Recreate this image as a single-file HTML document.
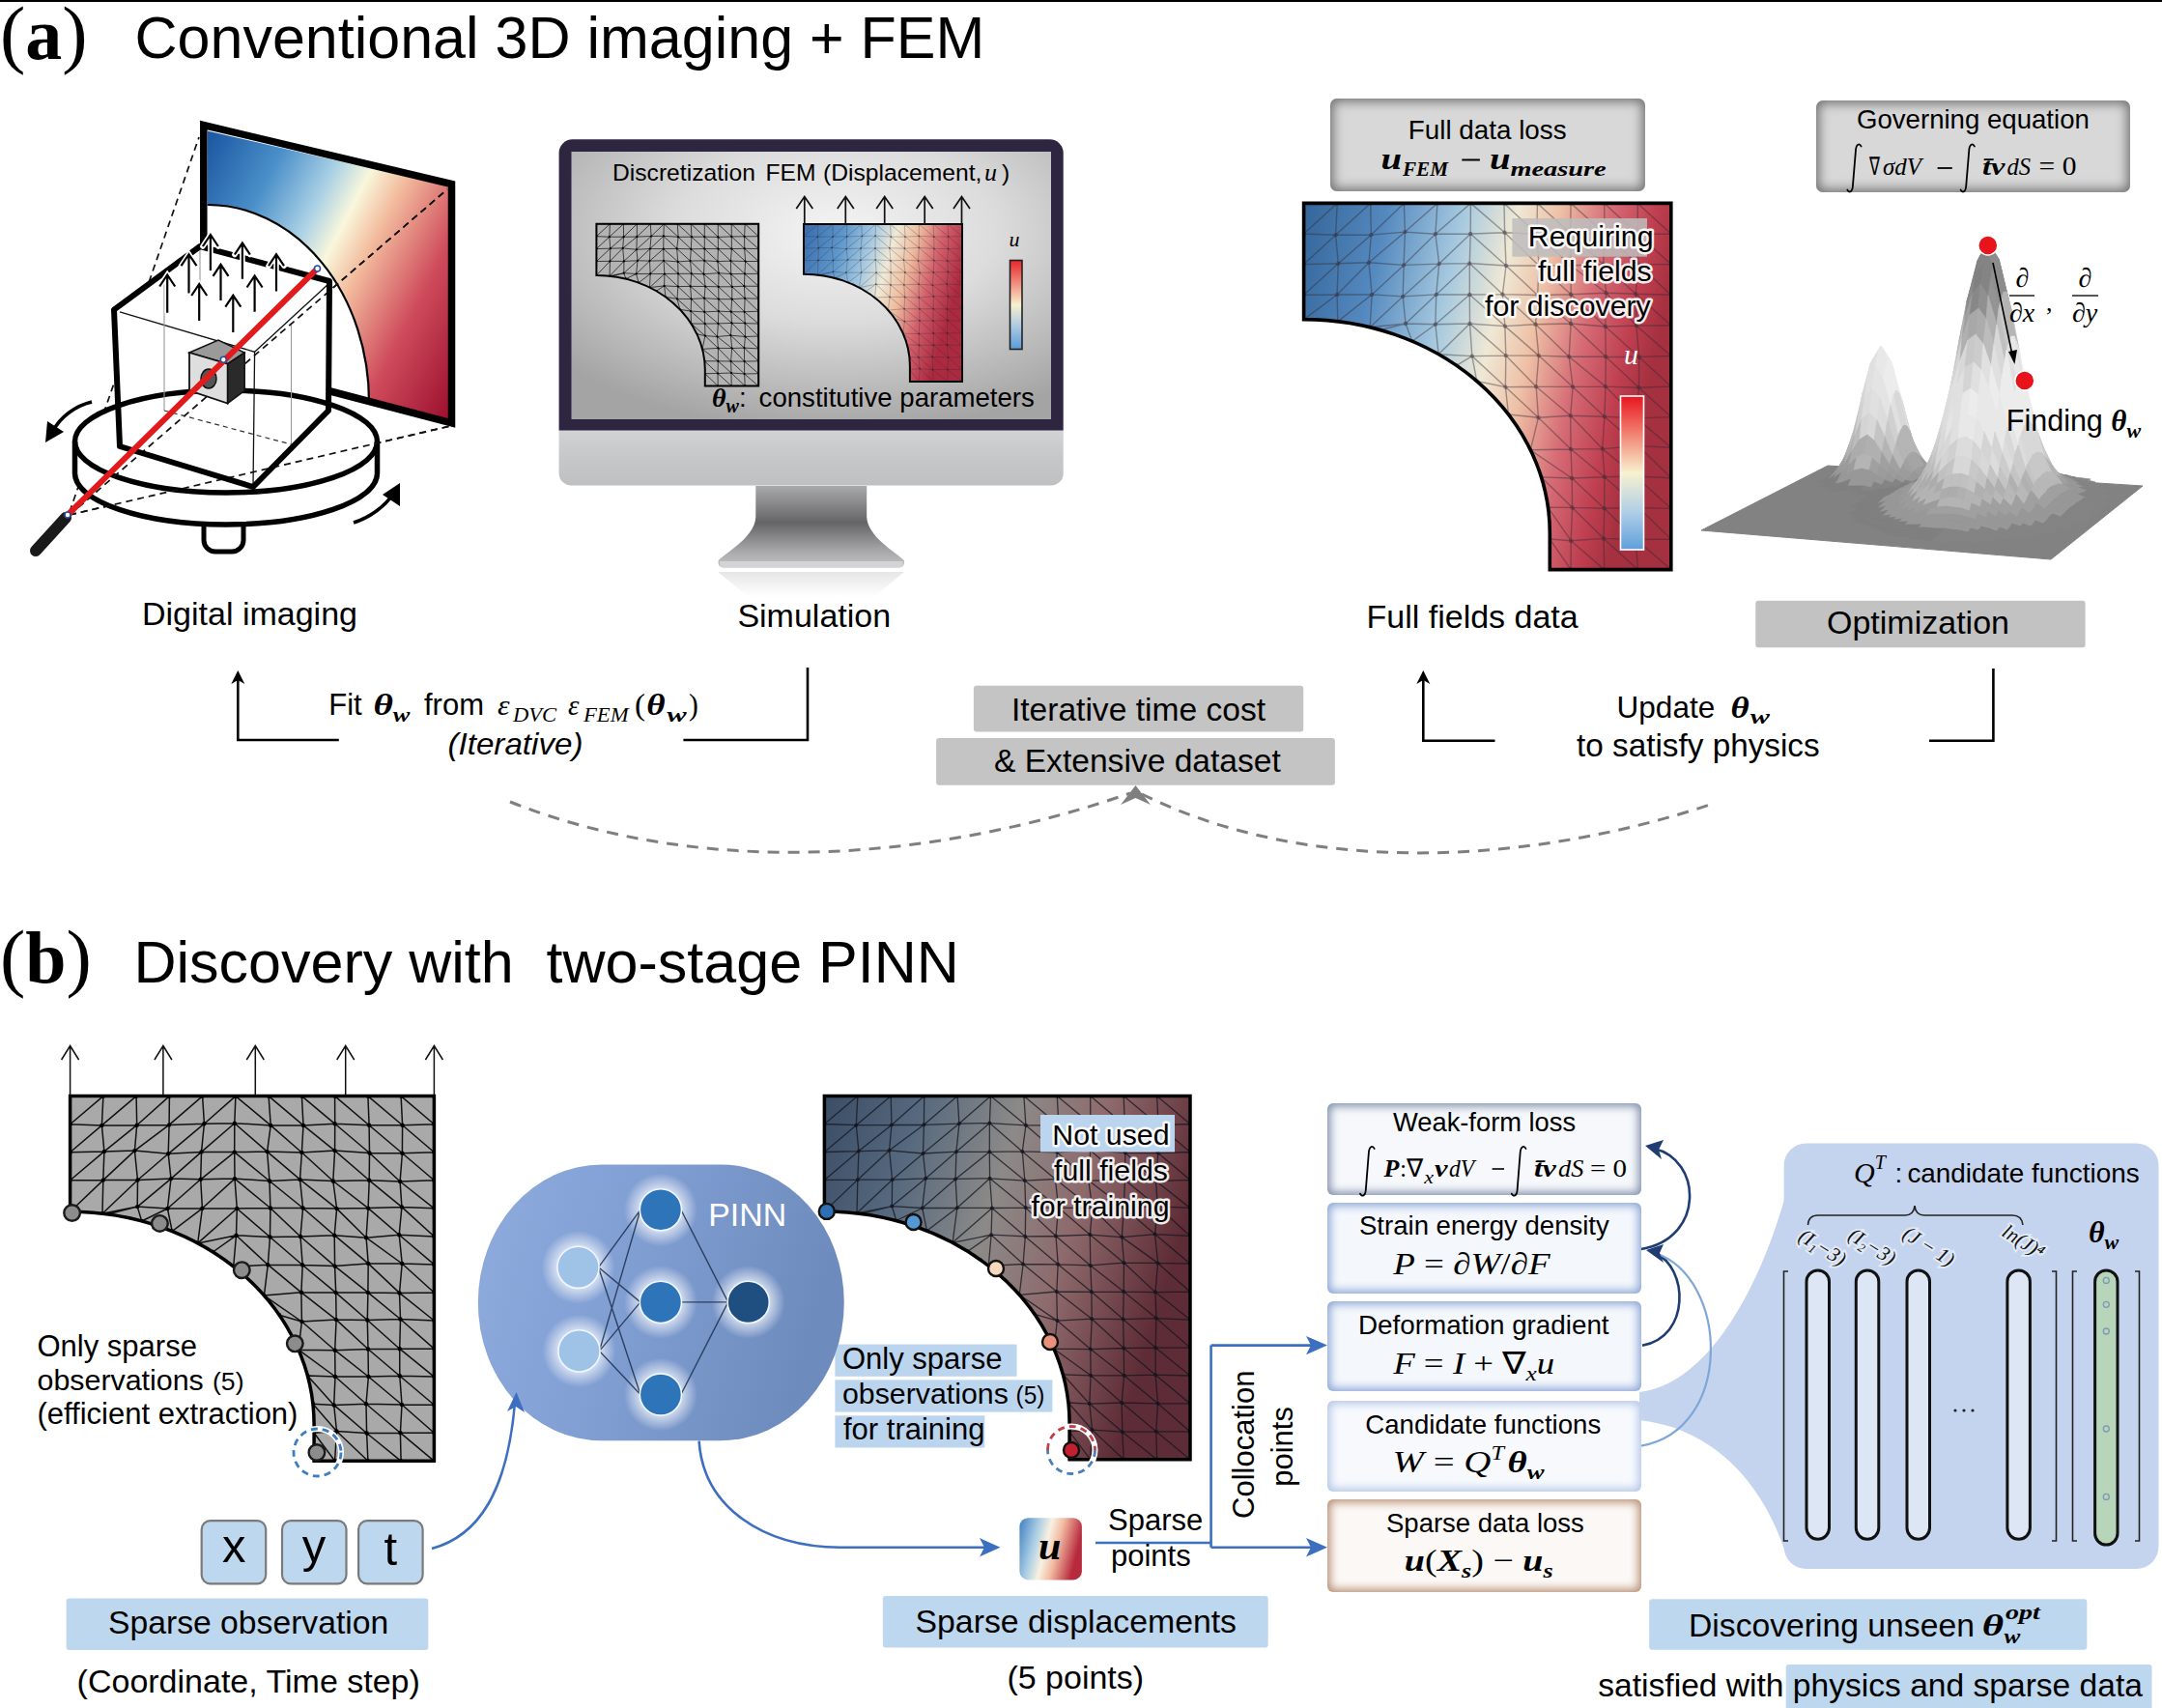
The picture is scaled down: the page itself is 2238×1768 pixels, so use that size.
<!DOCTYPE html>
<html><head><meta charset="utf-8"><style>
html,body{margin:0;padding:0;background:#fff;}
body{width:2238px;height:1768px;overflow:hidden;position:relative;}
svg{position:absolute;left:0;top:0;}
.bx{position:absolute;box-sizing:border-box;}
</style></head><body>




<div class="bx" style="left:1377.3px;top:101.8px;width:325.9px;height:96.5px;border-radius:7px;background:#d8d8d8;box-shadow:inset 0 0 12px 3px #707070;"></div><div class="bx" style="left:1879.9px;top:103.8px;width:324.7px;height:95px;border-radius:7px;background:#d8d8d8;box-shadow:inset 0 0 12px 3px #707070;"></div>

<div class="bx" style="left:1374px;top:1142.4px;width:325px;height:94.6px;border-radius:6px;background:#f6f8fb;box-shadow:inset 0 0 10px 3px #7f8fac;"></div><div class="bx" style="left:1374px;top:1244.8px;width:325px;height:94.7px;border-radius:6px;background:#f4f7fc;box-shadow:inset 0 0 10px 3px #8aa5d6;"></div><div class="bx" style="left:1374px;top:1347.2px;width:325px;height:93.1px;border-radius:6px;background:#f4f7fc;box-shadow:inset 0 0 10px 3px #8aa5d6;"></div><div class="bx" style="left:1374px;top:1449.6px;width:325px;height:94.7px;border-radius:6px;background:#f7f9fd;box-shadow:inset 0 0 10px 3px #b3c6e8;"></div><div class="bx" style="left:1374px;top:1552px;width:325px;height:96.2px;border-radius:6px;background:#fbf8f6;box-shadow:inset 0 0 10px 3px #b88e72;"></div>
<svg width="2238" height="1768" viewBox="0 0 2238 1768">
<rect x="0" y="0" width="2238" height="2" fill="#000"/>
<!-- imaging --><defs><linearGradient id="g_scr2" gradientUnits="userSpaceOnUse" x1="215" y1="150" x2="528" y2="312">
<stop offset="0" stop-color="#1d5aa3"/><stop offset="0.2" stop-color="#4a8fc9"/><stop offset="0.36" stop-color="#a9d0e5"/>
<stop offset="0.46" stop-color="#f9f7dc"/><stop offset="0.56" stop-color="#f3bd9f"/><stop offset="0.76" stop-color="#cf4c5c"/><stop offset="1" stop-color="#9c0f2e"/></linearGradient></defs><path d="M214.7,135.5 L464,193 L464,437 L382,416 A167,204 0 0 0 214.7,212 Z" fill="url(#g_scr2)"/><path d="M382,416 A167,204 0 0 0 214.7,212" fill="none" stroke="#000" stroke-width="2.2"/><path d="M210.8,258 V129.5 L467.5,190.5 V438 L342,405" fill="none" stroke="#000" stroke-width="7.5" stroke-linejoin="miter"/><path d="M72,530 L206,142" stroke="#111" stroke-width="1.7" stroke-dasharray="7 5" fill="none"/><path d="M72,533 L463,196" stroke="#111" stroke-width="1.7" stroke-dasharray="7 5" fill="none"/><path d="M72,533 L466,441" stroke="#111" stroke-width="1.7" stroke-dasharray="7 5" fill="none"/><path d="M118,320.6 L207,255 L341,291 L340,425 L262,504 L124,460 Z" fill="#fff"/><rect x="211" y="530" width="41" height="41" rx="12" fill="#fff" stroke="#000" stroke-width="5"/><path d="M77.5,490 A156.5,53 0 0 0 390.5,490 V457 A156.5,53 0 0 0 77.5,457 Z" fill="#fff"/><path d="M77.5,457 V490 A156.5,53 0 0 0 390.5,490 V457" fill="none" stroke="#000" stroke-width="5.5"/><ellipse cx="234" cy="457" rx="156.5" ry="53" fill="none" stroke="#000" stroke-width="5.5"/><path d="M72,533 L466,441" stroke="#111" stroke-width="1.7" stroke-dasharray="7 5" fill="none"/><path d="M124,322.8 L263.6,364.3 L262,504 M263.6,364.3 L341,293" fill="none" stroke="#111" stroke-width="1.3"/><path d="M170,290 V425 M301.5,334 V460 M207,255 V300" fill="none" stroke="#999" stroke-width="1.1"/><path d="M170,425 L301.5,460" fill="none" stroke="#333" stroke-width="1.2" stroke-dasharray="5 4"/><path d="M72,533 L463,196" stroke="#111" stroke-width="1.7" stroke-dasharray="7 5" fill="none"/><path d="M196,365 L226,352 L253.2,365 L235.7,376.6 Z" fill="#9a9a9a" stroke="#111" stroke-width="1.5"/><path d="M196,365 L235.7,376.6 L235.7,417.6 L196,404.4 Z" fill="#dedede" stroke="#111" stroke-width="1.8"/><path d="M235.7,376.6 L253.2,365 L253.2,404.4 L235.7,417.6 Z" fill="#2a2a2a" stroke="#111" stroke-width="1.5"/><ellipse cx="216" cy="392" rx="8" ry="10" fill="#555" stroke="#111" stroke-width="1.5"/><path d="M124,462 L118,320.6 L207,255 L341,291 L340,425 L262,504 Z" fill="none" stroke="#000" stroke-width="6" stroke-linejoin="round"/><path d="M70,533 L328.5,278" stroke="#e31a1c" stroke-width="6" stroke-linecap="round"/><path d="M68,536 L37,570" stroke="#1a1a1a" stroke-width="12" stroke-linecap="round"/><circle cx="70" cy="533" r="3" fill="#fff" stroke="#2a4c9a" stroke-width="1.6"/><circle cx="231.3" cy="372.2" r="3" fill="#fff" stroke="#2a4c9a" stroke-width="1.6"/><circle cx="328.5" cy="278" r="3" fill="#fff" stroke="#2a4c9a" stroke-width="1.6"/><path d="M173.2,323.8 V284.5 M165.2,296.5 L173.2,284.5 L181.2,296.5" fill="none" stroke="#fff" stroke-width="5.5" stroke-linecap="round"/><path d="M173.2,323.8 V284.5 M165.2,296.5 L173.2,284.5 L181.2,296.5" fill="none" stroke="#000" stroke-width="2.2"/><path d="M195.5,303.6 V263.2 M187.5,275.2 L195.5,263.2 L203.5,275.2" fill="none" stroke="#fff" stroke-width="5.5" stroke-linecap="round"/><path d="M195.5,303.6 V263.2 M187.5,275.2 L195.5,263.2 L203.5,275.2" fill="none" stroke="#000" stroke-width="2.2"/><path d="M206.2,332 V294 M198.2,306 L206.2,294 L214.2,306" fill="none" stroke="#fff" stroke-width="5.5" stroke-linecap="round"/><path d="M206.2,332 V294 M198.2,306 L206.2,294 L214.2,306" fill="none" stroke="#000" stroke-width="2.2"/><path d="M217.9,280 V243 M209.9,255 L217.9,243 L225.9,255" fill="none" stroke="#fff" stroke-width="5.5" stroke-linecap="round"/><path d="M217.9,280 V243 M209.9,255 L217.9,243 L225.9,255" fill="none" stroke="#000" stroke-width="2.2"/><path d="M228.5,311 V273.8 M220.5,285.8 L228.5,273.8 L236.5,285.8" fill="none" stroke="#fff" stroke-width="5.5" stroke-linecap="round"/><path d="M228.5,311 V273.8 M220.5,285.8 L228.5,273.8 L236.5,285.8" fill="none" stroke="#000" stroke-width="2.2"/><path d="M241.3,344 V305.7 M233.3,317.7 L241.3,305.7 L249.3,317.7" fill="none" stroke="#fff" stroke-width="5.5" stroke-linecap="round"/><path d="M241.3,344 V305.7 M233.3,317.7 L241.3,305.7 L249.3,317.7" fill="none" stroke="#000" stroke-width="2.2"/><path d="M250.9,288.7 V251.5 M242.9,263.5 L250.9,251.5 L258.9,263.5" fill="none" stroke="#fff" stroke-width="5.5" stroke-linecap="round"/><path d="M250.9,288.7 V251.5 M242.9,263.5 L250.9,251.5 L258.9,263.5" fill="none" stroke="#000" stroke-width="2.2"/><path d="M263.6,322.8 V285.5 M255.60000000000002,297.5 L263.6,285.5 L271.6,297.5" fill="none" stroke="#fff" stroke-width="5.5" stroke-linecap="round"/><path d="M263.6,322.8 V285.5 M255.60000000000002,297.5 L263.6,285.5 L271.6,297.5" fill="none" stroke="#000" stroke-width="2.2"/><path d="M286,301.5 V263.2 M278,275.2 L286,263.2 L294,275.2" fill="none" stroke="#fff" stroke-width="5.5" stroke-linecap="round"/><path d="M286,301.5 V263.2 M278,275.2 L286,263.2 L294,275.2" fill="none" stroke="#000" stroke-width="2.2"/><path d="M95,416 C78,420 62,432 55,446" fill="none" stroke="#000" stroke-width="3.5"/><path d="M47,458 L49,436 L66,447 Z" fill="#000"/><path d="M366,541 C382,536 398,525 408,510" fill="none" stroke="#000" stroke-width="3.5"/><path d="M414,500 L414,524 L396,512 Z" fill="#000"/>
<!-- monitor --><defs>
<radialGradient id="g_scr" cx="0.55" cy="0.3" r="0.75" fx="0.55" fy="0.3">
<stop offset="0" stop-color="#f4f4f4"/><stop offset="0.45" stop-color="#dcdcdc"/><stop offset="1" stop-color="#a4a4a4"/></radialGradient>
<linearGradient id="g_chin" x1="0" y1="0" x2="0" y2="1"><stop offset="0" stop-color="#d2d3d5"/><stop offset="0.5" stop-color="#c6c7c9"/><stop offset="1" stop-color="#bfc0c2"/></linearGradient>
<linearGradient id="g_neck" x1="0" y1="0" x2="0" y2="1"><stop offset="0" stop-color="#a9a9ab"/><stop offset="0.45" stop-color="#656567"/><stop offset="0.8" stop-color="#a8a8aa"/><stop offset="1" stop-color="#c4c4c6"/></linearGradient>
<linearGradient id="g_refl" x1="0" y1="0" x2="0" y2="1"><stop offset="0" stop-color="#e6e6e6"/><stop offset="1" stop-color="#ffffff"/></linearGradient>
</defs><path d="M743,592 L936,592 L905,618 L775,618 Z" fill="url(#g_refl)"/><path d="M782.3,503 L897.2,503 L897.2,535 C898,555 925,570 935.9,580 L935.9,583 C935.9,586 933,587.5 930,587.5 L749.5,587.5 C746.5,587.5 743.6,586 743.6,583 L743.6,580 C755,570 781.5,555 782.3,535 Z" fill="url(#g_neck)"/><path d="M745,581 L934.5,581 L934.5,583.5 C934.5,586 932,587.5 929,587.5 L750,587.5 C747,587.5 745,586 745,583.5 Z" fill="#d4d4d6"/><path d="M578.6,445 L1100.7,445 L1100.7,490 A12.5,12.5 0 0 1 1088.2,502.5 L591.1,502.5 A12.5,12.5 0 0 1 578.6,490 Z" fill="url(#g_chin)"/><path d="M592.6,144.3 L1086.7,144.3 A14,14 0 0 1 1100.7,158.3 L1100.7,445.5 L578.6,445.5 L578.6,158.3 A14,14 0 0 1 592.6,144.3 Z" fill="#2e2540"/><rect x="591.5" y="157" width="496.5" height="277" fill="url(#g_scr)"/>
<!-- plates --><defs><linearGradient id="g_bwr" x1="0" y1="0" x2="1" y2="0.22">
<stop offset="0" stop-color="#346599"/><stop offset="0.22" stop-color="#5489bf"/><stop offset="0.42" stop-color="#a6c9df"/>
<stop offset="0.56" stop-color="#efe8d5"/><stop offset="0.67" stop-color="#eec1a6"/><stop offset="0.8" stop-color="#d66d76"/><stop offset="0.92" stop-color="#bf3f50"/><stop offset="1" stop-color="#a5303f"/></linearGradient><linearGradient id="g_dark" x1="0" y1="0" x2="1" y2="0.3">
<stop offset="0" stop-color="#3a4d66"/><stop offset="0.25" stop-color="#56697e"/><stop offset="0.5" stop-color="#8c8a88"/>
<stop offset="0.72" stop-color="#8e6a6c"/><stop offset="1" stop-color="#5e2c36"/></linearGradient><linearGradient id="g_bwr2" x1="0" y1="0" x2="1" y2="0.3">
<stop offset="0" stop-color="#386aab"/><stop offset="0.25" stop-color="#5f98cc"/><stop offset="0.42" stop-color="#a6c9e1"/>
<stop offset="0.55" stop-color="#efe9d6"/><stop offset="0.68" stop-color="#eebb9f"/><stop offset="0.83" stop-color="#d2606b"/><stop offset="1" stop-color="#ac2a40"/></linearGradient></defs><clipPath id="cp_C"><path d="M1349.6,210.4 L1729.8,210.4 L1729.8,589.6 L1604.3,589.6 L1604.3,551.7 A254.7,221.1 0 0 0 1349.6,330.6 Z"/></clipPath><path d="M1349.6,210.4 L1729.8,210.4 L1729.8,589.6 L1604.3,589.6 L1604.3,551.7 A254.7,221.1 0 0 0 1349.6,330.6 Z" fill="url(#g_bwr)"/><g clip-path="url(#cp_C)"><path d="M1349.6,210.4L1349.6,242.0M1349.6,210.4L1384.2,210.4M1349.6,242.0L1349.6,273.6M1349.6,242.0L1382.6,243.3M1349.6,273.6L1349.6,305.2M1349.6,273.6L1385.3,272.7M1349.6,305.2L1349.6,330.6M1349.6,305.2L1384.1,305.0M1384.2,210.4L1349.6,242.0M1384.2,210.4L1382.6,243.3M1384.2,210.4L1418.7,210.4M1382.6,243.3L1349.6,273.6M1382.6,243.3L1385.3,272.7M1382.6,243.3L1419.4,243.1M1385.3,272.7L1349.6,305.2M1385.3,272.7L1384.1,305.0M1385.3,272.7L1417.0,271.8M1384.1,305.0L1349.6,330.6M1384.1,305.0L1384.8,332.7M1384.1,305.0L1420.1,304.9M1418.7,210.4L1382.6,243.3M1418.7,210.4L1419.4,243.1M1418.7,210.4L1453.3,210.4M1419.4,243.1L1385.3,272.7M1419.4,243.1L1417.0,271.8M1419.4,243.1L1454.4,240.1M1417.0,271.8L1384.1,305.0M1417.0,271.8L1420.1,304.9M1417.0,271.8L1453.1,274.4M1420.1,304.9L1384.8,332.7M1420.1,304.9L1418.1,338.7M1420.1,304.9L1452.2,306.9M1418.1,338.7L1455.0,335.0M1453.3,210.4L1419.4,243.1M1453.3,210.4L1454.4,240.1M1453.3,210.4L1487.9,210.4M1454.4,240.1L1417.0,271.8M1454.4,240.1L1453.1,274.4M1454.4,240.1L1485.9,242.2M1453.1,274.4L1420.1,304.9M1453.1,274.4L1452.2,306.9M1453.1,274.4L1489.7,273.1M1452.2,306.9L1418.1,338.7M1452.2,306.9L1455.0,335.0M1452.2,306.9L1486.7,304.9M1455.0,335.0L1428.8,341.6M1455.0,335.0L1461.9,353.2M1455.0,335.0L1485.9,335.7M1487.9,210.4L1454.4,240.1M1487.9,210.4L1485.9,242.2M1487.9,210.4L1522.4,210.4M1485.9,242.2L1453.1,274.4M1485.9,242.2L1489.7,273.1M1485.9,242.2L1522.2,242.0M1489.7,273.1L1452.2,306.9M1489.7,273.1L1486.7,304.9M1489.7,273.1L1521.3,272.6M1486.7,304.9L1455.0,335.0M1486.7,304.9L1485.9,335.7M1486.7,304.9L1521.3,305.0M1485.9,335.7L1461.9,353.2M1485.9,335.7L1489.1,366.7M1485.9,335.7L1521.5,335.0M1489.1,366.7L1523.8,368.6M1522.4,210.4L1485.9,242.2M1522.4,210.4L1522.2,242.0M1522.4,210.4L1557.0,210.4M1522.4,210.4L1557.6,240.8M1522.2,242.0L1489.7,273.1M1522.2,242.0L1521.3,272.6M1522.2,242.0L1557.6,240.8M1522.2,242.0L1559.0,275.0M1521.3,272.6L1486.7,304.9M1521.3,272.6L1521.3,305.0M1521.3,272.6L1559.0,275.0M1521.3,272.6L1555.4,304.6M1521.3,305.0L1485.9,335.7M1521.3,305.0L1521.5,335.0M1521.3,305.0L1555.4,304.6M1521.3,305.0L1557.9,337.6M1521.5,335.0L1489.1,366.7M1521.5,335.0L1523.8,368.6M1521.5,335.0L1557.9,337.6M1521.5,335.0L1558.8,368.1M1523.8,368.6L1507.6,378.3M1523.8,368.6L1528.7,394.5M1523.8,368.6L1558.8,368.1M1523.8,368.6L1558.4,400.6M1528.7,394.5L1558.4,400.6M1557.0,210.4L1557.6,240.8M1557.0,210.4L1591.5,210.4M1557.0,210.4L1590.7,242.3M1557.6,240.8L1559.0,275.0M1557.6,240.8L1590.7,242.3M1557.6,240.8L1593.1,274.9M1559.0,275.0L1555.4,304.6M1559.0,275.0L1593.1,274.9M1559.0,275.0L1591.6,305.5M1555.4,304.6L1557.9,337.6M1555.4,304.6L1591.6,305.5M1555.4,304.6L1589.6,335.8M1557.9,337.6L1558.8,368.1M1557.9,337.6L1589.6,335.8M1557.9,337.6L1592.8,368.1M1558.8,368.1L1558.4,400.6M1558.8,368.1L1592.8,368.1M1558.8,368.1L1590.2,400.2M1558.4,400.6L1561.5,429.0M1558.4,400.6L1590.2,400.2M1558.4,400.6L1592.4,432.3M1561.5,429.0L1592.4,432.3M1591.5,210.4L1590.7,242.3M1591.5,210.4L1626.1,210.4M1591.5,210.4L1625.6,241.8M1590.7,242.3L1593.1,274.9M1590.7,242.3L1625.6,241.8M1590.7,242.3L1626.1,274.7M1593.1,274.9L1591.6,305.5M1593.1,274.9L1626.1,274.7M1593.1,274.9L1626.2,304.8M1591.6,305.5L1589.6,335.8M1591.6,305.5L1626.2,304.8M1591.6,305.5L1626.1,335.0M1589.6,335.8L1592.8,368.1M1589.6,335.8L1626.1,335.0M1589.6,335.8L1624.2,369.2M1592.8,368.1L1590.2,400.2M1592.8,368.1L1624.2,369.2M1592.8,368.1L1628.1,400.4M1590.2,400.2L1592.4,432.3M1590.2,400.2L1628.1,400.4M1590.2,400.2L1625.7,430.3M1592.4,432.3L1584.3,465.8M1592.4,432.3L1625.7,430.3M1592.4,432.3L1626.1,465.0M1584.3,465.8L1626.1,465.0M1584.3,465.8L1627.2,495.0M1595.5,493.9L1627.2,495.0M1595.5,493.9L1627.6,525.4M1602.5,525.3L1627.6,525.4M1602.5,525.3L1626.2,559.7M1604.3,558.0L1626.2,559.7M1604.3,558.0L1626.1,589.6M1604.3,589.6L1626.1,589.6M1626.1,210.4L1625.6,241.8M1626.1,210.4L1660.7,210.4M1626.1,210.4L1661.0,241.8M1625.6,241.8L1626.1,274.7M1625.6,241.8L1661.0,241.8M1625.6,241.8L1659.7,273.8M1626.1,274.7L1626.2,304.8M1626.1,274.7L1659.7,273.8M1626.1,274.7L1662.6,303.3M1626.2,304.8L1626.1,335.0M1626.2,304.8L1662.6,303.3M1626.2,304.8L1661.8,338.0M1626.1,335.0L1624.2,369.2M1626.1,335.0L1661.8,338.0M1626.1,335.0L1662.3,369.3M1624.2,369.2L1628.1,400.4M1624.2,369.2L1662.3,369.3M1624.2,369.2L1662.0,400.1M1628.1,400.4L1625.7,430.3M1628.1,400.4L1662.0,400.1M1628.1,400.4L1660.9,431.3M1625.7,430.3L1626.1,465.0M1625.7,430.3L1660.9,431.3M1625.7,430.3L1658.8,464.6M1626.1,465.0L1627.2,495.0M1626.1,465.0L1658.8,464.6M1626.1,465.0L1661.0,493.7M1627.2,495.0L1627.6,525.4M1627.2,495.0L1661.0,493.7M1627.2,495.0L1660.7,526.3M1627.6,525.4L1626.2,559.7M1627.6,525.4L1660.7,526.3M1627.6,525.4L1660.1,557.4M1626.2,559.7L1626.1,589.6M1626.2,559.7L1660.1,557.4M1626.2,559.7L1660.7,589.6M1626.1,589.6L1660.7,589.6M1660.7,210.4L1661.0,241.8M1660.7,210.4L1695.2,210.4M1660.7,210.4L1695.4,242.5M1661.0,241.8L1659.7,273.8M1661.0,241.8L1695.4,242.5M1661.0,241.8L1695.7,273.4M1659.7,273.8L1662.6,303.3M1659.7,273.8L1695.7,273.4M1659.7,273.8L1693.3,304.2M1662.6,303.3L1661.8,338.0M1662.6,303.3L1693.3,304.2M1662.6,303.3L1693.9,337.1M1661.8,338.0L1662.3,369.3M1661.8,338.0L1693.9,337.1M1661.8,338.0L1696.7,369.5M1662.3,369.3L1662.0,400.1M1662.3,369.3L1696.7,369.5M1662.3,369.3L1696.5,401.2M1662.0,400.1L1660.9,431.3M1662.0,400.1L1696.5,401.2M1662.0,400.1L1694.2,432.9M1660.9,431.3L1658.8,464.6M1660.9,431.3L1694.2,432.9M1660.9,431.3L1696.0,461.6M1658.8,464.6L1661.0,493.7M1658.8,464.6L1696.0,461.6M1658.8,464.6L1693.2,493.0M1661.0,493.7L1660.7,526.3M1661.0,493.7L1693.2,493.0M1661.0,493.7L1696.3,525.5M1660.7,526.3L1660.1,557.4M1660.7,526.3L1696.3,525.5M1660.7,526.3L1693.6,558.5M1660.1,557.4L1660.7,589.6M1660.1,557.4L1693.6,558.5M1660.1,557.4L1695.2,589.6M1660.7,589.6L1695.2,589.6M1695.2,210.4L1695.4,242.5M1695.2,210.4L1729.8,210.4M1695.2,210.4L1729.8,242.0M1695.4,242.5L1695.7,273.4M1695.4,242.5L1729.8,242.0M1695.4,242.5L1729.8,273.6M1695.7,273.4L1693.3,304.2M1695.7,273.4L1729.8,273.6M1695.7,273.4L1729.8,305.2M1693.3,304.2L1693.9,337.1M1693.3,304.2L1729.8,305.2M1693.3,304.2L1729.8,336.8M1693.9,337.1L1696.7,369.5M1693.9,337.1L1729.8,336.8M1693.9,337.1L1729.8,368.4M1696.7,369.5L1696.5,401.2M1696.7,369.5L1729.8,368.4M1696.7,369.5L1729.8,400.0M1696.5,401.2L1694.2,432.9M1696.5,401.2L1729.8,400.0M1696.5,401.2L1729.8,431.6M1694.2,432.9L1696.0,461.6M1694.2,432.9L1729.8,431.6M1694.2,432.9L1729.8,463.2M1696.0,461.6L1693.2,493.0M1696.0,461.6L1729.8,463.2M1696.0,461.6L1729.8,494.8M1693.2,493.0L1696.3,525.5M1693.2,493.0L1729.8,494.8M1693.2,493.0L1729.8,526.4M1696.3,525.5L1693.6,558.5M1696.3,525.5L1729.8,526.4M1696.3,525.5L1729.8,558.0M1693.6,558.5L1695.2,589.6M1693.6,558.5L1729.8,558.0M1693.6,558.5L1729.8,589.6M1695.2,589.6L1729.8,589.6M1729.8,210.4L1729.8,242.0M1729.8,242.0L1729.8,273.6M1729.8,273.6L1729.8,305.2M1729.8,305.2L1729.8,336.8M1729.8,336.8L1729.8,368.4M1729.8,368.4L1729.8,400.0M1729.8,400.0L1729.8,431.6M1729.8,431.6L1729.8,463.2M1729.8,463.2L1729.8,494.8M1729.8,494.8L1729.8,526.4M1729.8,526.4L1729.8,558.0M1729.8,558.0L1729.8,589.6" stroke="rgba(50,40,50,0.42)" stroke-width="1.4" fill="none"/><path d="M1347.4,210.4a2.2,2.2 0 1 0 4.4,0a2.2,2.2 0 1 0 -4.4,0M1347.4,242.0a2.2,2.2 0 1 0 4.4,0a2.2,2.2 0 1 0 -4.4,0M1347.4,273.6a2.2,2.2 0 1 0 4.4,0a2.2,2.2 0 1 0 -4.4,0M1347.4,305.2a2.2,2.2 0 1 0 4.4,0a2.2,2.2 0 1 0 -4.4,0M1347.4,330.6a2.2,2.2 0 1 0 4.4,0a2.2,2.2 0 1 0 -4.4,0M1382.0,210.4a2.2,2.2 0 1 0 4.4,0a2.2,2.2 0 1 0 -4.4,0M1380.4,243.3a2.2,2.2 0 1 0 4.4,0a2.2,2.2 0 1 0 -4.4,0M1383.1,272.7a2.2,2.2 0 1 0 4.4,0a2.2,2.2 0 1 0 -4.4,0M1381.9,305.0a2.2,2.2 0 1 0 4.4,0a2.2,2.2 0 1 0 -4.4,0M1382.6,332.7a2.2,2.2 0 1 0 4.4,0a2.2,2.2 0 1 0 -4.4,0M1416.5,210.4a2.2,2.2 0 1 0 4.4,0a2.2,2.2 0 1 0 -4.4,0M1417.2,243.1a2.2,2.2 0 1 0 4.4,0a2.2,2.2 0 1 0 -4.4,0M1414.8,271.8a2.2,2.2 0 1 0 4.4,0a2.2,2.2 0 1 0 -4.4,0M1417.9,304.9a2.2,2.2 0 1 0 4.4,0a2.2,2.2 0 1 0 -4.4,0M1415.9,338.7a2.2,2.2 0 1 0 4.4,0a2.2,2.2 0 1 0 -4.4,0M1426.6,341.6a2.2,2.2 0 1 0 4.4,0a2.2,2.2 0 1 0 -4.4,0M1451.1,210.4a2.2,2.2 0 1 0 4.4,0a2.2,2.2 0 1 0 -4.4,0M1452.2,240.1a2.2,2.2 0 1 0 4.4,0a2.2,2.2 0 1 0 -4.4,0M1450.9,274.4a2.2,2.2 0 1 0 4.4,0a2.2,2.2 0 1 0 -4.4,0M1450.0,306.9a2.2,2.2 0 1 0 4.4,0a2.2,2.2 0 1 0 -4.4,0M1452.8,335.0a2.2,2.2 0 1 0 4.4,0a2.2,2.2 0 1 0 -4.4,0M1459.7,353.2a2.2,2.2 0 1 0 4.4,0a2.2,2.2 0 1 0 -4.4,0M1485.7,210.4a2.2,2.2 0 1 0 4.4,0a2.2,2.2 0 1 0 -4.4,0M1483.7,242.2a2.2,2.2 0 1 0 4.4,0a2.2,2.2 0 1 0 -4.4,0M1487.5,273.1a2.2,2.2 0 1 0 4.4,0a2.2,2.2 0 1 0 -4.4,0M1484.5,304.9a2.2,2.2 0 1 0 4.4,0a2.2,2.2 0 1 0 -4.4,0M1483.7,335.7a2.2,2.2 0 1 0 4.4,0a2.2,2.2 0 1 0 -4.4,0M1486.9,366.7a2.2,2.2 0 1 0 4.4,0a2.2,2.2 0 1 0 -4.4,0M1505.4,378.3a2.2,2.2 0 1 0 4.4,0a2.2,2.2 0 1 0 -4.4,0M1520.2,210.4a2.2,2.2 0 1 0 4.4,0a2.2,2.2 0 1 0 -4.4,0M1520.0,242.0a2.2,2.2 0 1 0 4.4,0a2.2,2.2 0 1 0 -4.4,0M1519.1,272.6a2.2,2.2 0 1 0 4.4,0a2.2,2.2 0 1 0 -4.4,0M1519.1,305.0a2.2,2.2 0 1 0 4.4,0a2.2,2.2 0 1 0 -4.4,0M1519.3,335.0a2.2,2.2 0 1 0 4.4,0a2.2,2.2 0 1 0 -4.4,0M1521.6,368.6a2.2,2.2 0 1 0 4.4,0a2.2,2.2 0 1 0 -4.4,0M1526.5,394.5a2.2,2.2 0 1 0 4.4,0a2.2,2.2 0 1 0 -4.4,0M1554.8,210.4a2.2,2.2 0 1 0 4.4,0a2.2,2.2 0 1 0 -4.4,0M1555.4,240.8a2.2,2.2 0 1 0 4.4,0a2.2,2.2 0 1 0 -4.4,0M1556.8,275.0a2.2,2.2 0 1 0 4.4,0a2.2,2.2 0 1 0 -4.4,0M1553.2,304.6a2.2,2.2 0 1 0 4.4,0a2.2,2.2 0 1 0 -4.4,0M1555.7,337.6a2.2,2.2 0 1 0 4.4,0a2.2,2.2 0 1 0 -4.4,0M1556.6,368.1a2.2,2.2 0 1 0 4.4,0a2.2,2.2 0 1 0 -4.4,0M1556.2,400.6a2.2,2.2 0 1 0 4.4,0a2.2,2.2 0 1 0 -4.4,0M1559.3,429.0a2.2,2.2 0 1 0 4.4,0a2.2,2.2 0 1 0 -4.4,0M1589.3,210.4a2.2,2.2 0 1 0 4.4,0a2.2,2.2 0 1 0 -4.4,0M1588.5,242.3a2.2,2.2 0 1 0 4.4,0a2.2,2.2 0 1 0 -4.4,0M1590.9,274.9a2.2,2.2 0 1 0 4.4,0a2.2,2.2 0 1 0 -4.4,0M1589.4,305.5a2.2,2.2 0 1 0 4.4,0a2.2,2.2 0 1 0 -4.4,0M1587.4,335.8a2.2,2.2 0 1 0 4.4,0a2.2,2.2 0 1 0 -4.4,0M1590.6,368.1a2.2,2.2 0 1 0 4.4,0a2.2,2.2 0 1 0 -4.4,0M1588.0,400.2a2.2,2.2 0 1 0 4.4,0a2.2,2.2 0 1 0 -4.4,0M1590.2,432.3a2.2,2.2 0 1 0 4.4,0a2.2,2.2 0 1 0 -4.4,0M1582.1,465.8a2.2,2.2 0 1 0 4.4,0a2.2,2.2 0 1 0 -4.4,0M1593.3,493.9a2.2,2.2 0 1 0 4.4,0a2.2,2.2 0 1 0 -4.4,0M1600.3,525.3a2.2,2.2 0 1 0 4.4,0a2.2,2.2 0 1 0 -4.4,0M1602.1,558.0a2.2,2.2 0 1 0 4.4,0a2.2,2.2 0 1 0 -4.4,0M1602.1,589.6a2.2,2.2 0 1 0 4.4,0a2.2,2.2 0 1 0 -4.4,0M1623.9,210.4a2.2,2.2 0 1 0 4.4,0a2.2,2.2 0 1 0 -4.4,0M1623.4,241.8a2.2,2.2 0 1 0 4.4,0a2.2,2.2 0 1 0 -4.4,0M1623.9,274.7a2.2,2.2 0 1 0 4.4,0a2.2,2.2 0 1 0 -4.4,0M1624.0,304.8a2.2,2.2 0 1 0 4.4,0a2.2,2.2 0 1 0 -4.4,0M1623.9,335.0a2.2,2.2 0 1 0 4.4,0a2.2,2.2 0 1 0 -4.4,0M1622.0,369.2a2.2,2.2 0 1 0 4.4,0a2.2,2.2 0 1 0 -4.4,0M1625.9,400.4a2.2,2.2 0 1 0 4.4,0a2.2,2.2 0 1 0 -4.4,0M1623.5,430.3a2.2,2.2 0 1 0 4.4,0a2.2,2.2 0 1 0 -4.4,0M1623.9,465.0a2.2,2.2 0 1 0 4.4,0a2.2,2.2 0 1 0 -4.4,0M1625.0,495.0a2.2,2.2 0 1 0 4.4,0a2.2,2.2 0 1 0 -4.4,0M1625.4,525.4a2.2,2.2 0 1 0 4.4,0a2.2,2.2 0 1 0 -4.4,0M1624.0,559.7a2.2,2.2 0 1 0 4.4,0a2.2,2.2 0 1 0 -4.4,0M1623.9,589.6a2.2,2.2 0 1 0 4.4,0a2.2,2.2 0 1 0 -4.4,0M1658.5,210.4a2.2,2.2 0 1 0 4.4,0a2.2,2.2 0 1 0 -4.4,0M1658.8,241.8a2.2,2.2 0 1 0 4.4,0a2.2,2.2 0 1 0 -4.4,0M1657.5,273.8a2.2,2.2 0 1 0 4.4,0a2.2,2.2 0 1 0 -4.4,0M1660.4,303.3a2.2,2.2 0 1 0 4.4,0a2.2,2.2 0 1 0 -4.4,0M1659.6,338.0a2.2,2.2 0 1 0 4.4,0a2.2,2.2 0 1 0 -4.4,0M1660.1,369.3a2.2,2.2 0 1 0 4.4,0a2.2,2.2 0 1 0 -4.4,0M1659.8,400.1a2.2,2.2 0 1 0 4.4,0a2.2,2.2 0 1 0 -4.4,0M1658.7,431.3a2.2,2.2 0 1 0 4.4,0a2.2,2.2 0 1 0 -4.4,0M1656.6,464.6a2.2,2.2 0 1 0 4.4,0a2.2,2.2 0 1 0 -4.4,0M1658.8,493.7a2.2,2.2 0 1 0 4.4,0a2.2,2.2 0 1 0 -4.4,0M1658.5,526.3a2.2,2.2 0 1 0 4.4,0a2.2,2.2 0 1 0 -4.4,0M1657.9,557.4a2.2,2.2 0 1 0 4.4,0a2.2,2.2 0 1 0 -4.4,0M1658.5,589.6a2.2,2.2 0 1 0 4.4,0a2.2,2.2 0 1 0 -4.4,0M1693.0,210.4a2.2,2.2 0 1 0 4.4,0a2.2,2.2 0 1 0 -4.4,0M1693.2,242.5a2.2,2.2 0 1 0 4.4,0a2.2,2.2 0 1 0 -4.4,0M1693.5,273.4a2.2,2.2 0 1 0 4.4,0a2.2,2.2 0 1 0 -4.4,0M1691.1,304.2a2.2,2.2 0 1 0 4.4,0a2.2,2.2 0 1 0 -4.4,0M1691.7,337.1a2.2,2.2 0 1 0 4.4,0a2.2,2.2 0 1 0 -4.4,0M1694.5,369.5a2.2,2.2 0 1 0 4.4,0a2.2,2.2 0 1 0 -4.4,0M1694.3,401.2a2.2,2.2 0 1 0 4.4,0a2.2,2.2 0 1 0 -4.4,0M1692.0,432.9a2.2,2.2 0 1 0 4.4,0a2.2,2.2 0 1 0 -4.4,0M1693.8,461.6a2.2,2.2 0 1 0 4.4,0a2.2,2.2 0 1 0 -4.4,0M1691.0,493.0a2.2,2.2 0 1 0 4.4,0a2.2,2.2 0 1 0 -4.4,0M1694.1,525.5a2.2,2.2 0 1 0 4.4,0a2.2,2.2 0 1 0 -4.4,0M1691.4,558.5a2.2,2.2 0 1 0 4.4,0a2.2,2.2 0 1 0 -4.4,0M1693.0,589.6a2.2,2.2 0 1 0 4.4,0a2.2,2.2 0 1 0 -4.4,0M1727.6,210.4a2.2,2.2 0 1 0 4.4,0a2.2,2.2 0 1 0 -4.4,0M1727.6,242.0a2.2,2.2 0 1 0 4.4,0a2.2,2.2 0 1 0 -4.4,0M1727.6,273.6a2.2,2.2 0 1 0 4.4,0a2.2,2.2 0 1 0 -4.4,0M1727.6,305.2a2.2,2.2 0 1 0 4.4,0a2.2,2.2 0 1 0 -4.4,0M1727.6,336.8a2.2,2.2 0 1 0 4.4,0a2.2,2.2 0 1 0 -4.4,0M1727.6,368.4a2.2,2.2 0 1 0 4.4,0a2.2,2.2 0 1 0 -4.4,0M1727.6,400.0a2.2,2.2 0 1 0 4.4,0a2.2,2.2 0 1 0 -4.4,0M1727.6,431.6a2.2,2.2 0 1 0 4.4,0a2.2,2.2 0 1 0 -4.4,0M1727.6,463.2a2.2,2.2 0 1 0 4.4,0a2.2,2.2 0 1 0 -4.4,0M1727.6,494.8a2.2,2.2 0 1 0 4.4,0a2.2,2.2 0 1 0 -4.4,0M1727.6,526.4a2.2,2.2 0 1 0 4.4,0a2.2,2.2 0 1 0 -4.4,0M1727.6,558.0a2.2,2.2 0 1 0 4.4,0a2.2,2.2 0 1 0 -4.4,0M1727.6,589.6a2.2,2.2 0 1 0 4.4,0a2.2,2.2 0 1 0 -4.4,0" fill="rgba(50,40,50,0.45)"/></g><path d="M1349.6,210.4 L1729.8,210.4 L1729.8,589.6 L1604.3,589.6 L1604.3,551.7 A254.7,221.1 0 0 0 1349.6,330.6 Z" fill="none" stroke="#000" stroke-width="3.6" stroke-linejoin="miter"/><clipPath id="cp_A"><path d="M617.4,231.8 L785.2,231.8 L785.2,399.6 L729.8,399.6 L729.8,382.8 A112.4,97.8 0 0 0 617.4,285.0 Z"/></clipPath><path d="M617.4,231.8 L785.2,231.8 L785.2,399.6 L729.8,399.6 L729.8,382.8 A112.4,97.8 0 0 0 617.4,285.0 Z" fill="#b3b3b3"/><g clip-path="url(#cp_A)"><path d="M617.4,231.8L617.4,244.7M617.4,231.8L631.4,231.8M617.4,244.7L617.4,257.6M617.4,244.7L630.8,245.2M617.4,257.6L617.4,270.5M617.4,257.6L631.8,257.2M617.4,270.5L617.4,285.0M617.4,270.5L631.4,270.4M631.4,231.8L617.4,244.7M631.4,231.8L630.8,245.2M631.4,231.8L645.4,231.8M630.8,245.2L617.4,257.6M630.8,245.2L631.8,257.2M630.8,245.2L645.6,245.2M631.8,257.2L617.4,270.5M631.8,257.2L631.4,270.4M631.8,257.2L644.7,256.9M631.4,270.4L617.4,285.0M631.4,270.4L631.1,285.7M631.4,270.4L645.9,270.4M631.1,285.7L645.8,282.7M645.4,231.8L630.8,245.2M645.4,231.8L645.6,245.2M645.4,231.8L659.4,231.8M645.6,245.2L631.8,257.2M645.6,245.2L644.7,256.9M645.6,245.2L659.3,245.1M644.7,256.9L631.4,270.4M644.7,256.9L645.9,270.4M644.7,256.9L658.9,258.3M645.9,270.4L631.1,285.7M645.9,270.4L645.8,282.7M645.9,270.4L660.0,269.8M645.8,282.7L633.1,285.9M645.8,282.7L647.9,288.6M645.8,282.7L658.6,283.5M659.4,231.8L645.6,245.2M659.4,231.8L659.3,245.1M659.4,231.8L673.3,231.8M659.3,245.1L644.7,256.9M659.3,245.1L658.9,258.3M659.3,245.1L674.1,244.5M658.9,258.3L645.9,270.4M658.9,258.3L660.0,269.8M658.9,258.3L672.9,257.5M660.0,269.8L645.8,282.7M660.0,269.8L658.6,283.5M660.0,269.8L672.5,270.1M658.6,283.5L647.9,288.6M658.6,283.5L661.1,292.7M658.6,283.5L673.2,283.4M673.3,231.8L659.3,245.1M673.3,231.8L674.1,244.5M673.3,231.8L687.3,231.8M674.1,244.5L658.9,258.3M674.1,244.5L672.9,257.5M674.1,244.5L686.9,244.3M672.9,257.5L660.0,269.8M672.9,257.5L672.5,270.1M672.9,257.5L686.8,257.6M672.5,270.1L658.6,283.5M672.5,270.1L673.2,283.4M672.5,270.1L687.0,269.8M673.2,283.4L661.1,292.7M673.2,283.4L672.5,297.6M673.2,283.4L687.9,283.5M672.5,297.6L687.6,295.9M687.3,231.8L674.1,244.5M687.3,231.8L686.9,244.3M687.3,231.8L701.3,231.8M687.3,231.8L702.1,245.3M686.9,244.3L672.9,257.5M686.9,244.3L686.8,257.6M686.9,244.3L702.1,245.3M686.9,244.3L700.7,257.4M686.8,257.6L672.5,270.1M686.8,257.6L687.0,269.8M686.8,257.6L700.7,257.4M686.8,257.6L701.7,270.9M687.0,269.8L673.2,283.4M687.0,269.8L687.9,283.5M687.0,269.8L701.7,270.9M687.0,269.8L702.0,283.3M687.9,283.5L672.5,297.6M687.9,283.5L687.6,295.9M687.9,283.5L702.0,283.3M687.9,283.5L701.9,296.6M687.6,295.9L679.4,301.2M687.6,295.9L689.0,307.4M687.6,295.9L701.9,296.6M687.6,295.9L701.0,309.4M689.0,307.4L701.0,309.4M701.3,231.8L702.1,245.3M701.3,231.8L715.3,231.8M701.3,231.8L715.9,245.2M702.1,245.3L700.7,257.4M702.1,245.3L715.9,245.2M702.1,245.3L715.3,257.8M700.7,257.4L701.7,270.9M700.7,257.4L715.3,257.8M700.7,257.4L714.5,270.1M701.7,270.9L702.0,283.3M701.7,270.9L714.5,270.1M701.7,270.9L715.8,283.3M702.0,283.3L701.9,296.6M702.0,283.3L715.8,283.3M702.0,283.3L714.7,296.4M701.9,296.6L701.0,309.4M701.9,296.6L714.7,296.4M701.9,296.6L715.6,309.5M701.0,309.4L703.9,320.3M701.0,309.4L715.6,309.5M701.0,309.4L715.1,322.1M703.9,320.3L715.1,322.1M715.3,231.8L715.9,245.2M715.3,231.8L729.3,231.8M715.3,231.8L729.3,245.1M715.9,245.2L715.3,257.8M715.9,245.2L729.3,245.1M715.9,245.2L729.3,257.5M715.3,257.8L714.5,270.1M715.3,257.8L729.3,257.5M715.3,257.8L729.2,269.8M714.5,270.1L715.8,283.3M714.5,270.1L729.2,269.8M714.5,270.1L728.5,283.7M715.8,283.3L714.7,296.4M715.8,283.3L728.5,283.7M715.8,283.3L730.1,296.5M714.7,296.4L715.6,309.5M714.7,296.4L730.1,296.5M714.7,296.4L729.1,308.7M715.6,309.5L715.1,322.1M715.6,309.5L729.1,308.7M715.6,309.5L729.3,322.9M715.1,322.1L715.5,335.0M715.1,322.1L729.3,322.9M715.1,322.1L729.7,335.1M715.5,335.0L729.7,335.1M715.5,335.0L729.9,347.6M721.5,345.8L729.9,347.6M729.3,231.8L729.3,245.1M729.3,231.8L743.2,231.8M729.3,231.8L743.3,245.4M729.3,245.1L729.3,257.5M729.3,245.1L743.3,245.4M729.3,245.1L743.4,257.6M729.3,257.5L729.2,269.8M729.3,257.5L743.4,257.6M729.3,257.5L742.9,270.6M729.2,269.8L728.5,283.7M729.2,269.8L742.9,270.6M729.2,269.8L744.0,282.7M728.5,283.7L730.1,296.5M728.5,283.7L744.0,282.7M728.5,283.7L743.7,296.8M730.1,296.5L729.1,308.7M730.1,296.5L743.7,296.8M730.1,296.5L743.9,309.6M729.1,308.7L729.3,322.9M729.1,308.7L743.9,309.6M729.1,308.7L743.8,322.2M729.3,322.9L729.7,335.1M729.3,322.9L743.8,322.2M729.3,322.9L743.4,334.9M729.7,335.1L729.9,347.6M729.7,335.1L743.4,334.9M729.7,335.1L742.5,348.5M729.9,347.6L727.1,361.3M729.9,347.6L742.5,348.5M729.9,347.6L743.4,360.4M727.1,361.3L743.4,360.4M727.1,361.3L743.3,373.8M729.3,373.8L743.3,373.8M729.3,373.8L743.0,386.5M729.8,386.7L743.0,386.5M729.8,386.7L743.2,399.6M729.8,399.6L743.2,399.6M743.2,231.8L743.3,245.4M743.2,231.8L757.2,231.8M743.2,231.8L757.3,244.9M743.3,245.4L743.4,257.6M743.3,245.4L757.3,244.9M743.3,245.4L757.4,257.6M743.4,257.6L742.9,270.6M743.4,257.6L757.4,257.6M743.4,257.6L756.4,270.1M742.9,270.6L744.0,282.7M742.9,270.6L756.4,270.1M742.9,270.6L756.7,283.6M744.0,282.7L743.7,296.8M744.0,282.7L756.7,283.6M744.0,282.7L757.8,296.8M743.7,296.8L743.9,309.6M743.7,296.8L757.8,296.8M743.7,296.8L757.7,309.7M743.9,309.6L743.8,322.2M743.9,309.6L757.7,309.7M743.9,309.6L756.8,322.7M743.8,322.2L743.4,334.9M743.8,322.2L756.8,322.7M743.8,322.2L757.5,334.4M743.4,334.9L742.5,348.5M743.4,334.9L757.5,334.4M743.4,334.9L756.4,347.2M742.5,348.5L743.4,360.4M742.5,348.5L756.4,347.2M742.5,348.5L757.7,360.5M743.4,360.4L743.3,373.8M743.4,360.4L757.7,360.5M743.4,360.4L756.6,374.0M743.3,373.8L743.0,386.5M743.3,373.8L756.6,374.0M743.3,373.8L757.0,386.0M743.0,386.5L743.2,399.6M743.0,386.5L757.0,386.0M743.0,386.5L757.2,399.6M743.2,399.6L757.2,399.6M757.2,231.8L757.3,244.9M757.2,231.8L771.2,231.8M757.2,231.8L770.6,244.8M757.3,244.9L757.4,257.6M757.3,244.9L770.6,244.8M757.3,244.9L770.7,257.3M757.4,257.6L756.4,270.1M757.4,257.6L770.7,257.3M757.4,257.6L771.6,270.5M756.4,270.1L756.7,283.6M756.4,270.1L771.6,270.5M756.4,270.1L770.9,283.4M756.7,283.6L757.8,296.8M756.7,283.6L770.9,283.4M756.7,283.6L770.4,296.2M757.8,296.8L757.7,309.7M757.8,296.8L770.4,296.2M757.8,296.8L771.1,308.8M757.7,309.7L756.8,322.7M757.7,309.7L771.1,308.8M757.7,309.7L770.6,322.8M756.8,322.7L757.5,334.4M756.8,322.7L770.6,322.8M756.8,322.7L771.2,334.6M757.5,334.4L756.4,347.2M757.5,334.4L771.2,334.6M757.5,334.4L771.4,348.5M756.4,347.2L757.7,360.5M756.4,347.2L771.4,348.5M756.4,347.2L770.4,360.1M757.7,360.5L756.6,374.0M757.7,360.5L770.4,360.1M757.7,360.5L770.6,374.1M756.6,374.0L757.0,386.0M756.6,374.0L770.6,374.1M756.6,374.0L770.6,387.0M757.0,386.0L757.2,399.6M757.0,386.0L770.6,387.0M757.0,386.0L771.2,399.6M757.2,399.6L771.2,399.6M771.2,231.8L770.6,244.8M771.2,231.8L785.2,231.8M771.2,231.8L785.2,244.7M770.6,244.8L770.7,257.3M770.6,244.8L785.2,244.7M770.6,244.8L785.2,257.6M770.7,257.3L771.6,270.5M770.7,257.3L785.2,257.6M770.7,257.3L785.2,270.5M771.6,270.5L770.9,283.4M771.6,270.5L785.2,270.5M771.6,270.5L785.2,283.4M770.9,283.4L770.4,296.2M770.9,283.4L785.2,283.4M770.9,283.4L785.2,296.3M770.4,296.2L771.1,308.8M770.4,296.2L785.2,296.3M770.4,296.2L785.2,309.2M771.1,308.8L770.6,322.8M771.1,308.8L785.2,309.2M771.1,308.8L785.2,322.2M770.6,322.8L771.2,334.6M770.6,322.8L785.2,322.2M770.6,322.8L785.2,335.1M771.2,334.6L771.4,348.5M771.2,334.6L785.2,335.1M771.2,334.6L785.2,348.0M771.4,348.5L770.4,360.1M771.4,348.5L785.2,348.0M771.4,348.5L785.2,360.9M770.4,360.1L770.6,374.1M770.4,360.1L785.2,360.9M770.4,360.1L785.2,373.8M770.6,374.1L770.6,387.0M770.6,374.1L785.2,373.8M770.6,374.1L785.2,386.7M770.6,387.0L771.2,399.6M770.6,387.0L785.2,386.7M770.6,387.0L785.2,399.6M771.2,399.6L785.2,399.6M785.2,231.8L785.2,244.7M785.2,244.7L785.2,257.6M785.2,257.6L785.2,270.5M785.2,270.5L785.2,283.4M785.2,283.4L785.2,296.3M785.2,296.3L785.2,309.2M785.2,309.2L785.2,322.2M785.2,322.2L785.2,335.1M785.2,335.1L785.2,348.0M785.2,348.0L785.2,360.9M785.2,360.9L785.2,373.8M785.2,373.8L785.2,386.7M785.2,386.7L785.2,399.6" stroke="rgba(0,0,0,0.75)" stroke-width="0.9" fill="none"/><path d="M616.3,231.8a1.1,1.1 0 1 0 2.2,0a1.1,1.1 0 1 0 -2.2,0M616.3,244.7a1.1,1.1 0 1 0 2.2,0a1.1,1.1 0 1 0 -2.2,0M616.3,257.6a1.1,1.1 0 1 0 2.2,0a1.1,1.1 0 1 0 -2.2,0M616.3,270.5a1.1,1.1 0 1 0 2.2,0a1.1,1.1 0 1 0 -2.2,0M616.3,285.0a1.1,1.1 0 1 0 2.2,0a1.1,1.1 0 1 0 -2.2,0M630.3,231.8a1.1,1.1 0 1 0 2.2,0a1.1,1.1 0 1 0 -2.2,0M629.7,245.2a1.1,1.1 0 1 0 2.2,0a1.1,1.1 0 1 0 -2.2,0M630.7,257.2a1.1,1.1 0 1 0 2.2,0a1.1,1.1 0 1 0 -2.2,0M630.3,270.4a1.1,1.1 0 1 0 2.2,0a1.1,1.1 0 1 0 -2.2,0M630.0,285.7a1.1,1.1 0 1 0 2.2,0a1.1,1.1 0 1 0 -2.2,0M632.0,285.9a1.1,1.1 0 1 0 2.2,0a1.1,1.1 0 1 0 -2.2,0M644.3,231.8a1.1,1.1 0 1 0 2.2,0a1.1,1.1 0 1 0 -2.2,0M644.5,245.2a1.1,1.1 0 1 0 2.2,0a1.1,1.1 0 1 0 -2.2,0M643.6,256.9a1.1,1.1 0 1 0 2.2,0a1.1,1.1 0 1 0 -2.2,0M644.8,270.4a1.1,1.1 0 1 0 2.2,0a1.1,1.1 0 1 0 -2.2,0M644.7,282.7a1.1,1.1 0 1 0 2.2,0a1.1,1.1 0 1 0 -2.2,0M646.8,288.6a1.1,1.1 0 1 0 2.2,0a1.1,1.1 0 1 0 -2.2,0M658.2,231.8a1.1,1.1 0 1 0 2.2,0a1.1,1.1 0 1 0 -2.2,0M658.2,245.1a1.1,1.1 0 1 0 2.2,0a1.1,1.1 0 1 0 -2.2,0M657.8,258.3a1.1,1.1 0 1 0 2.2,0a1.1,1.1 0 1 0 -2.2,0M658.9,269.8a1.1,1.1 0 1 0 2.2,0a1.1,1.1 0 1 0 -2.2,0M657.5,283.5a1.1,1.1 0 1 0 2.2,0a1.1,1.1 0 1 0 -2.2,0M660.0,292.7a1.1,1.1 0 1 0 2.2,0a1.1,1.1 0 1 0 -2.2,0M672.2,231.8a1.1,1.1 0 1 0 2.2,0a1.1,1.1 0 1 0 -2.2,0M673.0,244.5a1.1,1.1 0 1 0 2.2,0a1.1,1.1 0 1 0 -2.2,0M671.8,257.5a1.1,1.1 0 1 0 2.2,0a1.1,1.1 0 1 0 -2.2,0M671.4,270.1a1.1,1.1 0 1 0 2.2,0a1.1,1.1 0 1 0 -2.2,0M672.1,283.4a1.1,1.1 0 1 0 2.2,0a1.1,1.1 0 1 0 -2.2,0M671.4,297.6a1.1,1.1 0 1 0 2.2,0a1.1,1.1 0 1 0 -2.2,0M678.3,301.2a1.1,1.1 0 1 0 2.2,0a1.1,1.1 0 1 0 -2.2,0M686.2,231.8a1.1,1.1 0 1 0 2.2,0a1.1,1.1 0 1 0 -2.2,0M685.8,244.3a1.1,1.1 0 1 0 2.2,0a1.1,1.1 0 1 0 -2.2,0M685.7,257.6a1.1,1.1 0 1 0 2.2,0a1.1,1.1 0 1 0 -2.2,0M685.9,269.8a1.1,1.1 0 1 0 2.2,0a1.1,1.1 0 1 0 -2.2,0M686.8,283.5a1.1,1.1 0 1 0 2.2,0a1.1,1.1 0 1 0 -2.2,0M686.5,295.9a1.1,1.1 0 1 0 2.2,0a1.1,1.1 0 1 0 -2.2,0M687.9,307.4a1.1,1.1 0 1 0 2.2,0a1.1,1.1 0 1 0 -2.2,0M700.2,231.8a1.1,1.1 0 1 0 2.2,0a1.1,1.1 0 1 0 -2.2,0M701.0,245.3a1.1,1.1 0 1 0 2.2,0a1.1,1.1 0 1 0 -2.2,0M699.6,257.4a1.1,1.1 0 1 0 2.2,0a1.1,1.1 0 1 0 -2.2,0M700.6,270.9a1.1,1.1 0 1 0 2.2,0a1.1,1.1 0 1 0 -2.2,0M700.9,283.3a1.1,1.1 0 1 0 2.2,0a1.1,1.1 0 1 0 -2.2,0M700.8,296.6a1.1,1.1 0 1 0 2.2,0a1.1,1.1 0 1 0 -2.2,0M699.9,309.4a1.1,1.1 0 1 0 2.2,0a1.1,1.1 0 1 0 -2.2,0M702.8,320.3a1.1,1.1 0 1 0 2.2,0a1.1,1.1 0 1 0 -2.2,0M714.2,231.8a1.1,1.1 0 1 0 2.2,0a1.1,1.1 0 1 0 -2.2,0M714.8,245.2a1.1,1.1 0 1 0 2.2,0a1.1,1.1 0 1 0 -2.2,0M714.2,257.8a1.1,1.1 0 1 0 2.2,0a1.1,1.1 0 1 0 -2.2,0M713.4,270.1a1.1,1.1 0 1 0 2.2,0a1.1,1.1 0 1 0 -2.2,0M714.7,283.3a1.1,1.1 0 1 0 2.2,0a1.1,1.1 0 1 0 -2.2,0M713.6,296.4a1.1,1.1 0 1 0 2.2,0a1.1,1.1 0 1 0 -2.2,0M714.5,309.5a1.1,1.1 0 1 0 2.2,0a1.1,1.1 0 1 0 -2.2,0M714.0,322.1a1.1,1.1 0 1 0 2.2,0a1.1,1.1 0 1 0 -2.2,0M714.4,335.0a1.1,1.1 0 1 0 2.2,0a1.1,1.1 0 1 0 -2.2,0M720.4,345.8a1.1,1.1 0 1 0 2.2,0a1.1,1.1 0 1 0 -2.2,0M728.2,231.8a1.1,1.1 0 1 0 2.2,0a1.1,1.1 0 1 0 -2.2,0M728.2,245.1a1.1,1.1 0 1 0 2.2,0a1.1,1.1 0 1 0 -2.2,0M728.2,257.5a1.1,1.1 0 1 0 2.2,0a1.1,1.1 0 1 0 -2.2,0M728.1,269.8a1.1,1.1 0 1 0 2.2,0a1.1,1.1 0 1 0 -2.2,0M727.4,283.7a1.1,1.1 0 1 0 2.2,0a1.1,1.1 0 1 0 -2.2,0M729.0,296.5a1.1,1.1 0 1 0 2.2,0a1.1,1.1 0 1 0 -2.2,0M728.0,308.7a1.1,1.1 0 1 0 2.2,0a1.1,1.1 0 1 0 -2.2,0M728.2,322.9a1.1,1.1 0 1 0 2.2,0a1.1,1.1 0 1 0 -2.2,0M728.6,335.1a1.1,1.1 0 1 0 2.2,0a1.1,1.1 0 1 0 -2.2,0M728.8,347.6a1.1,1.1 0 1 0 2.2,0a1.1,1.1 0 1 0 -2.2,0M726.0,361.3a1.1,1.1 0 1 0 2.2,0a1.1,1.1 0 1 0 -2.2,0M728.2,373.8a1.1,1.1 0 1 0 2.2,0a1.1,1.1 0 1 0 -2.2,0M728.7,386.7a1.1,1.1 0 1 0 2.2,0a1.1,1.1 0 1 0 -2.2,0M728.7,399.6a1.1,1.1 0 1 0 2.2,0a1.1,1.1 0 1 0 -2.2,0M742.1,231.8a1.1,1.1 0 1 0 2.2,0a1.1,1.1 0 1 0 -2.2,0M742.2,245.4a1.1,1.1 0 1 0 2.2,0a1.1,1.1 0 1 0 -2.2,0M742.3,257.6a1.1,1.1 0 1 0 2.2,0a1.1,1.1 0 1 0 -2.2,0M741.8,270.6a1.1,1.1 0 1 0 2.2,0a1.1,1.1 0 1 0 -2.2,0M742.9,282.7a1.1,1.1 0 1 0 2.2,0a1.1,1.1 0 1 0 -2.2,0M742.6,296.8a1.1,1.1 0 1 0 2.2,0a1.1,1.1 0 1 0 -2.2,0M742.8,309.6a1.1,1.1 0 1 0 2.2,0a1.1,1.1 0 1 0 -2.2,0M742.7,322.2a1.1,1.1 0 1 0 2.2,0a1.1,1.1 0 1 0 -2.2,0M742.3,334.9a1.1,1.1 0 1 0 2.2,0a1.1,1.1 0 1 0 -2.2,0M741.4,348.5a1.1,1.1 0 1 0 2.2,0a1.1,1.1 0 1 0 -2.2,0M742.3,360.4a1.1,1.1 0 1 0 2.2,0a1.1,1.1 0 1 0 -2.2,0M742.2,373.8a1.1,1.1 0 1 0 2.2,0a1.1,1.1 0 1 0 -2.2,0M741.9,386.5a1.1,1.1 0 1 0 2.2,0a1.1,1.1 0 1 0 -2.2,0M742.1,399.6a1.1,1.1 0 1 0 2.2,0a1.1,1.1 0 1 0 -2.2,0M756.1,231.8a1.1,1.1 0 1 0 2.2,0a1.1,1.1 0 1 0 -2.2,0M756.2,244.9a1.1,1.1 0 1 0 2.2,0a1.1,1.1 0 1 0 -2.2,0M756.3,257.6a1.1,1.1 0 1 0 2.2,0a1.1,1.1 0 1 0 -2.2,0M755.3,270.1a1.1,1.1 0 1 0 2.2,0a1.1,1.1 0 1 0 -2.2,0M755.6,283.6a1.1,1.1 0 1 0 2.2,0a1.1,1.1 0 1 0 -2.2,0M756.7,296.8a1.1,1.1 0 1 0 2.2,0a1.1,1.1 0 1 0 -2.2,0M756.6,309.7a1.1,1.1 0 1 0 2.2,0a1.1,1.1 0 1 0 -2.2,0M755.7,322.7a1.1,1.1 0 1 0 2.2,0a1.1,1.1 0 1 0 -2.2,0M756.4,334.4a1.1,1.1 0 1 0 2.2,0a1.1,1.1 0 1 0 -2.2,0M755.3,347.2a1.1,1.1 0 1 0 2.2,0a1.1,1.1 0 1 0 -2.2,0M756.6,360.5a1.1,1.1 0 1 0 2.2,0a1.1,1.1 0 1 0 -2.2,0M755.5,374.0a1.1,1.1 0 1 0 2.2,0a1.1,1.1 0 1 0 -2.2,0M755.9,386.0a1.1,1.1 0 1 0 2.2,0a1.1,1.1 0 1 0 -2.2,0M756.1,399.6a1.1,1.1 0 1 0 2.2,0a1.1,1.1 0 1 0 -2.2,0M770.1,231.8a1.1,1.1 0 1 0 2.2,0a1.1,1.1 0 1 0 -2.2,0M769.5,244.8a1.1,1.1 0 1 0 2.2,0a1.1,1.1 0 1 0 -2.2,0M769.6,257.3a1.1,1.1 0 1 0 2.2,0a1.1,1.1 0 1 0 -2.2,0M770.5,270.5a1.1,1.1 0 1 0 2.2,0a1.1,1.1 0 1 0 -2.2,0M769.8,283.4a1.1,1.1 0 1 0 2.2,0a1.1,1.1 0 1 0 -2.2,0M769.3,296.2a1.1,1.1 0 1 0 2.2,0a1.1,1.1 0 1 0 -2.2,0M770.0,308.8a1.1,1.1 0 1 0 2.2,0a1.1,1.1 0 1 0 -2.2,0M769.5,322.8a1.1,1.1 0 1 0 2.2,0a1.1,1.1 0 1 0 -2.2,0M770.1,334.6a1.1,1.1 0 1 0 2.2,0a1.1,1.1 0 1 0 -2.2,0M770.3,348.5a1.1,1.1 0 1 0 2.2,0a1.1,1.1 0 1 0 -2.2,0M769.3,360.1a1.1,1.1 0 1 0 2.2,0a1.1,1.1 0 1 0 -2.2,0M769.5,374.1a1.1,1.1 0 1 0 2.2,0a1.1,1.1 0 1 0 -2.2,0M769.5,387.0a1.1,1.1 0 1 0 2.2,0a1.1,1.1 0 1 0 -2.2,0M770.1,399.6a1.1,1.1 0 1 0 2.2,0a1.1,1.1 0 1 0 -2.2,0M784.1,231.8a1.1,1.1 0 1 0 2.2,0a1.1,1.1 0 1 0 -2.2,0M784.1,244.7a1.1,1.1 0 1 0 2.2,0a1.1,1.1 0 1 0 -2.2,0M784.1,257.6a1.1,1.1 0 1 0 2.2,0a1.1,1.1 0 1 0 -2.2,0M784.1,270.5a1.1,1.1 0 1 0 2.2,0a1.1,1.1 0 1 0 -2.2,0M784.1,283.4a1.1,1.1 0 1 0 2.2,0a1.1,1.1 0 1 0 -2.2,0M784.1,296.3a1.1,1.1 0 1 0 2.2,0a1.1,1.1 0 1 0 -2.2,0M784.1,309.2a1.1,1.1 0 1 0 2.2,0a1.1,1.1 0 1 0 -2.2,0M784.1,322.2a1.1,1.1 0 1 0 2.2,0a1.1,1.1 0 1 0 -2.2,0M784.1,335.1a1.1,1.1 0 1 0 2.2,0a1.1,1.1 0 1 0 -2.2,0M784.1,348.0a1.1,1.1 0 1 0 2.2,0a1.1,1.1 0 1 0 -2.2,0M784.1,360.9a1.1,1.1 0 1 0 2.2,0a1.1,1.1 0 1 0 -2.2,0M784.1,373.8a1.1,1.1 0 1 0 2.2,0a1.1,1.1 0 1 0 -2.2,0M784.1,386.7a1.1,1.1 0 1 0 2.2,0a1.1,1.1 0 1 0 -2.2,0M784.1,399.6a1.1,1.1 0 1 0 2.2,0a1.1,1.1 0 1 0 -2.2,0" fill="#000"/></g><path d="M617.4,231.8 L785.2,231.8 L785.2,399.6 L729.8,399.6 L729.8,382.8 A112.4,97.8 0 0 0 617.4,285.0 Z" fill="none" stroke="#000" stroke-width="2" stroke-linejoin="miter"/><clipPath id="cp_B"><path d="M832.0,232.0 L996.0,232.0 L996.0,395.0 L941.9,395.0 L941.9,378.7 A109.9,95.0 0 0 0 832.0,283.7 Z"/></clipPath><path d="M832.0,232.0 L996.0,232.0 L996.0,395.0 L941.9,395.0 L941.9,378.7 A109.9,95.0 0 0 0 832.0,283.7 Z" fill="url(#g_bwr2)"/><g clip-path="url(#cp_B)"><path d="M832.0,232.0L832.0,244.5M832.0,232.0L846.9,232.0M832.0,244.5L832.0,257.1M832.0,244.5L846.3,245.1M832.0,257.1L832.0,269.6M832.0,257.1L847.4,256.7M832.0,269.6L832.0,283.7M832.0,269.6L846.9,269.5M846.9,232.0L832.0,244.5M846.9,232.0L846.3,245.1M846.9,232.0L861.8,232.0M846.3,245.1L832.0,257.1M846.3,245.1L847.4,256.7M846.3,245.1L862.1,245.0M847.4,256.7L832.0,269.6M847.4,256.7L846.9,269.5M847.4,256.7L861.1,256.4M846.9,269.5L832.0,283.7M846.9,269.5L846.5,284.5M846.9,269.5L862.4,269.5M846.5,284.5L862.3,281.4M861.8,232.0L846.3,245.1M861.8,232.0L862.1,245.0M861.8,232.0L876.7,232.0M862.1,245.0L847.4,256.7M862.1,245.0L861.1,256.4M862.1,245.0L876.6,244.9M861.1,256.4L846.9,269.5M861.1,256.4L862.4,269.5M861.1,256.4L876.2,257.7M862.4,269.5L846.5,284.5M862.4,269.5L862.3,281.4M862.4,269.5L877.4,268.9M862.3,281.4L848.7,284.8M862.3,281.4L864.2,287.9M862.3,281.4L875.9,282.2M876.7,232.0L862.1,245.0M876.7,232.0L876.6,244.9M876.7,232.0L891.6,232.0M876.6,244.9L861.1,256.4M876.6,244.9L876.2,257.7M876.6,244.9L892.4,244.4M876.2,257.7L862.4,269.5M876.2,257.7L877.4,268.9M876.2,257.7L891.1,257.0M877.4,268.9L862.3,281.4M877.4,268.9L875.9,282.2M877.4,268.9L890.8,269.2M875.9,282.2L864.2,287.9M875.9,282.2L878.0,292.4M875.9,282.2L891.5,282.1M891.6,232.0L876.6,244.9M891.6,232.0L892.4,244.4M891.6,232.0L906.5,232.0M892.4,244.4L876.2,257.7M892.4,244.4L891.1,257.0M892.4,244.4L906.1,244.1M891.1,257.0L877.4,268.9M891.1,257.0L890.8,269.2M891.1,257.0L906.0,257.0M890.8,269.2L875.9,282.2M890.8,269.2L891.5,282.1M890.8,269.2L906.2,268.9M891.5,282.1L878.0,292.4M891.5,282.1L889.5,297.7M891.5,282.1L907.1,282.2M889.5,297.7L906.8,294.2M906.5,232.0L892.4,244.4M906.5,232.0L906.1,244.1M906.5,232.0L921.5,232.0M906.5,232.0L922.3,245.1M906.1,244.1L891.1,257.0M906.1,244.1L906.0,257.0M906.1,244.1L922.3,245.1M906.1,244.1L920.8,256.8M906.0,257.0L890.8,269.2M906.0,257.0L906.2,268.9M906.0,257.0L920.8,256.8M906.0,257.0L921.9,269.9M906.2,268.9L891.5,282.1M906.2,268.9L907.1,282.2M906.2,268.9L921.9,269.9M906.2,268.9L922.2,282.0M907.1,282.2L889.5,297.7M907.1,282.2L906.8,294.2M907.1,282.2L922.2,282.0M907.1,282.2L922.0,294.9M906.8,294.2L896.3,301.6M906.8,294.2L905.6,308.1M906.8,294.2L922.0,294.9M906.8,294.2L921.1,307.4M905.6,308.1L921.1,307.4M921.5,232.0L922.3,245.1M921.5,232.0L936.4,232.0M921.5,232.0L937.0,245.1M922.3,245.1L920.8,256.8M922.3,245.1L937.0,245.1M922.3,245.1L936.4,257.2M920.8,256.8L921.9,269.9M920.8,256.8L936.4,257.2M920.8,256.8L935.5,269.2M921.9,269.9L922.2,282.0M921.9,269.9L935.5,269.2M921.9,269.9L936.9,282.0M922.2,282.0L922.0,294.9M922.2,282.0L936.9,282.0M922.2,282.0L935.8,294.8M922.0,294.9L921.1,307.4M922.0,294.9L935.8,294.8M922.0,294.9L936.7,307.5M921.1,307.4L919.4,321.1M921.1,307.4L936.7,307.5M921.1,307.4L936.1,319.7M919.4,321.1L936.1,319.7M919.4,321.1L936.4,332.7M926.2,329.8L936.4,332.7M936.4,232.0L937.0,245.1M936.4,232.0L951.3,232.0M936.4,232.0L951.3,244.4M937.0,245.1L936.4,257.2M937.0,245.1L951.3,244.4M937.0,245.1L951.3,256.4M936.4,257.2L935.5,269.2M936.4,257.2L951.3,256.4M936.4,257.2L950.5,269.9M935.5,269.2L936.9,282.0M935.5,269.2L950.5,269.9M935.5,269.2L952.1,282.3M936.9,282.0L935.8,294.8M936.9,282.0L952.1,282.3M936.9,282.0L951.1,294.2M935.8,294.8L936.7,307.5M935.8,294.8L951.1,294.2M935.8,294.8L951.3,308.0M936.7,307.5L936.1,319.7M936.7,307.5L951.3,308.0M936.7,307.5L951.8,319.8M936.1,319.7L936.4,332.7M936.1,319.7L951.8,319.8M936.1,319.7L951.9,331.9M936.4,332.7L934.9,345.3M936.4,332.7L951.9,331.9M936.4,332.7L951.3,345.5M934.9,345.3L951.3,345.5M934.9,345.3L951.4,357.3M938.9,356.9L951.4,357.3M938.9,356.9L950.9,370.0M941.4,369.5L950.9,370.0M941.4,369.5L952.1,381.7M941.9,382.5L952.1,381.7M941.9,382.5L951.3,395.0M941.9,395.0L951.3,395.0M951.3,232.0L951.3,244.4M951.3,232.0L966.2,232.0M951.3,232.0L966.7,245.0M951.3,244.4L951.3,256.4M951.3,244.4L966.7,245.0M951.3,244.4L966.9,257.4M951.3,256.4L950.5,269.9M951.3,256.4L966.9,257.4M951.3,256.4L966.7,269.6M950.5,269.9L952.1,282.3M950.5,269.9L966.7,269.6M950.5,269.9L966.3,282.0M952.1,282.3L951.1,294.2M952.1,282.3L966.3,282.0M952.1,282.3L965.4,295.2M951.1,294.2L951.3,308.0M951.1,294.2L965.4,295.2M951.1,294.2L966.3,306.8M951.3,308.0L951.8,319.8M951.3,308.0L966.3,306.8M951.3,308.0L966.2,319.7M951.8,319.8L951.9,331.9M951.8,319.8L966.2,319.7M951.8,319.8L965.9,332.1M951.9,331.9L951.3,345.5M951.9,331.9L965.9,332.1M951.9,331.9L966.3,345.0M951.3,345.5L951.4,357.3M951.3,345.5L966.3,345.0M951.3,345.5L966.4,357.3M951.4,357.3L950.9,370.0M951.4,357.3L966.4,357.3M951.4,357.3L965.3,369.5M950.9,370.0L952.1,381.7M950.9,370.0L965.3,369.5M950.9,370.0L965.6,382.6M952.1,381.7L951.3,395.0M952.1,381.7L965.6,382.6M952.1,381.7L966.2,395.0M951.3,395.0L966.2,395.0M966.2,232.0L966.7,245.0M966.2,232.0L981.1,232.0M966.2,232.0L981.7,245.0M966.7,245.0L966.9,257.4M966.7,245.0L981.7,245.0M966.7,245.0L981.6,257.6M966.9,257.4L966.7,269.6M966.9,257.4L981.6,257.6M966.9,257.4L980.7,270.1M966.7,269.6L966.3,282.0M966.7,269.6L980.7,270.1M966.7,269.6L981.4,281.5M966.3,282.0L965.4,295.2M966.3,282.0L981.4,281.5M966.3,282.0L980.2,294.0M965.4,295.2L966.3,306.8M965.4,295.2L980.2,294.0M965.4,295.2L981.5,306.9M966.3,306.8L966.2,319.7M966.3,306.8L981.5,306.9M966.3,306.8L980.4,320.0M966.2,319.7L965.9,332.1M966.2,319.7L980.4,320.0M966.2,319.7L980.8,331.7M965.9,332.1L966.3,345.0M965.9,332.1L980.8,331.7M965.9,332.1L980.5,344.9M966.3,345.0L966.4,357.3M966.3,345.0L980.5,344.9M966.3,345.0L980.5,357.0M966.4,357.3L965.3,369.5M966.4,357.3L980.5,357.0M966.4,357.3L981.5,369.9M965.3,369.5L965.6,382.6M965.3,369.5L981.5,369.9M965.3,369.5L980.8,382.4M965.6,382.6L966.2,395.0M965.6,382.6L980.8,382.4M965.6,382.6L981.1,395.0M966.2,395.0L981.1,395.0M981.1,232.0L981.7,245.0M981.1,232.0L996.0,232.0M981.1,232.0L996.0,244.5M981.7,245.0L981.6,257.6M981.7,245.0L996.0,244.5M981.7,245.0L996.0,257.1M981.6,257.6L980.7,270.1M981.6,257.6L996.0,257.1M981.6,257.6L996.0,269.6M980.7,270.1L981.4,281.5M980.7,270.1L996.0,269.6M980.7,270.1L996.0,282.2M981.4,281.5L980.2,294.0M981.4,281.5L996.0,282.2M981.4,281.5L996.0,294.7M980.2,294.0L981.5,306.9M980.2,294.0L996.0,294.7M980.2,294.0L996.0,307.2M981.5,306.9L980.4,320.0M981.5,306.9L996.0,307.2M981.5,306.9L996.0,319.8M980.4,320.0L980.8,331.7M980.4,320.0L996.0,319.8M980.4,320.0L996.0,332.3M980.8,331.7L980.5,344.9M980.8,331.7L996.0,332.3M980.8,331.7L996.0,344.8M980.5,344.9L980.5,357.0M980.5,344.9L996.0,344.8M980.5,344.9L996.0,357.4M980.5,357.0L981.5,369.9M980.5,357.0L996.0,357.4M980.5,357.0L996.0,369.9M981.5,369.9L980.8,382.4M981.5,369.9L996.0,369.9M981.5,369.9L996.0,382.5M980.8,382.4L981.1,395.0M980.8,382.4L996.0,382.5M980.8,382.4L996.0,395.0M981.1,395.0L996.0,395.0M996.0,232.0L996.0,244.5M996.0,244.5L996.0,257.1M996.0,257.1L996.0,269.6M996.0,269.6L996.0,282.2M996.0,282.2L996.0,294.7M996.0,294.7L996.0,307.2M996.0,307.2L996.0,319.8M996.0,319.8L996.0,332.3M996.0,332.3L996.0,344.8M996.0,344.8L996.0,357.4M996.0,357.4L996.0,369.9M996.0,369.9L996.0,382.5M996.0,382.5L996.0,395.0" stroke="rgba(40,40,50,0.4)" stroke-width="0.7" fill="none"/><path d="M831.1,232.0a0.9,0.9 0 1 0 1.8,0a0.9,0.9 0 1 0 -1.8,0M831.1,244.5a0.9,0.9 0 1 0 1.8,0a0.9,0.9 0 1 0 -1.8,0M831.1,257.1a0.9,0.9 0 1 0 1.8,0a0.9,0.9 0 1 0 -1.8,0M831.1,269.6a0.9,0.9 0 1 0 1.8,0a0.9,0.9 0 1 0 -1.8,0M831.1,283.7a0.9,0.9 0 1 0 1.8,0a0.9,0.9 0 1 0 -1.8,0M846.0,232.0a0.9,0.9 0 1 0 1.8,0a0.9,0.9 0 1 0 -1.8,0M845.4,245.1a0.9,0.9 0 1 0 1.8,0a0.9,0.9 0 1 0 -1.8,0M846.5,256.7a0.9,0.9 0 1 0 1.8,0a0.9,0.9 0 1 0 -1.8,0M846.0,269.5a0.9,0.9 0 1 0 1.8,0a0.9,0.9 0 1 0 -1.8,0M845.6,284.5a0.9,0.9 0 1 0 1.8,0a0.9,0.9 0 1 0 -1.8,0M847.8,284.8a0.9,0.9 0 1 0 1.8,0a0.9,0.9 0 1 0 -1.8,0M860.9,232.0a0.9,0.9 0 1 0 1.8,0a0.9,0.9 0 1 0 -1.8,0M861.2,245.0a0.9,0.9 0 1 0 1.8,0a0.9,0.9 0 1 0 -1.8,0M860.2,256.4a0.9,0.9 0 1 0 1.8,0a0.9,0.9 0 1 0 -1.8,0M861.5,269.5a0.9,0.9 0 1 0 1.8,0a0.9,0.9 0 1 0 -1.8,0M861.4,281.4a0.9,0.9 0 1 0 1.8,0a0.9,0.9 0 1 0 -1.8,0M863.3,287.9a0.9,0.9 0 1 0 1.8,0a0.9,0.9 0 1 0 -1.8,0M875.8,232.0a0.9,0.9 0 1 0 1.8,0a0.9,0.9 0 1 0 -1.8,0M875.7,244.9a0.9,0.9 0 1 0 1.8,0a0.9,0.9 0 1 0 -1.8,0M875.3,257.7a0.9,0.9 0 1 0 1.8,0a0.9,0.9 0 1 0 -1.8,0M876.5,268.9a0.9,0.9 0 1 0 1.8,0a0.9,0.9 0 1 0 -1.8,0M875.0,282.2a0.9,0.9 0 1 0 1.8,0a0.9,0.9 0 1 0 -1.8,0M877.1,292.4a0.9,0.9 0 1 0 1.8,0a0.9,0.9 0 1 0 -1.8,0M890.7,232.0a0.9,0.9 0 1 0 1.8,0a0.9,0.9 0 1 0 -1.8,0M891.5,244.4a0.9,0.9 0 1 0 1.8,0a0.9,0.9 0 1 0 -1.8,0M890.2,257.0a0.9,0.9 0 1 0 1.8,0a0.9,0.9 0 1 0 -1.8,0M889.9,269.2a0.9,0.9 0 1 0 1.8,0a0.9,0.9 0 1 0 -1.8,0M890.6,282.1a0.9,0.9 0 1 0 1.8,0a0.9,0.9 0 1 0 -1.8,0M888.6,297.7a0.9,0.9 0 1 0 1.8,0a0.9,0.9 0 1 0 -1.8,0M895.4,301.6a0.9,0.9 0 1 0 1.8,0a0.9,0.9 0 1 0 -1.8,0M905.6,232.0a0.9,0.9 0 1 0 1.8,0a0.9,0.9 0 1 0 -1.8,0M905.2,244.1a0.9,0.9 0 1 0 1.8,0a0.9,0.9 0 1 0 -1.8,0M905.1,257.0a0.9,0.9 0 1 0 1.8,0a0.9,0.9 0 1 0 -1.8,0M905.3,268.9a0.9,0.9 0 1 0 1.8,0a0.9,0.9 0 1 0 -1.8,0M906.2,282.2a0.9,0.9 0 1 0 1.8,0a0.9,0.9 0 1 0 -1.8,0M905.9,294.2a0.9,0.9 0 1 0 1.8,0a0.9,0.9 0 1 0 -1.8,0M904.7,308.1a0.9,0.9 0 1 0 1.8,0a0.9,0.9 0 1 0 -1.8,0M920.6,232.0a0.9,0.9 0 1 0 1.8,0a0.9,0.9 0 1 0 -1.8,0M921.4,245.1a0.9,0.9 0 1 0 1.8,0a0.9,0.9 0 1 0 -1.8,0M919.9,256.8a0.9,0.9 0 1 0 1.8,0a0.9,0.9 0 1 0 -1.8,0M921.0,269.9a0.9,0.9 0 1 0 1.8,0a0.9,0.9 0 1 0 -1.8,0M921.3,282.0a0.9,0.9 0 1 0 1.8,0a0.9,0.9 0 1 0 -1.8,0M921.1,294.9a0.9,0.9 0 1 0 1.8,0a0.9,0.9 0 1 0 -1.8,0M920.2,307.4a0.9,0.9 0 1 0 1.8,0a0.9,0.9 0 1 0 -1.8,0M918.5,321.1a0.9,0.9 0 1 0 1.8,0a0.9,0.9 0 1 0 -1.8,0M925.3,329.8a0.9,0.9 0 1 0 1.8,0a0.9,0.9 0 1 0 -1.8,0M935.5,232.0a0.9,0.9 0 1 0 1.8,0a0.9,0.9 0 1 0 -1.8,0M936.1,245.1a0.9,0.9 0 1 0 1.8,0a0.9,0.9 0 1 0 -1.8,0M935.5,257.2a0.9,0.9 0 1 0 1.8,0a0.9,0.9 0 1 0 -1.8,0M934.6,269.2a0.9,0.9 0 1 0 1.8,0a0.9,0.9 0 1 0 -1.8,0M936.0,282.0a0.9,0.9 0 1 0 1.8,0a0.9,0.9 0 1 0 -1.8,0M934.9,294.8a0.9,0.9 0 1 0 1.8,0a0.9,0.9 0 1 0 -1.8,0M935.8,307.5a0.9,0.9 0 1 0 1.8,0a0.9,0.9 0 1 0 -1.8,0M935.2,319.7a0.9,0.9 0 1 0 1.8,0a0.9,0.9 0 1 0 -1.8,0M935.5,332.7a0.9,0.9 0 1 0 1.8,0a0.9,0.9 0 1 0 -1.8,0M934.0,345.3a0.9,0.9 0 1 0 1.8,0a0.9,0.9 0 1 0 -1.8,0M938.0,356.9a0.9,0.9 0 1 0 1.8,0a0.9,0.9 0 1 0 -1.8,0M940.5,369.5a0.9,0.9 0 1 0 1.8,0a0.9,0.9 0 1 0 -1.8,0M941.0,382.5a0.9,0.9 0 1 0 1.8,0a0.9,0.9 0 1 0 -1.8,0M941.0,395.0a0.9,0.9 0 1 0 1.8,0a0.9,0.9 0 1 0 -1.8,0M950.4,232.0a0.9,0.9 0 1 0 1.8,0a0.9,0.9 0 1 0 -1.8,0M950.4,244.4a0.9,0.9 0 1 0 1.8,0a0.9,0.9 0 1 0 -1.8,0M950.4,256.4a0.9,0.9 0 1 0 1.8,0a0.9,0.9 0 1 0 -1.8,0M949.6,269.9a0.9,0.9 0 1 0 1.8,0a0.9,0.9 0 1 0 -1.8,0M951.2,282.3a0.9,0.9 0 1 0 1.8,0a0.9,0.9 0 1 0 -1.8,0M950.2,294.2a0.9,0.9 0 1 0 1.8,0a0.9,0.9 0 1 0 -1.8,0M950.4,308.0a0.9,0.9 0 1 0 1.8,0a0.9,0.9 0 1 0 -1.8,0M950.9,319.8a0.9,0.9 0 1 0 1.8,0a0.9,0.9 0 1 0 -1.8,0M951.0,331.9a0.9,0.9 0 1 0 1.8,0a0.9,0.9 0 1 0 -1.8,0M950.4,345.5a0.9,0.9 0 1 0 1.8,0a0.9,0.9 0 1 0 -1.8,0M950.5,357.3a0.9,0.9 0 1 0 1.8,0a0.9,0.9 0 1 0 -1.8,0M950.0,370.0a0.9,0.9 0 1 0 1.8,0a0.9,0.9 0 1 0 -1.8,0M951.2,381.7a0.9,0.9 0 1 0 1.8,0a0.9,0.9 0 1 0 -1.8,0M950.4,395.0a0.9,0.9 0 1 0 1.8,0a0.9,0.9 0 1 0 -1.8,0M965.3,232.0a0.9,0.9 0 1 0 1.8,0a0.9,0.9 0 1 0 -1.8,0M965.8,245.0a0.9,0.9 0 1 0 1.8,0a0.9,0.9 0 1 0 -1.8,0M966.0,257.4a0.9,0.9 0 1 0 1.8,0a0.9,0.9 0 1 0 -1.8,0M965.8,269.6a0.9,0.9 0 1 0 1.8,0a0.9,0.9 0 1 0 -1.8,0M965.4,282.0a0.9,0.9 0 1 0 1.8,0a0.9,0.9 0 1 0 -1.8,0M964.5,295.2a0.9,0.9 0 1 0 1.8,0a0.9,0.9 0 1 0 -1.8,0M965.4,306.8a0.9,0.9 0 1 0 1.8,0a0.9,0.9 0 1 0 -1.8,0M965.3,319.7a0.9,0.9 0 1 0 1.8,0a0.9,0.9 0 1 0 -1.8,0M965.0,332.1a0.9,0.9 0 1 0 1.8,0a0.9,0.9 0 1 0 -1.8,0M965.4,345.0a0.9,0.9 0 1 0 1.8,0a0.9,0.9 0 1 0 -1.8,0M965.5,357.3a0.9,0.9 0 1 0 1.8,0a0.9,0.9 0 1 0 -1.8,0M964.4,369.5a0.9,0.9 0 1 0 1.8,0a0.9,0.9 0 1 0 -1.8,0M964.7,382.6a0.9,0.9 0 1 0 1.8,0a0.9,0.9 0 1 0 -1.8,0M965.3,395.0a0.9,0.9 0 1 0 1.8,0a0.9,0.9 0 1 0 -1.8,0M980.2,232.0a0.9,0.9 0 1 0 1.8,0a0.9,0.9 0 1 0 -1.8,0M980.8,245.0a0.9,0.9 0 1 0 1.8,0a0.9,0.9 0 1 0 -1.8,0M980.7,257.6a0.9,0.9 0 1 0 1.8,0a0.9,0.9 0 1 0 -1.8,0M979.8,270.1a0.9,0.9 0 1 0 1.8,0a0.9,0.9 0 1 0 -1.8,0M980.5,281.5a0.9,0.9 0 1 0 1.8,0a0.9,0.9 0 1 0 -1.8,0M979.3,294.0a0.9,0.9 0 1 0 1.8,0a0.9,0.9 0 1 0 -1.8,0M980.6,306.9a0.9,0.9 0 1 0 1.8,0a0.9,0.9 0 1 0 -1.8,0M979.5,320.0a0.9,0.9 0 1 0 1.8,0a0.9,0.9 0 1 0 -1.8,0M979.9,331.7a0.9,0.9 0 1 0 1.8,0a0.9,0.9 0 1 0 -1.8,0M979.6,344.9a0.9,0.9 0 1 0 1.8,0a0.9,0.9 0 1 0 -1.8,0M979.6,357.0a0.9,0.9 0 1 0 1.8,0a0.9,0.9 0 1 0 -1.8,0M980.6,369.9a0.9,0.9 0 1 0 1.8,0a0.9,0.9 0 1 0 -1.8,0M979.9,382.4a0.9,0.9 0 1 0 1.8,0a0.9,0.9 0 1 0 -1.8,0M980.2,395.0a0.9,0.9 0 1 0 1.8,0a0.9,0.9 0 1 0 -1.8,0M995.1,232.0a0.9,0.9 0 1 0 1.8,0a0.9,0.9 0 1 0 -1.8,0M995.1,244.5a0.9,0.9 0 1 0 1.8,0a0.9,0.9 0 1 0 -1.8,0M995.1,257.1a0.9,0.9 0 1 0 1.8,0a0.9,0.9 0 1 0 -1.8,0M995.1,269.6a0.9,0.9 0 1 0 1.8,0a0.9,0.9 0 1 0 -1.8,0M995.1,282.2a0.9,0.9 0 1 0 1.8,0a0.9,0.9 0 1 0 -1.8,0M995.1,294.7a0.9,0.9 0 1 0 1.8,0a0.9,0.9 0 1 0 -1.8,0M995.1,307.2a0.9,0.9 0 1 0 1.8,0a0.9,0.9 0 1 0 -1.8,0M995.1,319.8a0.9,0.9 0 1 0 1.8,0a0.9,0.9 0 1 0 -1.8,0M995.1,332.3a0.9,0.9 0 1 0 1.8,0a0.9,0.9 0 1 0 -1.8,0M995.1,344.8a0.9,0.9 0 1 0 1.8,0a0.9,0.9 0 1 0 -1.8,0M995.1,357.4a0.9,0.9 0 1 0 1.8,0a0.9,0.9 0 1 0 -1.8,0M995.1,369.9a0.9,0.9 0 1 0 1.8,0a0.9,0.9 0 1 0 -1.8,0M995.1,382.5a0.9,0.9 0 1 0 1.8,0a0.9,0.9 0 1 0 -1.8,0M995.1,395.0a0.9,0.9 0 1 0 1.8,0a0.9,0.9 0 1 0 -1.8,0" fill="rgba(30,30,40,0.5)"/></g><path d="M832.0,232.0 L996.0,232.0 L996.0,395.0 L941.9,395.0 L941.9,378.7 A109.9,95.0 0 0 0 832.0,283.7 Z" fill="none" stroke="#000" stroke-width="2" stroke-linejoin="miter"/><clipPath id="cp_D"><path d="M72.6,1134.6 L449.4,1134.6 L449.4,1512.3 L325.1,1512.3 L325.1,1474.5 A252.5,220.2 0 0 0 72.6,1254.3 Z"/></clipPath><path d="M72.6,1134.6 L449.4,1134.6 L449.4,1512.3 L325.1,1512.3 L325.1,1474.5 A252.5,220.2 0 0 0 72.6,1254.3 Z" fill="#a9a9a9"/><g clip-path="url(#cp_D)"><path d="M72.6,1134.6L72.6,1163.7M72.6,1134.6L106.9,1134.6M72.6,1163.7L72.6,1192.7M72.6,1163.7L105.4,1164.9M72.6,1192.7L72.6,1221.8M72.6,1192.7L107.9,1191.9M72.6,1221.8L72.6,1254.3M72.6,1221.8L106.8,1221.6M106.9,1134.6L72.6,1163.7M106.9,1134.6L105.4,1164.9M106.9,1134.6L141.1,1134.6M105.4,1164.9L72.6,1192.7M105.4,1164.9L107.9,1191.9M105.4,1164.9L141.7,1164.7M107.9,1191.9L72.6,1221.8M107.9,1191.9L106.8,1221.6M107.9,1191.9L139.4,1191.1M106.8,1221.6L72.6,1254.3M106.8,1221.6L106.0,1256.3M106.8,1221.6L142.5,1221.5M106.0,1256.3L142.2,1249.1M141.1,1134.6L105.4,1164.9M141.1,1134.6L141.7,1164.7M141.1,1134.6L175.4,1134.6M141.7,1164.7L107.9,1191.9M141.7,1164.7L139.4,1191.1M141.7,1164.7L175.1,1164.4M139.4,1191.1L106.8,1221.6M139.4,1191.1L142.5,1221.5M139.4,1191.1L174.2,1194.3M142.5,1221.5L106.0,1256.3M142.5,1221.5L142.2,1249.1M142.5,1221.5L177.0,1220.1M142.2,1249.1L110.9,1256.9M142.2,1249.1L146.7,1264.0M142.2,1249.1L173.4,1251.0M175.4,1134.6L141.7,1164.7M175.4,1134.6L175.1,1164.4M175.4,1134.6L209.6,1134.6M175.1,1164.4L139.4,1191.1M175.1,1164.4L174.2,1194.3M175.1,1164.4L211.4,1163.2M174.2,1194.3L142.5,1221.5M174.2,1194.3L177.0,1220.1M174.2,1194.3L208.5,1192.4M177.0,1220.1L142.2,1249.1M177.0,1220.1L173.4,1251.0M177.0,1220.1L207.7,1220.8M173.4,1251.0L146.7,1264.0M173.4,1251.0L178.2,1274.5M173.4,1251.0L209.4,1250.8M209.6,1134.6L175.1,1164.4M209.6,1134.6L211.4,1163.2M209.6,1134.6L243.9,1134.6M211.4,1163.2L174.2,1194.3M211.4,1163.2L208.5,1192.4M211.4,1163.2L242.8,1162.7M208.5,1192.4L177.0,1220.1M208.5,1192.4L207.7,1220.8M208.5,1192.4L242.7,1192.6M207.7,1220.8L173.4,1251.0M207.7,1220.8L209.4,1250.8M207.7,1220.8L243.0,1220.1M209.4,1250.8L178.2,1274.5M209.4,1250.8L204.7,1286.9M209.4,1250.8L245.3,1251.0M204.7,1286.9L244.5,1278.8M243.9,1134.6L211.4,1163.2M243.9,1134.6L242.8,1162.7M243.9,1134.6L278.1,1134.6M243.9,1134.6L280.2,1164.9M242.8,1162.7L208.5,1192.4M242.8,1162.7L242.7,1192.6M242.8,1162.7L280.2,1164.9M242.8,1162.7L276.6,1192.1M242.7,1192.6L207.7,1220.8M242.7,1192.6L243.0,1220.1M242.7,1192.6L276.6,1192.1M242.7,1192.6L279.0,1222.5M243.0,1220.1L209.4,1250.8M243.0,1220.1L245.3,1251.0M243.0,1220.1L279.0,1222.5M243.0,1220.1L279.9,1250.5M245.3,1251.0L204.7,1286.9M245.3,1251.0L244.5,1278.8M245.3,1251.0L279.9,1250.5M245.3,1251.0L279.5,1280.5M244.5,1278.8L220.3,1296.0M244.5,1278.8L241.7,1311.0M244.5,1278.8L279.5,1280.5M244.5,1278.8L277.3,1309.2M241.7,1311.0L277.3,1309.2M278.1,1134.6L280.2,1164.9M278.1,1134.6L312.4,1134.6M278.1,1134.6L314.0,1164.9M280.2,1164.9L276.6,1192.1M280.2,1164.9L314.0,1164.9M280.2,1164.9L312.4,1193.0M276.6,1192.1L279.0,1222.5M276.6,1192.1L312.4,1193.0M276.6,1192.1L310.5,1220.9M279.0,1222.5L279.9,1250.5M279.0,1222.5L310.5,1220.9M279.0,1222.5L313.6,1250.5M279.9,1250.5L279.5,1280.5M279.9,1250.5L313.6,1250.5M279.9,1250.5L311.0,1280.0M279.5,1280.5L277.3,1309.2M279.5,1280.5L311.0,1280.0M279.5,1280.5L313.2,1309.5M277.3,1309.2L273.4,1341.1M277.3,1309.2L313.2,1309.5M277.3,1309.2L311.9,1337.8M273.4,1341.1L311.9,1337.8M273.4,1341.1L312.4,1368.0M289.1,1361.3L312.4,1368.0M312.4,1134.6L314.0,1164.9M312.4,1134.6L346.6,1134.6M312.4,1134.6L346.7,1163.3M314.0,1164.9L312.4,1193.0M314.0,1164.9L346.7,1163.3M314.0,1164.9L346.6,1191.1M312.4,1193.0L310.5,1220.9M312.4,1193.0L346.6,1191.1M312.4,1193.0L344.8,1222.5M310.5,1220.9L313.6,1250.5M310.5,1220.9L344.8,1222.5M310.5,1220.9L348.6,1251.1M313.6,1250.5L311.0,1280.0M313.6,1250.5L348.6,1251.1M313.6,1250.5L346.2,1278.7M311.0,1280.0L313.2,1309.5M311.0,1280.0L346.2,1278.7M311.0,1280.0L346.6,1310.6M313.2,1309.5L311.9,1337.8M313.2,1309.5L346.6,1310.6M313.2,1309.5L347.7,1338.1M311.9,1337.8L312.4,1368.0M311.9,1337.8L347.7,1338.1M311.9,1337.8L348.1,1366.1M312.4,1368.0L309.0,1397.2M312.4,1368.0L348.1,1366.1M312.4,1368.0L346.7,1397.7M309.0,1397.2L346.7,1397.7M309.0,1397.2L347.0,1425.0M318.3,1423.9L347.0,1425.0M318.3,1423.9L345.7,1454.4M323.9,1453.2L345.7,1454.4M323.9,1453.2L348.5,1481.5M325.1,1483.2L348.5,1481.5M325.1,1483.2L346.6,1512.3M325.1,1512.3L346.6,1512.3M346.6,1134.6L346.7,1163.3M346.6,1134.6L380.9,1134.6M346.6,1134.6L382.1,1164.8M346.7,1163.3L346.6,1191.1M346.7,1163.3L382.1,1164.8M346.7,1163.3L382.5,1193.5M346.6,1191.1L344.8,1222.5M346.6,1191.1L382.5,1193.5M346.6,1191.1L382.2,1221.8M344.8,1222.5L348.6,1251.1M344.8,1222.5L382.2,1221.8M344.8,1222.5L381.1,1250.6M348.6,1251.1L346.2,1278.7M348.6,1251.1L381.1,1250.6M348.6,1251.1L379.1,1281.2M346.2,1278.7L346.6,1310.6M346.2,1278.7L379.1,1281.2M346.2,1278.7L381.2,1307.9M346.6,1310.6L347.7,1338.1M346.6,1310.6L381.2,1307.9M346.6,1310.6L380.9,1337.9M347.7,1338.1L348.1,1366.1M347.7,1338.1L380.9,1337.9M347.7,1338.1L380.3,1366.5M348.1,1366.1L346.7,1397.7M348.1,1366.1L380.3,1366.5M348.1,1366.1L381.0,1396.5M346.7,1397.7L347.0,1425.0M346.7,1397.7L381.0,1396.5M346.7,1397.7L381.4,1425.0M347.0,1425.0L345.7,1454.4M347.0,1425.0L381.4,1425.0M347.0,1425.0L379.0,1453.2M345.7,1454.4L348.5,1481.5M345.7,1454.4L379.0,1453.2M345.7,1454.4L379.6,1483.5M348.5,1481.5L346.6,1512.3M348.5,1481.5L379.6,1483.5M348.5,1481.5L380.9,1512.3M346.6,1512.3L380.9,1512.3M380.9,1134.6L382.1,1164.8M380.9,1134.6L415.1,1134.6M380.9,1134.6L416.6,1164.7M382.1,1164.8L382.5,1193.5M382.1,1164.8L416.6,1164.7M382.1,1164.8L416.4,1193.8M382.5,1193.5L382.2,1221.8M382.5,1193.5L416.4,1193.8M382.5,1193.5L414.1,1223.0M382.2,1221.8L381.1,1250.6M382.2,1221.8L414.1,1223.0M382.2,1221.8L415.9,1249.4M381.1,1250.6L379.1,1281.2M381.1,1250.6L415.9,1249.4M381.1,1250.6L413.2,1278.2M379.1,1281.2L381.2,1307.9M379.1,1281.2L413.2,1278.2M379.1,1281.2L416.2,1308.0M381.2,1307.9L380.9,1337.9M381.2,1307.9L416.2,1308.0M381.2,1307.9L413.5,1338.4M380.9,1337.9L380.3,1366.5M380.9,1337.9L413.5,1338.4M380.9,1337.9L414.5,1365.5M380.3,1366.5L381.0,1396.5M380.3,1366.5L414.5,1365.5M380.3,1366.5L413.7,1396.2M381.0,1396.5L381.4,1425.0M381.0,1396.5L413.7,1396.2M381.0,1396.5L413.8,1424.3M381.4,1425.0L379.0,1453.2M381.4,1425.0L413.8,1424.3M381.4,1425.0L416.0,1454.0M379.0,1453.2L379.6,1483.5M379.0,1453.2L416.0,1454.0M379.0,1453.2L414.4,1483.2M379.6,1483.5L380.9,1512.3M379.6,1483.5L414.4,1483.2M379.6,1483.5L415.1,1512.3M380.9,1512.3L415.1,1512.3M415.1,1134.6L416.6,1164.7M415.1,1134.6L449.4,1134.6M415.1,1134.6L449.4,1163.7M416.6,1164.7L416.4,1193.8M416.6,1164.7L449.4,1163.7M416.6,1164.7L449.4,1192.7M416.4,1193.8L414.1,1223.0M416.4,1193.8L449.4,1192.7M416.4,1193.8L449.4,1221.8M414.1,1223.0L415.9,1249.4M414.1,1223.0L449.4,1221.8M414.1,1223.0L449.4,1250.8M415.9,1249.4L413.2,1278.2M415.9,1249.4L449.4,1250.8M415.9,1249.4L449.4,1279.9M413.2,1278.2L416.2,1308.0M413.2,1278.2L449.4,1279.9M413.2,1278.2L449.4,1308.9M416.2,1308.0L413.5,1338.4M416.2,1308.0L449.4,1308.9M416.2,1308.0L449.4,1338.0M413.5,1338.4L414.5,1365.5M413.5,1338.4L449.4,1338.0M413.5,1338.4L449.4,1367.0M414.5,1365.5L413.7,1396.2M414.5,1365.5L449.4,1367.0M414.5,1365.5L449.4,1396.1M413.7,1396.2L413.8,1424.3M413.7,1396.2L449.4,1396.1M413.7,1396.2L449.4,1425.1M413.8,1424.3L416.0,1454.0M413.8,1424.3L449.4,1425.1M413.8,1424.3L449.4,1454.2M416.0,1454.0L414.4,1483.2M416.0,1454.0L449.4,1454.2M416.0,1454.0L449.4,1483.2M414.4,1483.2L415.1,1512.3M414.4,1483.2L449.4,1483.2M414.4,1483.2L449.4,1512.3M415.1,1512.3L449.4,1512.3M449.4,1134.6L449.4,1163.7M449.4,1163.7L449.4,1192.7M449.4,1192.7L449.4,1221.8M449.4,1221.8L449.4,1250.8M449.4,1250.8L449.4,1279.9M449.4,1279.9L449.4,1308.9M449.4,1308.9L449.4,1338.0M449.4,1338.0L449.4,1367.0M449.4,1367.0L449.4,1396.1M449.4,1396.1L449.4,1425.1M449.4,1425.1L449.4,1454.2M449.4,1454.2L449.4,1483.2M449.4,1483.2L449.4,1512.3" stroke="#111" stroke-width="1.5" fill="none"/><path d="M70.4,1134.6a2.2,2.2 0 1 0 4.4,0a2.2,2.2 0 1 0 -4.4,0M70.4,1163.7a2.2,2.2 0 1 0 4.4,0a2.2,2.2 0 1 0 -4.4,0M70.4,1192.7a2.2,2.2 0 1 0 4.4,0a2.2,2.2 0 1 0 -4.4,0M70.4,1221.8a2.2,2.2 0 1 0 4.4,0a2.2,2.2 0 1 0 -4.4,0M70.4,1254.3a2.2,2.2 0 1 0 4.4,0a2.2,2.2 0 1 0 -4.4,0M104.7,1134.6a2.2,2.2 0 1 0 4.4,0a2.2,2.2 0 1 0 -4.4,0M103.2,1164.9a2.2,2.2 0 1 0 4.4,0a2.2,2.2 0 1 0 -4.4,0M105.7,1191.9a2.2,2.2 0 1 0 4.4,0a2.2,2.2 0 1 0 -4.4,0M104.6,1221.6a2.2,2.2 0 1 0 4.4,0a2.2,2.2 0 1 0 -4.4,0M103.8,1256.3a2.2,2.2 0 1 0 4.4,0a2.2,2.2 0 1 0 -4.4,0M108.7,1256.9a2.2,2.2 0 1 0 4.4,0a2.2,2.2 0 1 0 -4.4,0M138.9,1134.6a2.2,2.2 0 1 0 4.4,0a2.2,2.2 0 1 0 -4.4,0M139.5,1164.7a2.2,2.2 0 1 0 4.4,0a2.2,2.2 0 1 0 -4.4,0M137.2,1191.1a2.2,2.2 0 1 0 4.4,0a2.2,2.2 0 1 0 -4.4,0M140.3,1221.5a2.2,2.2 0 1 0 4.4,0a2.2,2.2 0 1 0 -4.4,0M140.0,1249.1a2.2,2.2 0 1 0 4.4,0a2.2,2.2 0 1 0 -4.4,0M144.5,1264.0a2.2,2.2 0 1 0 4.4,0a2.2,2.2 0 1 0 -4.4,0M173.2,1134.6a2.2,2.2 0 1 0 4.4,0a2.2,2.2 0 1 0 -4.4,0M172.9,1164.4a2.2,2.2 0 1 0 4.4,0a2.2,2.2 0 1 0 -4.4,0M172.0,1194.3a2.2,2.2 0 1 0 4.4,0a2.2,2.2 0 1 0 -4.4,0M174.8,1220.1a2.2,2.2 0 1 0 4.4,0a2.2,2.2 0 1 0 -4.4,0M171.2,1251.0a2.2,2.2 0 1 0 4.4,0a2.2,2.2 0 1 0 -4.4,0M176.0,1274.5a2.2,2.2 0 1 0 4.4,0a2.2,2.2 0 1 0 -4.4,0M207.4,1134.6a2.2,2.2 0 1 0 4.4,0a2.2,2.2 0 1 0 -4.4,0M209.2,1163.2a2.2,2.2 0 1 0 4.4,0a2.2,2.2 0 1 0 -4.4,0M206.3,1192.4a2.2,2.2 0 1 0 4.4,0a2.2,2.2 0 1 0 -4.4,0M205.5,1220.8a2.2,2.2 0 1 0 4.4,0a2.2,2.2 0 1 0 -4.4,0M207.2,1250.8a2.2,2.2 0 1 0 4.4,0a2.2,2.2 0 1 0 -4.4,0M202.5,1286.9a2.2,2.2 0 1 0 4.4,0a2.2,2.2 0 1 0 -4.4,0M218.1,1296.0a2.2,2.2 0 1 0 4.4,0a2.2,2.2 0 1 0 -4.4,0M241.7,1134.6a2.2,2.2 0 1 0 4.4,0a2.2,2.2 0 1 0 -4.4,0M240.6,1162.7a2.2,2.2 0 1 0 4.4,0a2.2,2.2 0 1 0 -4.4,0M240.5,1192.6a2.2,2.2 0 1 0 4.4,0a2.2,2.2 0 1 0 -4.4,0M240.8,1220.1a2.2,2.2 0 1 0 4.4,0a2.2,2.2 0 1 0 -4.4,0M243.1,1251.0a2.2,2.2 0 1 0 4.4,0a2.2,2.2 0 1 0 -4.4,0M242.3,1278.8a2.2,2.2 0 1 0 4.4,0a2.2,2.2 0 1 0 -4.4,0M239.5,1311.0a2.2,2.2 0 1 0 4.4,0a2.2,2.2 0 1 0 -4.4,0M275.9,1134.6a2.2,2.2 0 1 0 4.4,0a2.2,2.2 0 1 0 -4.4,0M278.0,1164.9a2.2,2.2 0 1 0 4.4,0a2.2,2.2 0 1 0 -4.4,0M274.4,1192.1a2.2,2.2 0 1 0 4.4,0a2.2,2.2 0 1 0 -4.4,0M276.8,1222.5a2.2,2.2 0 1 0 4.4,0a2.2,2.2 0 1 0 -4.4,0M277.7,1250.5a2.2,2.2 0 1 0 4.4,0a2.2,2.2 0 1 0 -4.4,0M277.3,1280.5a2.2,2.2 0 1 0 4.4,0a2.2,2.2 0 1 0 -4.4,0M275.1,1309.2a2.2,2.2 0 1 0 4.4,0a2.2,2.2 0 1 0 -4.4,0M271.2,1341.1a2.2,2.2 0 1 0 4.4,0a2.2,2.2 0 1 0 -4.4,0M286.9,1361.3a2.2,2.2 0 1 0 4.4,0a2.2,2.2 0 1 0 -4.4,0M310.2,1134.6a2.2,2.2 0 1 0 4.4,0a2.2,2.2 0 1 0 -4.4,0M311.8,1164.9a2.2,2.2 0 1 0 4.4,0a2.2,2.2 0 1 0 -4.4,0M310.2,1193.0a2.2,2.2 0 1 0 4.4,0a2.2,2.2 0 1 0 -4.4,0M308.3,1220.9a2.2,2.2 0 1 0 4.4,0a2.2,2.2 0 1 0 -4.4,0M311.4,1250.5a2.2,2.2 0 1 0 4.4,0a2.2,2.2 0 1 0 -4.4,0M308.8,1280.0a2.2,2.2 0 1 0 4.4,0a2.2,2.2 0 1 0 -4.4,0M311.0,1309.5a2.2,2.2 0 1 0 4.4,0a2.2,2.2 0 1 0 -4.4,0M309.7,1337.8a2.2,2.2 0 1 0 4.4,0a2.2,2.2 0 1 0 -4.4,0M310.2,1368.0a2.2,2.2 0 1 0 4.4,0a2.2,2.2 0 1 0 -4.4,0M306.8,1397.2a2.2,2.2 0 1 0 4.4,0a2.2,2.2 0 1 0 -4.4,0M316.1,1423.9a2.2,2.2 0 1 0 4.4,0a2.2,2.2 0 1 0 -4.4,0M321.7,1453.2a2.2,2.2 0 1 0 4.4,0a2.2,2.2 0 1 0 -4.4,0M322.9,1483.2a2.2,2.2 0 1 0 4.4,0a2.2,2.2 0 1 0 -4.4,0M322.9,1512.3a2.2,2.2 0 1 0 4.4,0a2.2,2.2 0 1 0 -4.4,0M344.4,1134.6a2.2,2.2 0 1 0 4.4,0a2.2,2.2 0 1 0 -4.4,0M344.5,1163.3a2.2,2.2 0 1 0 4.4,0a2.2,2.2 0 1 0 -4.4,0M344.4,1191.1a2.2,2.2 0 1 0 4.4,0a2.2,2.2 0 1 0 -4.4,0M342.6,1222.5a2.2,2.2 0 1 0 4.4,0a2.2,2.2 0 1 0 -4.4,0M346.4,1251.1a2.2,2.2 0 1 0 4.4,0a2.2,2.2 0 1 0 -4.4,0M344.0,1278.7a2.2,2.2 0 1 0 4.4,0a2.2,2.2 0 1 0 -4.4,0M344.4,1310.6a2.2,2.2 0 1 0 4.4,0a2.2,2.2 0 1 0 -4.4,0M345.5,1338.1a2.2,2.2 0 1 0 4.4,0a2.2,2.2 0 1 0 -4.4,0M345.9,1366.1a2.2,2.2 0 1 0 4.4,0a2.2,2.2 0 1 0 -4.4,0M344.5,1397.7a2.2,2.2 0 1 0 4.4,0a2.2,2.2 0 1 0 -4.4,0M344.8,1425.0a2.2,2.2 0 1 0 4.4,0a2.2,2.2 0 1 0 -4.4,0M343.5,1454.4a2.2,2.2 0 1 0 4.4,0a2.2,2.2 0 1 0 -4.4,0M346.3,1481.5a2.2,2.2 0 1 0 4.4,0a2.2,2.2 0 1 0 -4.4,0M344.4,1512.3a2.2,2.2 0 1 0 4.4,0a2.2,2.2 0 1 0 -4.4,0M378.7,1134.6a2.2,2.2 0 1 0 4.4,0a2.2,2.2 0 1 0 -4.4,0M379.9,1164.8a2.2,2.2 0 1 0 4.4,0a2.2,2.2 0 1 0 -4.4,0M380.3,1193.5a2.2,2.2 0 1 0 4.4,0a2.2,2.2 0 1 0 -4.4,0M380.0,1221.8a2.2,2.2 0 1 0 4.4,0a2.2,2.2 0 1 0 -4.4,0M378.9,1250.6a2.2,2.2 0 1 0 4.4,0a2.2,2.2 0 1 0 -4.4,0M376.9,1281.2a2.2,2.2 0 1 0 4.4,0a2.2,2.2 0 1 0 -4.4,0M379.0,1307.9a2.2,2.2 0 1 0 4.4,0a2.2,2.2 0 1 0 -4.4,0M378.7,1337.9a2.2,2.2 0 1 0 4.4,0a2.2,2.2 0 1 0 -4.4,0M378.1,1366.5a2.2,2.2 0 1 0 4.4,0a2.2,2.2 0 1 0 -4.4,0M378.8,1396.5a2.2,2.2 0 1 0 4.4,0a2.2,2.2 0 1 0 -4.4,0M379.2,1425.0a2.2,2.2 0 1 0 4.4,0a2.2,2.2 0 1 0 -4.4,0M376.8,1453.2a2.2,2.2 0 1 0 4.4,0a2.2,2.2 0 1 0 -4.4,0M377.4,1483.5a2.2,2.2 0 1 0 4.4,0a2.2,2.2 0 1 0 -4.4,0M378.7,1512.3a2.2,2.2 0 1 0 4.4,0a2.2,2.2 0 1 0 -4.4,0M412.9,1134.6a2.2,2.2 0 1 0 4.4,0a2.2,2.2 0 1 0 -4.4,0M414.4,1164.7a2.2,2.2 0 1 0 4.4,0a2.2,2.2 0 1 0 -4.4,0M414.2,1193.8a2.2,2.2 0 1 0 4.4,0a2.2,2.2 0 1 0 -4.4,0M411.9,1223.0a2.2,2.2 0 1 0 4.4,0a2.2,2.2 0 1 0 -4.4,0M413.7,1249.4a2.2,2.2 0 1 0 4.4,0a2.2,2.2 0 1 0 -4.4,0M411.0,1278.2a2.2,2.2 0 1 0 4.4,0a2.2,2.2 0 1 0 -4.4,0M414.0,1308.0a2.2,2.2 0 1 0 4.4,0a2.2,2.2 0 1 0 -4.4,0M411.3,1338.4a2.2,2.2 0 1 0 4.4,0a2.2,2.2 0 1 0 -4.4,0M412.3,1365.5a2.2,2.2 0 1 0 4.4,0a2.2,2.2 0 1 0 -4.4,0M411.5,1396.2a2.2,2.2 0 1 0 4.4,0a2.2,2.2 0 1 0 -4.4,0M411.6,1424.3a2.2,2.2 0 1 0 4.4,0a2.2,2.2 0 1 0 -4.4,0M413.8,1454.0a2.2,2.2 0 1 0 4.4,0a2.2,2.2 0 1 0 -4.4,0M412.2,1483.2a2.2,2.2 0 1 0 4.4,0a2.2,2.2 0 1 0 -4.4,0M412.9,1512.3a2.2,2.2 0 1 0 4.4,0a2.2,2.2 0 1 0 -4.4,0M447.2,1134.6a2.2,2.2 0 1 0 4.4,0a2.2,2.2 0 1 0 -4.4,0M447.2,1163.7a2.2,2.2 0 1 0 4.4,0a2.2,2.2 0 1 0 -4.4,0M447.2,1192.7a2.2,2.2 0 1 0 4.4,0a2.2,2.2 0 1 0 -4.4,0M447.2,1221.8a2.2,2.2 0 1 0 4.4,0a2.2,2.2 0 1 0 -4.4,0M447.2,1250.8a2.2,2.2 0 1 0 4.4,0a2.2,2.2 0 1 0 -4.4,0M447.2,1279.9a2.2,2.2 0 1 0 4.4,0a2.2,2.2 0 1 0 -4.4,0M447.2,1308.9a2.2,2.2 0 1 0 4.4,0a2.2,2.2 0 1 0 -4.4,0M447.2,1338.0a2.2,2.2 0 1 0 4.4,0a2.2,2.2 0 1 0 -4.4,0M447.2,1367.0a2.2,2.2 0 1 0 4.4,0a2.2,2.2 0 1 0 -4.4,0M447.2,1396.1a2.2,2.2 0 1 0 4.4,0a2.2,2.2 0 1 0 -4.4,0M447.2,1425.1a2.2,2.2 0 1 0 4.4,0a2.2,2.2 0 1 0 -4.4,0M447.2,1454.2a2.2,2.2 0 1 0 4.4,0a2.2,2.2 0 1 0 -4.4,0M447.2,1483.2a2.2,2.2 0 1 0 4.4,0a2.2,2.2 0 1 0 -4.4,0M447.2,1512.3a2.2,2.2 0 1 0 4.4,0a2.2,2.2 0 1 0 -4.4,0" fill="#000"/></g><path d="M72.6,1134.6 L449.4,1134.6 L449.4,1512.3 L325.1,1512.3 L325.1,1474.5 A252.5,220.2 0 0 0 72.6,1254.3 Z" fill="none" stroke="#000" stroke-width="3.5" stroke-linejoin="miter"/><clipPath id="cp_E"><path d="M853.4,1134.6 L1232.0,1134.6 L1232.0,1510.8 L1107.1,1510.8 L1107.1,1473.2 A253.7,219.3 0 0 0 853.4,1253.9 Z"/></clipPath><path d="M853.4,1134.6 L1232.0,1134.6 L1232.0,1510.8 L1107.1,1510.8 L1107.1,1473.2 A253.7,219.3 0 0 0 853.4,1253.9 Z" fill="url(#g_dark)"/><g clip-path="url(#cp_E)"><path d="M853.4,1134.6L853.4,1163.5M853.4,1134.6L887.8,1134.6M853.4,1163.5L853.4,1192.5M853.4,1163.5L886.3,1164.7M853.4,1192.5L853.4,1221.4M853.4,1192.5L888.9,1191.6M853.4,1221.4L853.4,1253.9M853.4,1221.4L887.8,1221.2M887.8,1134.6L853.4,1163.5M887.8,1134.6L886.3,1164.7M887.8,1134.6L922.2,1134.6M886.3,1164.7L853.4,1192.5M886.3,1164.7L888.9,1191.6M886.3,1164.7L922.9,1164.5M888.9,1191.6L853.4,1221.4M888.9,1191.6L887.8,1221.2M888.9,1191.6L920.6,1190.8M887.8,1221.2L853.4,1253.9M887.8,1221.2L887.0,1255.8M887.8,1221.2L923.6,1221.2M887.0,1255.8L923.3,1248.6M922.2,1134.6L886.3,1164.7M922.2,1134.6L922.9,1164.5M922.2,1134.6L956.7,1134.6M922.9,1164.5L888.9,1191.6M922.9,1164.5L920.6,1190.8M922.9,1164.5L956.4,1164.3M920.6,1190.8L887.8,1221.2M920.6,1190.8L923.6,1221.2M920.6,1190.8L955.5,1194.0M923.6,1221.2L887.0,1255.8M923.6,1221.2L923.3,1248.6M923.6,1221.2L958.3,1219.8M923.3,1248.6L891.9,1256.4M923.3,1248.6L927.8,1263.5M923.3,1248.6L954.7,1250.5M956.7,1134.6L922.9,1164.5M956.7,1134.6L956.4,1164.3M956.7,1134.6L991.1,1134.6M956.4,1164.3L920.6,1190.8M956.4,1164.3L955.5,1194.0M956.4,1164.3L992.9,1163.1M955.5,1194.0L923.6,1221.2M955.5,1194.0L958.3,1219.8M955.5,1194.0L989.9,1192.2M958.3,1219.8L923.3,1248.6M958.3,1219.8L954.7,1250.5M958.3,1219.8L989.1,1220.4M954.7,1250.5L927.8,1263.5M954.7,1250.5L959.5,1274.0M954.7,1250.5L990.8,1250.3M991.1,1134.6L956.4,1164.3M991.1,1134.6L992.9,1163.1M991.1,1134.6L1025.5,1134.6M992.9,1163.1L955.5,1194.0M992.9,1163.1L989.9,1192.2M992.9,1163.1L1024.4,1162.6M989.9,1192.2L958.3,1219.8M989.9,1192.2L989.1,1220.4M989.9,1192.2L1024.3,1192.3M989.1,1220.4L954.7,1250.5M989.1,1220.4L990.8,1250.3M989.1,1220.4L1024.6,1219.8M990.8,1250.3L959.5,1274.0M990.8,1250.3L986.1,1286.3M990.8,1250.3L1026.9,1250.5M986.1,1286.3L1026.1,1278.2M1025.5,1134.6L992.9,1163.1M1025.5,1134.6L1024.4,1162.6M1025.5,1134.6L1059.9,1134.6M1025.5,1134.6L1061.9,1164.8M1024.4,1162.6L989.9,1192.2M1024.4,1162.6L1024.3,1192.3M1024.4,1162.6L1061.9,1164.8M1024.4,1162.6L1058.3,1191.9M1024.3,1192.3L989.1,1220.4M1024.3,1192.3L1024.6,1219.8M1024.3,1192.3L1058.3,1191.9M1024.3,1192.3L1060.8,1222.1M1024.6,1219.8L990.8,1250.3M1024.6,1219.8L1026.9,1250.5M1024.6,1219.8L1060.8,1222.1M1024.6,1219.8L1061.7,1250.1M1026.9,1250.5L986.1,1286.3M1026.9,1250.5L1026.1,1278.2M1026.9,1250.5L1061.7,1250.1M1026.9,1250.5L1061.3,1279.9M1026.1,1278.2L1001.8,1295.3M1026.1,1278.2L1023.3,1310.3M1026.1,1278.2L1061.3,1279.9M1026.1,1278.2L1059.1,1308.5M1023.3,1310.3L1059.1,1308.5M1059.9,1134.6L1061.9,1164.8M1059.9,1134.6L1094.3,1134.6M1059.9,1134.6L1095.9,1164.7M1061.9,1164.8L1058.3,1191.9M1061.9,1164.8L1095.9,1164.7M1061.9,1164.8L1094.3,1192.8M1058.3,1191.9L1060.8,1222.1M1058.3,1191.9L1094.3,1192.8M1058.3,1191.9L1092.4,1220.5M1060.8,1222.1L1061.7,1250.1M1060.8,1222.1L1092.4,1220.5M1060.8,1222.1L1095.6,1250.1M1061.7,1250.1L1061.3,1279.9M1061.7,1250.1L1095.6,1250.1M1061.7,1250.1L1093.0,1279.5M1061.3,1279.9L1059.1,1308.5M1061.3,1279.9L1093.0,1279.5M1061.3,1279.9L1095.2,1308.8M1059.1,1308.5L1055.2,1340.3M1059.1,1308.5L1095.2,1308.8M1059.1,1308.5L1093.8,1337.0M1055.2,1340.3L1093.8,1337.0M1055.2,1340.3L1094.4,1367.1M1070.9,1360.4L1094.4,1367.1M1094.3,1134.6L1095.9,1164.7M1094.3,1134.6L1128.7,1134.6M1094.3,1134.6L1128.8,1163.2M1095.9,1164.7L1094.3,1192.8M1095.9,1164.7L1128.8,1163.2M1095.9,1164.7L1128.7,1190.8M1094.3,1192.8L1092.4,1220.5M1094.3,1192.8L1128.7,1190.8M1094.3,1192.8L1126.9,1222.1M1092.4,1220.5L1095.6,1250.1M1092.4,1220.5L1126.9,1222.1M1092.4,1220.5L1130.7,1250.7M1095.6,1250.1L1093.0,1279.5M1095.6,1250.1L1130.7,1250.7M1095.6,1250.1L1128.3,1278.1M1093.0,1279.5L1095.2,1308.8M1093.0,1279.5L1128.3,1278.1M1093.0,1279.5L1128.8,1309.9M1095.2,1308.8L1093.8,1337.0M1095.2,1308.8L1128.8,1309.9M1095.2,1308.8L1129.9,1337.3M1093.8,1337.0L1094.4,1367.1M1093.8,1337.0L1129.9,1337.3M1093.8,1337.0L1130.2,1365.2M1094.4,1367.1L1090.9,1396.2M1094.4,1367.1L1130.2,1365.2M1094.4,1367.1L1128.8,1396.6M1090.9,1396.2L1128.8,1396.6M1090.9,1396.2L1129.1,1423.8M1100.3,1422.8L1129.1,1423.8M1100.3,1422.8L1127.8,1453.1M1105.9,1452.0L1127.8,1453.1M1105.9,1452.0L1130.6,1480.1M1107.1,1481.9L1130.6,1480.1M1107.1,1481.9L1128.7,1510.8M1107.1,1510.8L1128.7,1510.8M1128.7,1134.6L1128.8,1163.2M1128.7,1134.6L1163.2,1134.6M1128.7,1134.6L1164.3,1164.7M1128.8,1163.2L1128.7,1190.8M1128.8,1163.2L1164.3,1164.7M1128.8,1163.2L1164.8,1193.3M1128.7,1190.8L1126.9,1222.1M1128.7,1190.8L1164.8,1193.3M1128.7,1190.8L1164.4,1221.5M1126.9,1222.1L1130.7,1250.7M1126.9,1222.1L1164.4,1221.5M1126.9,1222.1L1163.4,1250.1M1130.7,1250.7L1128.3,1278.1M1130.7,1250.7L1163.4,1250.1M1130.7,1250.7L1161.3,1280.6M1128.3,1278.1L1128.8,1309.9M1128.3,1278.1L1161.3,1280.6M1128.3,1278.1L1163.5,1307.2M1128.8,1309.9L1129.9,1337.3M1128.8,1309.9L1163.5,1307.2M1128.8,1309.9L1163.2,1337.1M1129.9,1337.3L1130.2,1365.2M1129.9,1337.3L1163.2,1337.1M1129.9,1337.3L1162.6,1365.6M1130.2,1365.2L1128.8,1396.6M1130.2,1365.2L1162.6,1365.6M1130.2,1365.2L1163.3,1395.5M1128.8,1396.6L1129.1,1423.8M1128.8,1396.6L1163.3,1395.5M1128.8,1396.6L1163.6,1423.8M1129.1,1423.8L1127.8,1453.1M1129.1,1423.8L1163.6,1423.8M1129.1,1423.8L1161.2,1452.0M1127.8,1453.1L1130.6,1480.1M1127.8,1453.1L1161.2,1452.0M1127.8,1453.1L1161.8,1482.2M1130.6,1480.1L1128.7,1510.8M1130.6,1480.1L1161.8,1482.2M1130.6,1480.1L1163.2,1510.8M1128.7,1510.8L1163.2,1510.8M1163.2,1134.6L1164.3,1164.7M1163.2,1134.6L1197.6,1134.6M1163.2,1134.6L1199.1,1164.6M1164.3,1164.7L1164.8,1193.3M1164.3,1164.7L1199.1,1164.6M1164.3,1164.7L1198.8,1193.6M1164.8,1193.3L1164.4,1221.5M1164.8,1193.3L1198.8,1193.6M1164.8,1193.3L1196.6,1222.6M1164.4,1221.5L1163.4,1250.1M1164.4,1221.5L1196.6,1222.6M1164.4,1221.5L1198.3,1248.9M1163.4,1250.1L1161.3,1280.6M1163.4,1250.1L1198.3,1248.9M1163.4,1250.1L1195.6,1277.6M1161.3,1280.6L1163.5,1307.2M1161.3,1280.6L1195.6,1277.6M1161.3,1280.6L1198.6,1307.4M1163.5,1307.2L1163.2,1337.1M1163.5,1307.2L1198.6,1307.4M1163.5,1307.2L1196.0,1337.6M1163.2,1337.1L1162.6,1365.6M1163.2,1337.1L1196.0,1337.6M1163.2,1337.1L1196.9,1364.6M1162.6,1365.6L1163.3,1395.5M1162.6,1365.6L1196.9,1364.6M1162.6,1365.6L1196.2,1395.1M1163.3,1395.5L1163.6,1423.8M1163.3,1395.5L1196.2,1395.1M1163.3,1395.5L1196.2,1423.2M1163.6,1423.8L1161.2,1452.0M1163.6,1423.8L1196.2,1423.2M1163.6,1423.8L1198.5,1452.8M1161.2,1452.0L1161.8,1482.2M1161.2,1452.0L1198.5,1452.8M1161.2,1452.0L1196.8,1481.8M1161.8,1482.2L1163.2,1510.8M1161.8,1482.2L1196.8,1481.8M1161.8,1482.2L1197.6,1510.8M1163.2,1510.8L1197.6,1510.8M1197.6,1134.6L1199.1,1164.6M1197.6,1134.6L1232.0,1134.6M1197.6,1134.6L1232.0,1163.5M1199.1,1164.6L1198.8,1193.6M1199.1,1164.6L1232.0,1163.5M1199.1,1164.6L1232.0,1192.5M1198.8,1193.6L1196.6,1222.6M1198.8,1193.6L1232.0,1192.5M1198.8,1193.6L1232.0,1221.4M1196.6,1222.6L1198.3,1248.9M1196.6,1222.6L1232.0,1221.4M1196.6,1222.6L1232.0,1250.4M1198.3,1248.9L1195.6,1277.6M1198.3,1248.9L1232.0,1250.4M1198.3,1248.9L1232.0,1279.3M1195.6,1277.6L1198.6,1307.4M1195.6,1277.6L1232.0,1279.3M1195.6,1277.6L1232.0,1308.2M1198.6,1307.4L1196.0,1337.6M1198.6,1307.4L1232.0,1308.2M1198.6,1307.4L1232.0,1337.2M1196.0,1337.6L1196.9,1364.6M1196.0,1337.6L1232.0,1337.2M1196.0,1337.6L1232.0,1366.1M1196.9,1364.6L1196.2,1395.1M1196.9,1364.6L1232.0,1366.1M1196.9,1364.6L1232.0,1395.0M1196.2,1395.1L1196.2,1423.2M1196.2,1395.1L1232.0,1395.0M1196.2,1395.1L1232.0,1424.0M1196.2,1423.2L1198.5,1452.8M1196.2,1423.2L1232.0,1424.0M1196.2,1423.2L1232.0,1452.9M1198.5,1452.8L1196.8,1481.8M1198.5,1452.8L1232.0,1452.9M1198.5,1452.8L1232.0,1481.9M1196.8,1481.8L1197.6,1510.8M1196.8,1481.8L1232.0,1481.9M1196.8,1481.8L1232.0,1510.8M1197.6,1510.8L1232.0,1510.8M1232.0,1134.6L1232.0,1163.5M1232.0,1163.5L1232.0,1192.5M1232.0,1192.5L1232.0,1221.4M1232.0,1221.4L1232.0,1250.4M1232.0,1250.4L1232.0,1279.3M1232.0,1279.3L1232.0,1308.2M1232.0,1308.2L1232.0,1337.2M1232.0,1337.2L1232.0,1366.1M1232.0,1366.1L1232.0,1395.0M1232.0,1395.0L1232.0,1424.0M1232.0,1424.0L1232.0,1452.9M1232.0,1452.9L1232.0,1481.9M1232.0,1481.9L1232.0,1510.8" stroke="rgba(20,20,30,0.75)" stroke-width="1.3" fill="none"/><path d="M851.4,1134.6a2,2 0 1 0 4,0a2,2 0 1 0 -4,0M851.4,1163.5a2,2 0 1 0 4,0a2,2 0 1 0 -4,0M851.4,1192.5a2,2 0 1 0 4,0a2,2 0 1 0 -4,0M851.4,1221.4a2,2 0 1 0 4,0a2,2 0 1 0 -4,0M851.4,1253.9a2,2 0 1 0 4,0a2,2 0 1 0 -4,0M885.8,1134.6a2,2 0 1 0 4,0a2,2 0 1 0 -4,0M884.3,1164.7a2,2 0 1 0 4,0a2,2 0 1 0 -4,0M886.9,1191.6a2,2 0 1 0 4,0a2,2 0 1 0 -4,0M885.8,1221.2a2,2 0 1 0 4,0a2,2 0 1 0 -4,0M885.0,1255.8a2,2 0 1 0 4,0a2,2 0 1 0 -4,0M889.9,1256.4a2,2 0 1 0 4,0a2,2 0 1 0 -4,0M920.2,1134.6a2,2 0 1 0 4,0a2,2 0 1 0 -4,0M920.9,1164.5a2,2 0 1 0 4,0a2,2 0 1 0 -4,0M918.6,1190.8a2,2 0 1 0 4,0a2,2 0 1 0 -4,0M921.6,1221.2a2,2 0 1 0 4,0a2,2 0 1 0 -4,0M921.3,1248.6a2,2 0 1 0 4,0a2,2 0 1 0 -4,0M925.8,1263.5a2,2 0 1 0 4,0a2,2 0 1 0 -4,0M954.7,1134.6a2,2 0 1 0 4,0a2,2 0 1 0 -4,0M954.4,1164.3a2,2 0 1 0 4,0a2,2 0 1 0 -4,0M953.5,1194.0a2,2 0 1 0 4,0a2,2 0 1 0 -4,0M956.3,1219.8a2,2 0 1 0 4,0a2,2 0 1 0 -4,0M952.7,1250.5a2,2 0 1 0 4,0a2,2 0 1 0 -4,0M957.5,1274.0a2,2 0 1 0 4,0a2,2 0 1 0 -4,0M989.1,1134.6a2,2 0 1 0 4,0a2,2 0 1 0 -4,0M990.9,1163.1a2,2 0 1 0 4,0a2,2 0 1 0 -4,0M987.9,1192.2a2,2 0 1 0 4,0a2,2 0 1 0 -4,0M987.1,1220.4a2,2 0 1 0 4,0a2,2 0 1 0 -4,0M988.8,1250.3a2,2 0 1 0 4,0a2,2 0 1 0 -4,0M984.1,1286.3a2,2 0 1 0 4,0a2,2 0 1 0 -4,0M999.8,1295.3a2,2 0 1 0 4,0a2,2 0 1 0 -4,0M1023.5,1134.6a2,2 0 1 0 4,0a2,2 0 1 0 -4,0M1022.4,1162.6a2,2 0 1 0 4,0a2,2 0 1 0 -4,0M1022.3,1192.3a2,2 0 1 0 4,0a2,2 0 1 0 -4,0M1022.6,1219.8a2,2 0 1 0 4,0a2,2 0 1 0 -4,0M1024.9,1250.5a2,2 0 1 0 4,0a2,2 0 1 0 -4,0M1024.1,1278.2a2,2 0 1 0 4,0a2,2 0 1 0 -4,0M1021.3,1310.3a2,2 0 1 0 4,0a2,2 0 1 0 -4,0M1057.9,1134.6a2,2 0 1 0 4,0a2,2 0 1 0 -4,0M1059.9,1164.8a2,2 0 1 0 4,0a2,2 0 1 0 -4,0M1056.3,1191.9a2,2 0 1 0 4,0a2,2 0 1 0 -4,0M1058.8,1222.1a2,2 0 1 0 4,0a2,2 0 1 0 -4,0M1059.7,1250.1a2,2 0 1 0 4,0a2,2 0 1 0 -4,0M1059.3,1279.9a2,2 0 1 0 4,0a2,2 0 1 0 -4,0M1057.1,1308.5a2,2 0 1 0 4,0a2,2 0 1 0 -4,0M1053.2,1340.3a2,2 0 1 0 4,0a2,2 0 1 0 -4,0M1068.9,1360.4a2,2 0 1 0 4,0a2,2 0 1 0 -4,0M1092.3,1134.6a2,2 0 1 0 4,0a2,2 0 1 0 -4,0M1093.9,1164.7a2,2 0 1 0 4,0a2,2 0 1 0 -4,0M1092.3,1192.8a2,2 0 1 0 4,0a2,2 0 1 0 -4,0M1090.4,1220.5a2,2 0 1 0 4,0a2,2 0 1 0 -4,0M1093.6,1250.1a2,2 0 1 0 4,0a2,2 0 1 0 -4,0M1091.0,1279.5a2,2 0 1 0 4,0a2,2 0 1 0 -4,0M1093.2,1308.8a2,2 0 1 0 4,0a2,2 0 1 0 -4,0M1091.8,1337.0a2,2 0 1 0 4,0a2,2 0 1 0 -4,0M1092.4,1367.1a2,2 0 1 0 4,0a2,2 0 1 0 -4,0M1088.9,1396.2a2,2 0 1 0 4,0a2,2 0 1 0 -4,0M1098.3,1422.8a2,2 0 1 0 4,0a2,2 0 1 0 -4,0M1103.9,1452.0a2,2 0 1 0 4,0a2,2 0 1 0 -4,0M1105.1,1481.9a2,2 0 1 0 4,0a2,2 0 1 0 -4,0M1105.1,1510.8a2,2 0 1 0 4,0a2,2 0 1 0 -4,0M1126.7,1134.6a2,2 0 1 0 4,0a2,2 0 1 0 -4,0M1126.8,1163.2a2,2 0 1 0 4,0a2,2 0 1 0 -4,0M1126.7,1190.8a2,2 0 1 0 4,0a2,2 0 1 0 -4,0M1124.9,1222.1a2,2 0 1 0 4,0a2,2 0 1 0 -4,0M1128.7,1250.7a2,2 0 1 0 4,0a2,2 0 1 0 -4,0M1126.3,1278.1a2,2 0 1 0 4,0a2,2 0 1 0 -4,0M1126.8,1309.9a2,2 0 1 0 4,0a2,2 0 1 0 -4,0M1127.9,1337.3a2,2 0 1 0 4,0a2,2 0 1 0 -4,0M1128.2,1365.2a2,2 0 1 0 4,0a2,2 0 1 0 -4,0M1126.8,1396.6a2,2 0 1 0 4,0a2,2 0 1 0 -4,0M1127.1,1423.8a2,2 0 1 0 4,0a2,2 0 1 0 -4,0M1125.8,1453.1a2,2 0 1 0 4,0a2,2 0 1 0 -4,0M1128.6,1480.1a2,2 0 1 0 4,0a2,2 0 1 0 -4,0M1126.7,1510.8a2,2 0 1 0 4,0a2,2 0 1 0 -4,0M1161.2,1134.6a2,2 0 1 0 4,0a2,2 0 1 0 -4,0M1162.3,1164.7a2,2 0 1 0 4,0a2,2 0 1 0 -4,0M1162.8,1193.3a2,2 0 1 0 4,0a2,2 0 1 0 -4,0M1162.4,1221.5a2,2 0 1 0 4,0a2,2 0 1 0 -4,0M1161.4,1250.1a2,2 0 1 0 4,0a2,2 0 1 0 -4,0M1159.3,1280.6a2,2 0 1 0 4,0a2,2 0 1 0 -4,0M1161.5,1307.2a2,2 0 1 0 4,0a2,2 0 1 0 -4,0M1161.2,1337.1a2,2 0 1 0 4,0a2,2 0 1 0 -4,0M1160.6,1365.6a2,2 0 1 0 4,0a2,2 0 1 0 -4,0M1161.3,1395.5a2,2 0 1 0 4,0a2,2 0 1 0 -4,0M1161.6,1423.8a2,2 0 1 0 4,0a2,2 0 1 0 -4,0M1159.2,1452.0a2,2 0 1 0 4,0a2,2 0 1 0 -4,0M1159.8,1482.2a2,2 0 1 0 4,0a2,2 0 1 0 -4,0M1161.2,1510.8a2,2 0 1 0 4,0a2,2 0 1 0 -4,0M1195.6,1134.6a2,2 0 1 0 4,0a2,2 0 1 0 -4,0M1197.1,1164.6a2,2 0 1 0 4,0a2,2 0 1 0 -4,0M1196.8,1193.6a2,2 0 1 0 4,0a2,2 0 1 0 -4,0M1194.6,1222.6a2,2 0 1 0 4,0a2,2 0 1 0 -4,0M1196.3,1248.9a2,2 0 1 0 4,0a2,2 0 1 0 -4,0M1193.6,1277.6a2,2 0 1 0 4,0a2,2 0 1 0 -4,0M1196.6,1307.4a2,2 0 1 0 4,0a2,2 0 1 0 -4,0M1194.0,1337.6a2,2 0 1 0 4,0a2,2 0 1 0 -4,0M1194.9,1364.6a2,2 0 1 0 4,0a2,2 0 1 0 -4,0M1194.2,1395.1a2,2 0 1 0 4,0a2,2 0 1 0 -4,0M1194.2,1423.2a2,2 0 1 0 4,0a2,2 0 1 0 -4,0M1196.5,1452.8a2,2 0 1 0 4,0a2,2 0 1 0 -4,0M1194.8,1481.8a2,2 0 1 0 4,0a2,2 0 1 0 -4,0M1195.6,1510.8a2,2 0 1 0 4,0a2,2 0 1 0 -4,0M1230.0,1134.6a2,2 0 1 0 4,0a2,2 0 1 0 -4,0M1230.0,1163.5a2,2 0 1 0 4,0a2,2 0 1 0 -4,0M1230.0,1192.5a2,2 0 1 0 4,0a2,2 0 1 0 -4,0M1230.0,1221.4a2,2 0 1 0 4,0a2,2 0 1 0 -4,0M1230.0,1250.4a2,2 0 1 0 4,0a2,2 0 1 0 -4,0M1230.0,1279.3a2,2 0 1 0 4,0a2,2 0 1 0 -4,0M1230.0,1308.2a2,2 0 1 0 4,0a2,2 0 1 0 -4,0M1230.0,1337.2a2,2 0 1 0 4,0a2,2 0 1 0 -4,0M1230.0,1366.1a2,2 0 1 0 4,0a2,2 0 1 0 -4,0M1230.0,1395.0a2,2 0 1 0 4,0a2,2 0 1 0 -4,0M1230.0,1424.0a2,2 0 1 0 4,0a2,2 0 1 0 -4,0M1230.0,1452.9a2,2 0 1 0 4,0a2,2 0 1 0 -4,0M1230.0,1481.9a2,2 0 1 0 4,0a2,2 0 1 0 -4,0M1230.0,1510.8a2,2 0 1 0 4,0a2,2 0 1 0 -4,0" fill="rgba(20,20,30,0.8)"/></g><path d="M853.4,1134.6 L1232.0,1134.6 L1232.0,1510.8 L1107.1,1510.8 L1107.1,1473.2 A253.7,219.3 0 0 0 853.4,1253.9 Z" fill="none" stroke="#000" stroke-width="3.5" stroke-linejoin="miter"/>
<!-- surface --><path d="M1761,549L2123,579L2218,503L1892,482Z" fill="#828282" stroke="#828282" stroke-width="1"/><path d="M1912,483L1920,480L1923,480L1915,482Z" fill="#808080" stroke="#808080" stroke-width="0.7"/><path d="M1920,480L1928,472L1931,474L1923,480Z" fill="#989898" stroke="#989898" stroke-width="0.7"/><path d="M1928,472L1936,457L1939,465L1931,474Z" fill="#9c9c9c" stroke="#9c9c9c" stroke-width="0.7"/><path d="M1909,484L1917,480L1920,480L1912,483Z" fill="#808080" stroke="#808080" stroke-width="0.7"/><path d="M1936,457L1943,439L1946,452L1939,465Z" fill="#b0b0b0" stroke="#b0b0b0" stroke-width="0.7"/><path d="M1917,480L1925,469L1928,472L1920,480Z" fill="#989898" stroke="#989898" stroke-width="0.7"/><path d="M1943,439L1951,423L1954,441L1946,452Z" fill="#bcbcbc" stroke="#bcbcbc" stroke-width="0.7"/><path d="M1925,469L1933,450L1936,457L1928,472Z" fill="#9c9c9c" stroke="#9c9c9c" stroke-width="0.7"/><path d="M1906,485L1914,479L1917,480L1909,484Z" fill="#808080" stroke="#808080" stroke-width="0.7"/><path d="M1951,423L1959,416L1962,436L1954,441Z" fill="#c4c4c4" stroke="#c4c4c4" stroke-width="0.7"/><path d="M1933,450L1940,425L1943,439L1936,457Z" fill="#bcbcbc" stroke="#bcbcbc" stroke-width="0.7"/><path d="M1914,479L1922,466L1925,469L1917,480Z" fill="#949494" stroke="#949494" stroke-width="0.7"/><path d="M1959,416L1967,424L1970,442L1962,436Z" fill="#c8c8c8" stroke="#c8c8c8" stroke-width="0.7"/><path d="M1940,425L1948,403L1951,423L1943,439Z" fill="#d0d0d0" stroke="#d0d0d0" stroke-width="0.7"/><path d="M1922,466L1930,443L1933,450L1925,469Z" fill="#b0b0b0" stroke="#b0b0b0" stroke-width="0.7"/><path d="M1903,486L1911,480L1914,479L1906,485Z" fill="#808080" stroke="#808080" stroke-width="0.7"/><path d="M1967,424L1974,441L1977,454L1970,442Z" fill="#c4c4c4" stroke="#c4c4c4" stroke-width="0.7"/><path d="M1948,403L1956,395L1959,416L1951,423Z" fill="#dcdcdc" stroke="#dcdcdc" stroke-width="0.7"/><path d="M1930,443L1937,413L1940,425L1933,450Z" fill="#c0c0c0" stroke="#c0c0c0" stroke-width="0.7"/><path d="M1911,480L1919,465L1922,466L1914,479Z" fill="#9c9c9c" stroke="#9c9c9c" stroke-width="0.7"/><path d="M1974,441L1982,460L1985,467L1977,454Z" fill="#b8b8b8" stroke="#b8b8b8" stroke-width="0.7"/><path d="M1956,395L1964,405L1967,424L1959,416Z" fill="#e0e0e0" stroke="#e0e0e0" stroke-width="0.7"/><path d="M1937,413L1945,386L1948,403L1940,425Z" fill="#d8d8d8" stroke="#d8d8d8" stroke-width="0.7"/><path d="M1919,465L1927,438L1930,443L1922,466Z" fill="#a8a8a8" stroke="#a8a8a8" stroke-width="0.7"/><path d="M1900,488L1908,481L1911,480L1903,486Z" fill="#808080" stroke="#808080" stroke-width="0.7"/><path d="M1982,460L1990,475L1993,478L1985,467Z" fill="#a0a0a0" stroke="#a0a0a0" stroke-width="0.7"/><path d="M1964,405L1972,427L1974,441L1967,424Z" fill="#dcdcdc" stroke="#dcdcdc" stroke-width="0.7"/><path d="M1945,386L1953,376L1956,395L1948,403Z" fill="#e8e8e8" stroke="#e8e8e8" stroke-width="0.7"/><path d="M1927,438L1934,404L1937,413L1930,443Z" fill="#d0d0d0" stroke="#d0d0d0" stroke-width="0.7"/><path d="M1908,481L1916,465L1919,465L1911,480ZM1990,475L1998,484L2001,484L1993,478Z" fill="#9c9c9c" stroke="#9c9c9c" stroke-width="0.7"/><path d="M1972,427L1979,453L1982,460L1974,441Z" fill="#c8c8c8" stroke="#c8c8c8" stroke-width="0.7"/><path d="M1953,376L1961,387L1964,405L1956,395Z" fill="#ececec" stroke="#ececec" stroke-width="0.7"/><path d="M1934,404L1942,374L1945,386L1937,413Z" fill="#e0e0e0" stroke="#e0e0e0" stroke-width="0.7"/><path d="M1916,465L1924,438L1927,438L1919,465Z" fill="#a8a8a8" stroke="#a8a8a8" stroke-width="0.7"/><path d="M1998,484L2006,487L2008,487L2001,484Z" fill="#848484" stroke="#848484" stroke-width="0.7"/><path d="M1897,490L1905,483L1908,481L1900,488Z" fill="#808080" stroke="#808080" stroke-width="0.7"/><path d="M1979,453L1987,472L1990,475L1982,460Z" fill="#b8b8b8" stroke="#b8b8b8" stroke-width="0.7"/><path d="M1961,387L1969,415L1972,427L1964,405Z" fill="#e4e4e4" stroke="#e4e4e4" stroke-width="0.7"/><path d="M1942,374L1950,362L1953,376L1945,386Z" fill="#e0e0e0" stroke="#e0e0e0" stroke-width="0.7"/><path d="M1924,438L1931,402L1934,404L1927,438Z" fill="#c8c8c8" stroke="#c8c8c8" stroke-width="0.7"/><path d="M1905,483L1913,468L1916,465L1908,481ZM1987,472L1995,483L1998,484L1990,475Z" fill="#9c9c9c" stroke="#9c9c9c" stroke-width="0.7"/><path d="M1969,415L1977,446L1979,453L1972,427Z" fill="#d0d0d0" stroke="#d0d0d0" stroke-width="0.7"/><path d="M1950,362L1958,375L1961,387L1953,376Z" fill="#e8e8e8" stroke="#e8e8e8" stroke-width="0.7"/><path d="M1931,402L1939,371L1942,374L1934,404Z" fill="#dcdcdc" stroke="#dcdcdc" stroke-width="0.7"/><path d="M1913,468L1921,441L1924,438L1916,465Z" fill="#a8a8a8" stroke="#a8a8a8" stroke-width="0.7"/><path d="M1995,483L2003,488L2006,487L1998,484Z" fill="#848484" stroke="#848484" stroke-width="0.7"/><path d="M1894,492L1902,486L1905,483L1897,490Z" fill="#808080" stroke="#808080" stroke-width="0.7"/><path d="M1977,446L1984,469L1987,472L1979,453Z" fill="#b8b8b8" stroke="#b8b8b8" stroke-width="0.7"/><path d="M1958,375L1966,407L1969,415L1961,387Z" fill="#ececec" stroke="#ececec" stroke-width="0.7"/><path d="M1939,371L1947,358L1950,362L1942,374Z" fill="#e8e8e8" stroke="#e8e8e8" stroke-width="0.7"/><path d="M1921,441L1928,407L1931,402L1924,438Z" fill="#c8c8c8" stroke="#c8c8c8" stroke-width="0.7"/><path d="M2003,488L2011,490L2013,489L2006,487Z" fill="#848484" stroke="#848484" stroke-width="0.7"/><path d="M1902,486L1910,472L1913,468L1905,483ZM1984,469L1992,483L1995,483L1987,472Z" fill="#9c9c9c" stroke="#9c9c9c" stroke-width="0.7"/><path d="M1966,407L1974,441L1977,446L1969,415Z" fill="#e0e0e0" stroke="#e0e0e0" stroke-width="0.7"/><path d="M1947,358L1955,372L1958,375L1950,362Z" fill="#ececec" stroke="#ececec" stroke-width="0.7"/><path d="M2029,489L2037,489L2039,488L2032,488Z" fill="#808080" stroke="#808080" stroke-width="0.7"/><path d="M1928,407L1936,377L1939,371L1931,402Z" fill="#dcdcdc" stroke="#dcdcdc" stroke-width="0.7"/><path d="M1910,472L1918,449L1921,441L1913,468Z" fill="#a8a8a8" stroke="#a8a8a8" stroke-width="0.7"/><path d="M1992,483L2000,489L2003,488L1995,483Z" fill="#848484" stroke="#848484" stroke-width="0.7"/><path d="M1891,494L1899,489L1902,486L1894,492Z" fill="#808080" stroke="#808080" stroke-width="0.7"/><path d="M1974,441L1981,468L1984,469L1977,446Z" fill="#b4b4b4" stroke="#b4b4b4" stroke-width="0.7"/><path d="M1955,372L1963,404L1966,407L1958,375Z" fill="#ececec" stroke="#ececec" stroke-width="0.7"/><path d="M2037,489L2045,488L2047,487L2039,488Z" fill="#808080" stroke="#808080" stroke-width="0.7"/><path d="M1936,377L1944,365L1947,358L1939,371Z" fill="#e4e4e4" stroke="#e4e4e4" stroke-width="0.7"/><path d="M2018,490L2026,490L2029,489L2021,489Z" fill="#808080" stroke="#808080" stroke-width="0.7"/><path d="M1918,449L1926,418L1928,407L1921,441Z" fill="#d0d0d0" stroke="#d0d0d0" stroke-width="0.7"/><path d="M2000,489L2008,491L2011,490L2003,488Z" fill="#848484" stroke="#848484" stroke-width="0.7"/><path d="M1899,489L1907,478L1910,472L1902,486Z" fill="#949494" stroke="#949494" stroke-width="0.7"/><path d="M1981,468L1989,483L1992,483L1984,469Z" fill="#a4a4a4" stroke="#a4a4a4" stroke-width="0.7"/><path d="M1963,404L1971,440L1974,441L1966,407Z" fill="#d8d8d8" stroke="#d8d8d8" stroke-width="0.7"/><path d="M2045,488L2052,487L2055,487L2047,487Z" fill="#808080" stroke="#808080" stroke-width="0.7"/><path d="M1944,365L1952,378L1955,372L1947,358Z" fill="#e8e8e8" stroke="#e8e8e8" stroke-width="0.7"/><path d="M2026,490L2034,489L2037,489L2029,489Z" fill="#808080" stroke="#808080" stroke-width="0.7"/><path d="M1926,418L1933,391L1936,377L1928,407Z" fill="#e0e0e0" stroke="#e0e0e0" stroke-width="0.7"/><path d="M2008,491L2016,491L2018,490L2011,490Z" fill="#808080" stroke="#808080" stroke-width="0.7"/><path d="M1907,478L1915,459L1918,449L1910,472Z" fill="#b0b0b0" stroke="#b0b0b0" stroke-width="0.7"/><path d="M1989,483L1997,490L2000,489L1992,483Z" fill="#9c9c9c" stroke="#9c9c9c" stroke-width="0.7"/><path d="M1888,496L1896,492L1899,489L1891,494Z" fill="#808080" stroke="#808080" stroke-width="0.7"/><path d="M1971,440L1979,468L1981,468L1974,441Z" fill="#b4b4b4" stroke="#b4b4b4" stroke-width="0.7"/><path d="M2052,487L2060,487L2063,487L2055,487Z" fill="#808080" stroke="#808080" stroke-width="0.7"/><path d="M1952,378L1960,409L1963,404L1955,372Z" fill="#ececec" stroke="#ececec" stroke-width="0.7"/><path d="M2034,489L2042,488L2045,488L2037,489Z" fill="#808080" stroke="#808080" stroke-width="0.7"/><path d="M1933,391L1941,380L1944,365L1936,377Z" fill="#e0e0e0" stroke="#e0e0e0" stroke-width="0.7"/><path d="M2016,491L2023,491L2026,490L2018,490Z" fill="#808080" stroke="#808080" stroke-width="0.7"/><path d="M1915,459L1923,434L1926,418L1918,449Z" fill="#c0c0c0" stroke="#c0c0c0" stroke-width="0.7"/><path d="M1997,490L2005,492L2008,491L2000,489Z" fill="#848484" stroke="#848484" stroke-width="0.7"/><path d="M1896,492L1904,484L1907,478L1899,489Z" fill="#989898" stroke="#989898" stroke-width="0.7"/><path d="M1979,468L1986,484L1989,483L1981,468Z" fill="#a4a4a4" stroke="#a4a4a4" stroke-width="0.7"/><path d="M2060,487L2068,486L2071,486L2063,487Z" fill="#808080" stroke="#808080" stroke-width="0.7"/><path d="M1960,409L1968,444L1971,440L1963,404Z" fill="#d8d8d8" stroke="#d8d8d8" stroke-width="0.7"/><path d="M2042,488L2050,487L2052,487L2045,488Z" fill="#808080" stroke="#808080" stroke-width="0.7"/><path d="M1941,380L1949,392L1952,378L1944,365Z" fill="#e8e8e8" stroke="#e8e8e8" stroke-width="0.7"/><path d="M2023,491L2031,490L2034,489L2026,490Z" fill="#808080" stroke="#808080" stroke-width="0.7"/><path d="M1923,434L1930,411L1933,391L1926,418Z" fill="#d4d4d4" stroke="#d4d4d4" stroke-width="0.7"/><path d="M2005,492L2013,492L2016,491L2008,491Z" fill="#808080" stroke="#808080" stroke-width="0.7"/><path d="M1904,484L1912,470L1915,459L1907,478Z" fill="#b0b0b0" stroke="#b0b0b0" stroke-width="0.7"/><path d="M1986,484L1994,491L1997,490L1989,483Z" fill="#9c9c9c" stroke="#9c9c9c" stroke-width="0.7"/><path d="M2068,486L2076,485L2078,486L2071,486Z" fill="#989898" stroke="#989898" stroke-width="0.7"/><path d="M1885,498L1893,496L1896,492L1888,496Z" fill="#808080" stroke="#808080" stroke-width="0.7"/><path d="M1968,444L1976,470L1979,468L1971,440Z" fill="#b4b4b4" stroke="#b4b4b4" stroke-width="0.7"/><path d="M2050,487L2057,486L2060,487L2052,487Z" fill="#808080" stroke="#808080" stroke-width="0.7"/><path d="M1949,392L1957,420L1960,409L1952,378Z" fill="#ececec" stroke="#ececec" stroke-width="0.7"/><path d="M2031,490L2039,489L2042,488L2034,489Z" fill="#808080" stroke="#808080" stroke-width="0.7"/><path d="M1930,411L1938,403L1941,380L1933,391Z" fill="#e0e0e0" stroke="#e0e0e0" stroke-width="0.7"/><path d="M2013,492L2021,491L2023,491L2016,491Z" fill="#808080" stroke="#808080" stroke-width="0.7"/><path d="M1912,470L1920,451L1923,434L1915,459Z" fill="#bcbcbc" stroke="#bcbcbc" stroke-width="0.7"/><path d="M1994,491L2002,493L2005,492L1997,490Z" fill="#848484" stroke="#848484" stroke-width="0.7"/><path d="M2076,485L2083,484L2086,485L2078,486ZM1893,496L1901,490L1904,484L1896,492Z" fill="#989898" stroke="#989898" stroke-width="0.7"/><path d="M1976,470L1984,485L1986,484L1979,468Z" fill="#a4a4a4" stroke="#a4a4a4" stroke-width="0.7"/><path d="M2057,486L2065,485L2068,486L2060,487Z" fill="#989898" stroke="#989898" stroke-width="0.7"/><path d="M1957,420L1965,451L1968,444L1960,409Z" fill="#e0e0e0" stroke="#e0e0e0" stroke-width="0.7"/><path d="M2039,489L2047,487L2050,487L2042,488Z" fill="#989898" stroke="#989898" stroke-width="0.7"/><path d="M1938,403L1946,412L1949,392L1941,380Z" fill="#e4e4e4" stroke="#e4e4e4" stroke-width="0.7"/><path d="M2021,491L2029,490L2031,490L2023,491Z" fill="#808080" stroke="#808080" stroke-width="0.7"/><path d="M1920,451L1927,434L1930,411L1923,434Z" fill="#d0d0d0" stroke="#d0d0d0" stroke-width="0.7"/><path d="M2002,493L2010,493L2013,492L2005,492Z" fill="#808080" stroke="#808080" stroke-width="0.7"/><path d="M2083,484L2091,484L2094,485L2086,485Z" fill="#989898" stroke="#989898" stroke-width="0.7"/><path d="M1901,490L1909,480L1912,470L1904,484ZM1984,485L1992,492L1994,491L1986,484Z" fill="#9c9c9c" stroke="#9c9c9c" stroke-width="0.7"/><path d="M2065,485L2073,483L2076,485L2068,486Z" fill="#989898" stroke="#989898" stroke-width="0.7"/><path d="M1882,500L1890,499L1893,496L1885,498Z" fill="#808080" stroke="#808080" stroke-width="0.7"/><path d="M1965,451L1973,474L1976,470L1968,444Z" fill="#b4b4b4" stroke="#b4b4b4" stroke-width="0.7"/><path d="M2047,487L2055,485L2057,486L2050,487Z" fill="#989898" stroke="#989898" stroke-width="0.7"/><path d="M1946,412L1954,435L1957,420L1949,392Z" fill="#e4e4e4" stroke="#e4e4e4" stroke-width="0.7"/><path d="M2029,490L2036,489L2039,489L2031,490Z" fill="#808080" stroke="#808080" stroke-width="0.7"/><path d="M1927,434L1935,427L1938,403L1930,411Z" fill="#dcdcdc" stroke="#dcdcdc" stroke-width="0.7"/><path d="M2010,493L2018,492L2021,491L2013,492Z" fill="#808080" stroke="#808080" stroke-width="0.7"/><path d="M2091,484L2099,484L2102,486L2094,485Z" fill="#989898" stroke="#989898" stroke-width="0.7"/><path d="M1909,480L1917,467L1920,451L1912,470Z" fill="#b0b0b0" stroke="#b0b0b0" stroke-width="0.7"/><path d="M1992,492L1999,494L2002,493L1994,491Z" fill="#848484" stroke="#848484" stroke-width="0.7"/><path d="M2073,483L2081,482L2083,484L2076,485Z" fill="#989898" stroke="#989898" stroke-width="0.7"/><path d="M1890,499L1898,495L1901,490L1893,496Z" fill="#808080" stroke="#808080" stroke-width="0.7"/><path d="M1973,474L1981,488L1984,485L1976,470Z" fill="#a4a4a4" stroke="#a4a4a4" stroke-width="0.7"/><path d="M2055,485L2063,483L2065,485L2057,486Z" fill="#989898" stroke="#989898" stroke-width="0.7"/><path d="M1954,435L1962,461L1965,451L1957,420Z" fill="#d0d0d0" stroke="#d0d0d0" stroke-width="0.7"/><path d="M2036,489L2044,486L2047,487L2039,489Z" fill="#989898" stroke="#989898" stroke-width="0.7"/><path d="M1935,427L1943,435L1946,412L1938,403Z" fill="#e0e0e0" stroke="#e0e0e0" stroke-width="0.7"/><path d="M2018,492L2026,490L2029,490L2021,491Z" fill="#808080" stroke="#808080" stroke-width="0.7"/><path d="M2099,484L2107,485L2109,486L2102,486Z" fill="#989898" stroke="#989898" stroke-width="0.7"/><path d="M1917,467L1925,455L1927,434L1920,451Z" fill="#bcbcbc" stroke="#bcbcbc" stroke-width="0.7"/><path d="M1999,494L2007,494L2010,493L2002,493Z" fill="#808080" stroke="#808080" stroke-width="0.7"/><path d="M2081,482L2089,481L2091,484L2083,484ZM1898,495L1906,489L1909,480L1901,490Z" fill="#989898" stroke="#989898" stroke-width="0.7"/><path d="M1981,488L1989,494L1992,492L1984,485Z" fill="#9c9c9c" stroke="#9c9c9c" stroke-width="0.7"/><path d="M2063,483L2070,480L2073,483L2065,485Z" fill="#989898" stroke="#989898" stroke-width="0.7"/><path d="M1962,461L1970,480L1973,474L1965,451Z" fill="#b4b4b4" stroke="#b4b4b4" stroke-width="0.7"/><path d="M2044,486L2052,484L2055,485L2047,487Z" fill="#989898" stroke="#989898" stroke-width="0.7"/><path d="M1943,435L1951,452L1954,435L1946,412Z" fill="#dcdcdc" stroke="#dcdcdc" stroke-width="0.7"/><path d="M2026,490L2034,488L2036,489L2029,490ZM2107,485L2115,487L2117,488L2109,486Z" fill="#989898" stroke="#989898" stroke-width="0.7"/><path d="M1925,455L1933,450L1935,427L1927,434Z" fill="#d4d4d4" stroke="#d4d4d4" stroke-width="0.7"/><path d="M2007,494L2015,492L2018,492L2010,493Z" fill="#808080" stroke="#808080" stroke-width="0.7"/><path d="M2089,481L2096,481L2099,484L2091,484Z" fill="#989898" stroke="#989898" stroke-width="0.7"/><path d="M1906,489L1914,481L1917,467L1909,480Z" fill="#9c9c9c" stroke="#9c9c9c" stroke-width="0.7"/><path d="M1989,494L1997,495L1999,494L1992,492Z" fill="#848484" stroke="#848484" stroke-width="0.7"/><path d="M2070,480L2078,478L2081,482L2073,483Z" fill="#a0a0a0" stroke="#a0a0a0" stroke-width="0.7"/><path d="M1887,502L1895,500L1898,495L1890,499Z" fill="#808080" stroke="#808080" stroke-width="0.7"/><path d="M1970,480L1978,491L1981,488L1973,474Z" fill="#a0a0a0" stroke="#a0a0a0" stroke-width="0.7"/><path d="M2052,484L2060,480L2063,483L2055,485Z" fill="#989898" stroke="#989898" stroke-width="0.7"/><path d="M1951,452L1959,471L1962,461L1954,435Z" fill="#c8c8c8" stroke="#c8c8c8" stroke-width="0.7"/><path d="M2034,488L2042,485L2044,486L2036,489ZM2115,487L2122,488L2125,489L2117,488Z" fill="#989898" stroke="#989898" stroke-width="0.7"/><path d="M1933,450L1940,456L1943,435L1935,427Z" fill="#d8d8d8" stroke="#d8d8d8" stroke-width="0.7"/><path d="M2015,492L2023,490L2026,490L2018,492ZM2096,481L2104,482L2107,485L2099,484Z" fill="#989898" stroke="#989898" stroke-width="0.7"/><path d="M1914,481L1922,473L1925,455L1917,467Z" fill="#acacac" stroke="#acacac" stroke-width="0.7"/><path d="M1997,495L2005,494L2007,494L1999,494Z" fill="#808080" stroke="#808080" stroke-width="0.7"/><path d="M2078,478L2086,477L2089,481L2081,482Z" fill="#a0a0a0" stroke="#a0a0a0" stroke-width="0.7"/><path d="M1895,500L1903,496L1906,489L1898,495Z" fill="#808080" stroke="#808080" stroke-width="0.7"/><path d="M1978,491L1986,495L1989,494L1981,488Z" fill="#989898" stroke="#989898" stroke-width="0.7"/><path d="M2060,480L2068,476L2070,480L2063,483Z" fill="#9c9c9c" stroke="#9c9c9c" stroke-width="0.7"/><path d="M1959,471L1967,486L1970,480L1962,461Z" fill="#b8b8b8" stroke="#b8b8b8" stroke-width="0.7"/><path d="M2042,485L2049,481L2052,484L2044,486Z" fill="#989898" stroke="#989898" stroke-width="0.7"/><path d="M2122,488L2130,490L2133,491L2125,489Z" fill="#848484" stroke="#848484" stroke-width="0.7"/><path d="M1940,456L1948,468L1951,452L1943,435Z" fill="#c4c4c4" stroke="#c4c4c4" stroke-width="0.7"/><path d="M2023,490L2031,488L2034,488L2026,490ZM2104,482L2112,484L2115,487L2107,485Z" fill="#989898" stroke="#989898" stroke-width="0.7"/><path d="M1922,473L1930,470L1933,450L1925,455Z" fill="#acacac" stroke="#acacac" stroke-width="0.7"/><path d="M2005,494L2012,493L2015,492L2007,494Z" fill="#808080" stroke="#808080" stroke-width="0.7"/><path d="M2086,477L2094,477L2096,481L2089,481Z" fill="#a0a0a0" stroke="#a0a0a0" stroke-width="0.7"/><path d="M1903,496L1911,491L1914,481L1906,489Z" fill="#989898" stroke="#989898" stroke-width="0.7"/><path d="M1986,495L1994,496L1997,495L1989,494Z" fill="#848484" stroke="#848484" stroke-width="0.7"/><path d="M2068,476L2076,473L2078,478L2070,480Z" fill="#9c9c9c" stroke="#9c9c9c" stroke-width="0.7"/><path d="M1884,504L1892,503L1895,500L1887,502Z" fill="#808080" stroke="#808080" stroke-width="0.7"/><path d="M1967,486L1975,494L1978,491L1970,480ZM2049,481L2057,476L2060,480L2052,484Z" fill="#9c9c9c" stroke="#9c9c9c" stroke-width="0.7"/><path d="M2130,490L2138,492L2140,492L2133,491Z" fill="#848484" stroke="#848484" stroke-width="0.7"/><path d="M1948,468L1956,481L1959,471L1951,452Z" fill="#b4b4b4" stroke="#b4b4b4" stroke-width="0.7"/><path d="M2031,488L2039,483L2042,485L2034,488ZM2112,484L2120,487L2122,488L2115,487Z" fill="#989898" stroke="#989898" stroke-width="0.7"/><path d="M1930,470L1938,474L1940,456L1933,450Z" fill="#b0b0b0" stroke="#b0b0b0" stroke-width="0.7"/><path d="M2012,493L2020,490L2023,490L2015,492Z" fill="#989898" stroke="#989898" stroke-width="0.7"/><path d="M2094,477L2102,478L2104,482L2096,481Z" fill="#a0a0a0" stroke="#a0a0a0" stroke-width="0.7"/><path d="M1911,491L1919,487L1922,473L1914,481Z" fill="#9c9c9c" stroke="#9c9c9c" stroke-width="0.7"/><path d="M1994,496L2002,495L2005,494L1997,495Z" fill="#808080" stroke="#808080" stroke-width="0.7"/><path d="M2076,473L2083,471L2086,477L2078,478Z" fill="#b4b4b4" stroke="#b4b4b4" stroke-width="0.7"/><path d="M1892,503L1900,501L1903,496L1895,500Z" fill="#808080" stroke="#808080" stroke-width="0.7"/><path d="M1975,494L1983,497L1986,495L1978,491Z" fill="#989898" stroke="#989898" stroke-width="0.7"/><path d="M2057,476L2065,471L2068,476L2060,480Z" fill="#b4b4b4" stroke="#b4b4b4" stroke-width="0.7"/><path d="M2138,492L2146,494L2148,494L2140,492Z" fill="#848484" stroke="#848484" stroke-width="0.7"/><path d="M1956,481L1964,491L1967,486L1959,471Z" fill="#a0a0a0" stroke="#a0a0a0" stroke-width="0.7"/><path d="M2039,483L2047,478L2049,481L2042,485Z" fill="#9c9c9c" stroke="#9c9c9c" stroke-width="0.7"/><path d="M2120,487L2128,490L2130,490L2122,488Z" fill="#989898" stroke="#989898" stroke-width="0.7"/><path d="M1938,474L1946,481L1948,468L1940,456Z" fill="#b0b0b0" stroke="#b0b0b0" stroke-width="0.7"/><path d="M2020,490L2028,487L2031,488L2023,490Z" fill="#989898" stroke="#989898" stroke-width="0.7"/><path d="M2102,478L2110,481L2112,484L2104,482Z" fill="#a0a0a0" stroke="#a0a0a0" stroke-width="0.7"/><path d="M1919,487L1927,485L1930,470L1922,473Z" fill="#b4b4b4" stroke="#b4b4b4" stroke-width="0.7"/><path d="M2002,495L2010,493L2012,493L2005,494Z" fill="#989898" stroke="#989898" stroke-width="0.7"/><path d="M2083,471L2091,470L2094,477L2086,477Z" fill="#b4b4b4" stroke="#b4b4b4" stroke-width="0.7"/><path d="M1900,501L1908,499L1911,491L1903,496Z" fill="#989898" stroke="#989898" stroke-width="0.7"/><path d="M1983,497L1991,497L1994,496L1986,495Z" fill="#808080" stroke="#808080" stroke-width="0.7"/><path d="M2065,471L2073,466L2076,473L2068,476Z" fill="#b4b4b4" stroke="#b4b4b4" stroke-width="0.7"/><path d="M2146,494L2153,496L2156,495L2148,494Z" fill="#848484" stroke="#848484" stroke-width="0.7"/><path d="M1964,491L1972,497L1975,494L1967,486Z" fill="#9c9c9c" stroke="#9c9c9c" stroke-width="0.7"/><path d="M2047,478L2055,471L2057,476L2049,481Z" fill="#b4b4b4" stroke="#b4b4b4" stroke-width="0.7"/><path d="M2128,490L2135,492L2138,492L2130,490Z" fill="#989898" stroke="#989898" stroke-width="0.7"/><path d="M1946,481L1954,490L1956,481L1948,468Z" fill="#a0a0a0" stroke="#a0a0a0" stroke-width="0.7"/><path d="M2028,487L2036,481L2039,483L2031,488Z" fill="#9c9c9c" stroke="#9c9c9c" stroke-width="0.7"/><path d="M2110,481L2117,484L2120,487L2112,484Z" fill="#989898" stroke="#989898" stroke-width="0.7"/><path d="M1927,485L1935,487L1938,474L1930,470Z" fill="#b4b4b4" stroke="#b4b4b4" stroke-width="0.7"/><path d="M2010,493L2018,490L2020,490L2012,493Z" fill="#989898" stroke="#989898" stroke-width="0.7"/><path d="M2091,470L2099,472L2102,478L2094,477Z" fill="#b4b4b4" stroke="#b4b4b4" stroke-width="0.7"/><path d="M1908,499L1916,496L1919,487L1911,491ZM1991,497L1999,496L2002,495L1994,496Z" fill="#989898" stroke="#989898" stroke-width="0.7"/><path d="M2073,466L2081,462L2083,471L2076,473Z" fill="#acacac" stroke="#acacac" stroke-width="0.7"/><path d="M2153,496L2161,497L2164,496L2156,495Z" fill="#848484" stroke="#848484" stroke-width="0.7"/><path d="M1889,506L1897,505L1900,501L1892,503Z" fill="#808080" stroke="#808080" stroke-width="0.7"/><path d="M1972,497L1980,499L1983,497L1975,494Z" fill="#989898" stroke="#989898" stroke-width="0.7"/><path d="M2055,471L2063,463L2065,471L2057,476Z" fill="#b4b4b4" stroke="#b4b4b4" stroke-width="0.7"/><path d="M2135,492L2143,495L2146,494L2138,492Z" fill="#848484" stroke="#848484" stroke-width="0.7"/><path d="M1954,490L1962,496L1964,491L1956,481ZM2036,481L2044,474L2047,478L2039,483Z" fill="#9c9c9c" stroke="#9c9c9c" stroke-width="0.7"/><path d="M2117,484L2125,488L2128,490L2120,487Z" fill="#989898" stroke="#989898" stroke-width="0.7"/><path d="M1935,487L1943,492L1946,481L1938,474Z" fill="#a0a0a0" stroke="#a0a0a0" stroke-width="0.7"/><path d="M2018,490L2026,485L2028,487L2020,490Z" fill="#989898" stroke="#989898" stroke-width="0.7"/><path d="M2099,472L2107,476L2110,481L2102,478Z" fill="#a0a0a0" stroke="#a0a0a0" stroke-width="0.7"/><path d="M1916,496L1924,496L1927,485L1919,487ZM1999,496L2007,493L2010,493L2002,495Z" fill="#989898" stroke="#989898" stroke-width="0.7"/><path d="M2081,462L2089,462L2091,470L2083,471Z" fill="#acacac" stroke="#acacac" stroke-width="0.7"/><path d="M1897,505L1905,504L1908,499L1900,501ZM1980,499L1988,498L1991,497L1983,497Z" fill="#808080" stroke="#808080" stroke-width="0.7"/><path d="M2063,463L2070,456L2073,466L2065,471Z" fill="#acacac" stroke="#acacac" stroke-width="0.7"/><path d="M2143,495L2151,497L2153,496L2146,494Z" fill="#848484" stroke="#848484" stroke-width="0.7"/><path d="M1962,496L1970,500L1972,497L1964,491Z" fill="#989898" stroke="#989898" stroke-width="0.7"/><path d="M2044,474L2052,464L2055,471L2047,478Z" fill="#b0b0b0" stroke="#b0b0b0" stroke-width="0.7"/><path d="M2125,488L2133,492L2135,492L2128,490Z" fill="#989898" stroke="#989898" stroke-width="0.7"/><path d="M1943,492L1951,497L1954,490L1946,481ZM2026,485L2033,478L2036,481L2028,487Z" fill="#9c9c9c" stroke="#9c9c9c" stroke-width="0.7"/><path d="M2107,476L2115,481L2117,484L2110,481Z" fill="#a0a0a0" stroke="#a0a0a0" stroke-width="0.7"/><path d="M1924,496L1932,497L1935,487L1927,485ZM2007,493L2015,490L2018,490L2010,493Z" fill="#989898" stroke="#989898" stroke-width="0.7"/><path d="M2089,462L2097,464L2099,472L2091,470Z" fill="#b0b0b0" stroke="#b0b0b0" stroke-width="0.7"/><path d="M1905,504L1913,503L1916,496L1908,499Z" fill="#808080" stroke="#808080" stroke-width="0.7"/><path d="M1988,498L1996,496L1999,496L1991,497Z" fill="#989898" stroke="#989898" stroke-width="0.7"/><path d="M2070,456L2078,451L2081,462L2073,466Z" fill="#c0c0c0" stroke="#c0c0c0" stroke-width="0.7"/><path d="M2151,497L2159,498L2161,497L2153,496ZM1970,500L1977,500L1980,499L1972,497Z" fill="#848484" stroke="#848484" stroke-width="0.7"/><path d="M2052,464L2060,453L2063,463L2055,471Z" fill="#acacac" stroke="#acacac" stroke-width="0.7"/><path d="M2133,492L2141,495L2143,495L2135,492ZM1951,497L1959,500L1962,496L1954,490Z" fill="#989898" stroke="#989898" stroke-width="0.7"/><path d="M2033,478L2041,468L2044,474L2036,481Z" fill="#b0b0b0" stroke="#b0b0b0" stroke-width="0.7"/><path d="M2115,481L2123,486L2125,488L2117,484Z" fill="#a0a0a0" stroke="#a0a0a0" stroke-width="0.7"/><path d="M1932,497L1940,499L1943,492L1935,487Z" fill="#989898" stroke="#989898" stroke-width="0.7"/><path d="M2015,490L2023,484L2026,485L2018,490Z" fill="#9c9c9c" stroke="#9c9c9c" stroke-width="0.7"/><path d="M2097,464L2104,469L2107,476L2099,472Z" fill="#b4b4b4" stroke="#b4b4b4" stroke-width="0.7"/><path d="M1913,503L1921,503L1924,496L1916,496ZM1996,496L2004,494L2007,493L1999,496Z" fill="#989898" stroke="#989898" stroke-width="0.7"/><path d="M2078,451L2086,450L2089,462L2081,462Z" fill="#c0c0c0" stroke="#c0c0c0" stroke-width="0.7"/><path d="M2159,498L2167,500L2169,499L2161,497Z" fill="#848484" stroke="#848484" stroke-width="0.7"/><path d="M1894,508L1902,508L1905,504L1897,505ZM1977,500L1985,499L1988,498L1980,499Z" fill="#808080" stroke="#808080" stroke-width="0.7"/><path d="M2060,453L2068,444L2070,456L2063,463Z" fill="#c4c4c4" stroke="#c4c4c4" stroke-width="0.7"/><path d="M2141,495L2149,497L2151,497L2143,495ZM1959,500L1967,502L1970,500L1962,496Z" fill="#848484" stroke="#848484" stroke-width="0.7"/><path d="M2041,468L2049,456L2052,464L2044,474Z" fill="#acacac" stroke="#acacac" stroke-width="0.7"/><path d="M2123,486L2131,490L2133,492L2125,488ZM1940,499L1948,502L1951,497L1943,492Z" fill="#989898" stroke="#989898" stroke-width="0.7"/><path d="M2023,484L2031,475L2033,478L2026,485ZM2104,469L2112,475L2115,481L2107,476Z" fill="#b4b4b4" stroke="#b4b4b4" stroke-width="0.7"/><path d="M1921,503L1929,503L1932,497L1924,496ZM2004,494L2012,489L2015,490L2007,493Z" fill="#989898" stroke="#989898" stroke-width="0.7"/><path d="M2086,450L2094,453L2097,464L2089,462Z" fill="#c0c0c0" stroke="#c0c0c0" stroke-width="0.7"/><path d="M1902,508L1910,507L1913,503L1905,504Z" fill="#808080" stroke="#808080" stroke-width="0.7"/><path d="M1985,499L1993,497L1996,496L1988,498Z" fill="#989898" stroke="#989898" stroke-width="0.7"/><path d="M2068,444L2076,437L2078,451L2070,456Z" fill="#c4c4c4" stroke="#c4c4c4" stroke-width="0.7"/><path d="M2149,497L2156,499L2159,498L2151,497Z" fill="#848484" stroke="#848484" stroke-width="0.7"/><path d="M1967,502L1975,502L1977,500L1970,500Z" fill="#808080" stroke="#808080" stroke-width="0.7"/><path d="M2049,456L2057,442L2060,453L2052,464Z" fill="#c4c4c4" stroke="#c4c4c4" stroke-width="0.7"/><path d="M2131,490L2138,494L2141,495L2133,492Z" fill="#989898" stroke="#989898" stroke-width="0.7"/><path d="M1948,502L1956,504L1959,500L1951,497Z" fill="#848484" stroke="#848484" stroke-width="0.7"/><path d="M2031,475L2039,462L2041,468L2033,478Z" fill="#acacac" stroke="#acacac" stroke-width="0.7"/><path d="M2112,475L2120,482L2123,486L2115,481Z" fill="#a0a0a0" stroke="#a0a0a0" stroke-width="0.7"/><path d="M1929,503L1937,505L1940,499L1932,497Z" fill="#989898" stroke="#989898" stroke-width="0.7"/><path d="M2012,489L2020,482L2023,484L2015,490Z" fill="#9c9c9c" stroke="#9c9c9c" stroke-width="0.7"/><path d="M2094,453L2102,459L2104,469L2097,464Z" fill="#c4c4c4" stroke="#c4c4c4" stroke-width="0.7"/><path d="M1910,507L1918,507L1921,503L1913,503Z" fill="#808080" stroke="#808080" stroke-width="0.7"/><path d="M1993,497L2001,494L2004,494L1996,496Z" fill="#989898" stroke="#989898" stroke-width="0.7"/><path d="M2076,437L2084,435L2086,450L2078,451Z" fill="#d8d8d8" stroke="#d8d8d8" stroke-width="0.7"/><path d="M2156,499L2164,501L2167,500L2159,498Z" fill="#848484" stroke="#848484" stroke-width="0.7"/><path d="M1975,502L1983,500L1985,499L1977,500Z" fill="#989898" stroke="#989898" stroke-width="0.7"/><path d="M2057,442L2065,429L2068,444L2060,453Z" fill="#d4d4d4" stroke="#d4d4d4" stroke-width="0.7"/><path d="M2138,494L2146,497L2149,497L2141,495Z" fill="#989898" stroke="#989898" stroke-width="0.7"/><path d="M1956,504L1964,504L1967,502L1959,500Z" fill="#848484" stroke="#848484" stroke-width="0.7"/><path d="M2039,462L2047,446L2049,456L2041,468Z" fill="#bcbcbc" stroke="#bcbcbc" stroke-width="0.7"/><path d="M2120,482L2128,488L2131,490L2123,486Z" fill="#a0a0a0" stroke="#a0a0a0" stroke-width="0.7"/><path d="M1937,505L1945,506L1948,502L1940,499Z" fill="#848484" stroke="#848484" stroke-width="0.7"/><path d="M2020,482L2028,471L2031,475L2023,484ZM2102,459L2110,468L2112,475L2104,469Z" fill="#b0b0b0" stroke="#b0b0b0" stroke-width="0.7"/><path d="M1918,507L1926,508L1929,503L1921,503Z" fill="#808080" stroke="#808080" stroke-width="0.7"/><path d="M2001,494L2009,489L2012,489L2004,494Z" fill="#9c9c9c" stroke="#9c9c9c" stroke-width="0.7"/><path d="M2084,435L2092,439L2094,453L2086,450Z" fill="#d8d8d8" stroke="#d8d8d8" stroke-width="0.7"/><path d="M2164,501L2172,502L2174,501L2167,500Z" fill="#848484" stroke="#848484" stroke-width="0.7"/><path d="M1983,500L1991,498L1993,497L1985,499Z" fill="#989898" stroke="#989898" stroke-width="0.7"/><path d="M2065,429L2073,419L2076,437L2068,444Z" fill="#d0d0d0" stroke="#d0d0d0" stroke-width="0.7"/><path d="M2146,497L2154,500L2156,499L2149,497Z" fill="#848484" stroke="#848484" stroke-width="0.7"/><path d="M1964,504L1972,503L1975,502L1967,502Z" fill="#808080" stroke="#808080" stroke-width="0.7"/><path d="M2047,446L2055,428L2057,442L2049,456Z" fill="#d4d4d4" stroke="#d4d4d4" stroke-width="0.7"/><path d="M2128,488L2136,493L2138,494L2131,490Z" fill="#989898" stroke="#989898" stroke-width="0.7"/><path d="M1945,506L1953,506L1956,504L1948,502Z" fill="#848484" stroke="#848484" stroke-width="0.7"/><path d="M2028,471L2036,456L2039,462L2031,475Z" fill="#bcbcbc" stroke="#bcbcbc" stroke-width="0.7"/><path d="M2110,468L2118,477L2120,482L2112,475Z" fill="#b8b8b8" stroke="#b8b8b8" stroke-width="0.7"/><path d="M1926,508L1934,508L1937,505L1929,503Z" fill="#848484" stroke="#848484" stroke-width="0.7"/><path d="M2009,489L2017,480L2020,482L2012,489Z" fill="#9c9c9c" stroke="#9c9c9c" stroke-width="0.7"/><path d="M2092,439L2099,447L2102,459L2094,453Z" fill="#c8c8c8" stroke="#c8c8c8" stroke-width="0.7"/><path d="M1991,498L1999,494L2001,494L1993,497Z" fill="#989898" stroke="#989898" stroke-width="0.7"/><path d="M2073,419L2081,417L2084,435L2076,437Z" fill="#dcdcdc" stroke="#dcdcdc" stroke-width="0.7"/><path d="M2154,500L2162,502L2164,501L2156,499Z" fill="#848484" stroke="#848484" stroke-width="0.7"/><path d="M1972,503L1980,501L1983,500L1975,502Z" fill="#989898" stroke="#989898" stroke-width="0.7"/><path d="M2055,428L2063,411L2065,429L2057,442Z" fill="#d8d8d8" stroke="#d8d8d8" stroke-width="0.7"/><path d="M2136,493L2144,497L2146,497L2138,494Z" fill="#989898" stroke="#989898" stroke-width="0.7"/><path d="M1953,506L1961,506L1964,504L1956,504Z" fill="#808080" stroke="#808080" stroke-width="0.7"/><path d="M2036,456L2044,435L2047,446L2039,462Z" fill="#d4d4d4" stroke="#d4d4d4" stroke-width="0.7"/><path d="M2118,477L2126,485L2128,488L2120,482Z" fill="#a0a0a0" stroke="#a0a0a0" stroke-width="0.7"/><path d="M1934,508L1942,508L1945,506L1937,505Z" fill="#848484" stroke="#848484" stroke-width="0.7"/><path d="M2017,480L2025,467L2028,471L2020,482Z" fill="#acacac" stroke="#acacac" stroke-width="0.7"/><path d="M2099,447L2107,459L2110,468L2102,459Z" fill="#c4c4c4" stroke="#c4c4c4" stroke-width="0.7"/><path d="M1915,510L1923,511L1926,508L1918,507Z" fill="#808080" stroke="#808080" stroke-width="0.7"/><path d="M1999,494L2007,488L2009,489L2001,494Z" fill="#9c9c9c" stroke="#9c9c9c" stroke-width="0.7"/><path d="M2081,417L2089,422L2092,439L2084,435Z" fill="#dcdcdc" stroke="#dcdcdc" stroke-width="0.7"/><path d="M2162,502L2170,504L2172,502L2164,501Z" fill="#848484" stroke="#848484" stroke-width="0.7"/><path d="M1980,501L1988,499L1991,498L1983,500Z" fill="#989898" stroke="#989898" stroke-width="0.7"/><path d="M2063,411L2071,399L2073,419L2065,429Z" fill="#e4e4e4" stroke="#e4e4e4" stroke-width="0.7"/><path d="M2144,497L2152,500L2154,500L2146,497Z" fill="#848484" stroke="#848484" stroke-width="0.7"/><path d="M1961,506L1969,505L1972,503L1964,504Z" fill="#808080" stroke="#808080" stroke-width="0.7"/><path d="M2044,435L2052,413L2055,428L2047,446Z" fill="#d8d8d8" stroke="#d8d8d8" stroke-width="0.7"/><path d="M2126,485L2133,492L2136,493L2128,488Z" fill="#a0a0a0" stroke="#a0a0a0" stroke-width="0.7"/><path d="M1942,508L1950,508L1953,506L1945,506Z" fill="#808080" stroke="#808080" stroke-width="0.7"/><path d="M2025,467L2033,448L2036,456L2028,471Z" fill="#bcbcbc" stroke="#bcbcbc" stroke-width="0.7"/><path d="M2107,459L2115,471L2118,477L2110,468Z" fill="#b0b0b0" stroke="#b0b0b0" stroke-width="0.7"/><path d="M1923,511L1931,511L1934,508L1926,508Z" fill="#808080" stroke="#808080" stroke-width="0.7"/><path d="M2007,488L2015,478L2017,480L2009,489Z" fill="#b0b0b0" stroke="#b0b0b0" stroke-width="0.7"/><path d="M2089,422L2097,433L2099,447L2092,439Z" fill="#d4d4d4" stroke="#d4d4d4" stroke-width="0.7"/><path d="M1988,499L1996,495L1999,494L1991,498Z" fill="#989898" stroke="#989898" stroke-width="0.7"/><path d="M2071,399L2078,395L2081,417L2073,419Z" fill="#e0e0e0" stroke="#e0e0e0" stroke-width="0.7"/><path d="M2152,500L2160,503L2162,502L2154,500Z" fill="#848484" stroke="#848484" stroke-width="0.7"/><path d="M1969,505L1977,503L1980,501L1972,503Z" fill="#989898" stroke="#989898" stroke-width="0.7"/><path d="M2052,413L2060,391L2063,411L2055,428Z" fill="#e4e4e4" stroke="#e4e4e4" stroke-width="0.7"/><path d="M2133,492L2141,497L2144,497L2136,493Z" fill="#989898" stroke="#989898" stroke-width="0.7"/><path d="M1950,508L1958,507L1961,506L1953,506Z" fill="#808080" stroke="#808080" stroke-width="0.7"/><path d="M2033,448L2041,424L2044,435L2036,456Z" fill="#cccccc" stroke="#cccccc" stroke-width="0.7"/><path d="M2115,471L2123,481L2126,485L2118,477Z" fill="#b8b8b8" stroke="#b8b8b8" stroke-width="0.7"/><path d="M1931,511L1939,511L1942,508L1934,508Z" fill="#808080" stroke="#808080" stroke-width="0.7"/><path d="M2015,478L2023,463L2025,467L2017,480Z" fill="#acacac" stroke="#acacac" stroke-width="0.7"/><path d="M2097,433L2105,448L2107,459L2099,447Z" fill="#d8d8d8" stroke="#d8d8d8" stroke-width="0.7"/><path d="M1996,495L2004,488L2007,488L1999,494Z" fill="#9c9c9c" stroke="#9c9c9c" stroke-width="0.7"/><path d="M2078,395L2086,401L2089,422L2081,417Z" fill="#e8e8e8" stroke="#e8e8e8" stroke-width="0.7"/><path d="M2160,503L2167,505L2170,504L2162,502Z" fill="#848484" stroke="#848484" stroke-width="0.7"/><path d="M1977,503L1985,500L1988,499L1980,501Z" fill="#989898" stroke="#989898" stroke-width="0.7"/><path d="M2060,391L2068,376L2071,399L2063,411Z" fill="#e0e0e0" stroke="#e0e0e0" stroke-width="0.7"/><path d="M2141,497L2149,501L2152,500L2144,497Z" fill="#989898" stroke="#989898" stroke-width="0.7"/><path d="M1958,507L1966,506L1969,505L1961,506Z" fill="#808080" stroke="#808080" stroke-width="0.7"/><path d="M2041,424L2049,397L2052,413L2044,435Z" fill="#e4e4e4" stroke="#e4e4e4" stroke-width="0.7"/><path d="M2123,481L2131,490L2133,492L2126,485Z" fill="#a0a0a0" stroke="#a0a0a0" stroke-width="0.7"/><path d="M1939,511L1947,510L1950,508L1942,508Z" fill="#808080" stroke="#808080" stroke-width="0.7"/><path d="M2023,463L2031,441L2033,448L2025,467ZM2105,448L2113,463L2115,471L2107,459Z" fill="#c4c4c4" stroke="#c4c4c4" stroke-width="0.7"/><path d="M2004,488L2012,477L2015,478L2007,488Z" fill="#b0b0b0" stroke="#b0b0b0" stroke-width="0.7"/><path d="M2086,401L2094,416L2097,433L2089,422Z" fill="#e4e4e4" stroke="#e4e4e4" stroke-width="0.7"/><path d="M2167,505L2175,506L2178,505L2170,504Z" fill="#848484" stroke="#848484" stroke-width="0.7"/><path d="M1985,500L1993,495L1996,495L1988,499Z" fill="#989898" stroke="#989898" stroke-width="0.7"/><path d="M2068,376L2076,372L2078,395L2071,399Z" fill="#e8e8e8" stroke="#e8e8e8" stroke-width="0.7"/><path d="M2149,501L2157,504L2160,503L2152,500Z" fill="#848484" stroke="#848484" stroke-width="0.7"/><path d="M1966,506L1974,504L1977,503L1969,505Z" fill="#989898" stroke="#989898" stroke-width="0.7"/><path d="M2049,397L2057,371L2060,391L2052,413Z" fill="#e4e4e4" stroke="#e4e4e4" stroke-width="0.7"/><path d="M2131,490L2139,496L2141,497L2133,492Z" fill="#989898" stroke="#989898" stroke-width="0.7"/><path d="M1947,510L1955,509L1958,507L1950,508Z" fill="#808080" stroke="#808080" stroke-width="0.7"/><path d="M2031,441L2039,413L2041,424L2033,448Z" fill="#d4d4d4" stroke="#d4d4d4" stroke-width="0.7"/><path d="M2113,463L2121,477L2123,481L2115,471Z" fill="#b0b0b0" stroke="#b0b0b0" stroke-width="0.7"/><path d="M2012,477L2020,460L2023,463L2015,478Z" fill="#bcbcbc" stroke="#bcbcbc" stroke-width="0.7"/><path d="M2094,416L2102,434L2105,448L2097,433Z" fill="#e0e0e0" stroke="#e0e0e0" stroke-width="0.7"/><path d="M1993,495L2001,488L2004,488L1996,495Z" fill="#9c9c9c" stroke="#9c9c9c" stroke-width="0.7"/><path d="M2076,372L2084,379L2086,401L2078,395Z" fill="#ececec" stroke="#ececec" stroke-width="0.7"/><path d="M2157,504L2165,506L2167,505L2160,503Z" fill="#848484" stroke="#848484" stroke-width="0.7"/><path d="M1974,504L1982,501L1985,500L1977,503Z" fill="#989898" stroke="#989898" stroke-width="0.7"/><path d="M2057,371L2065,352L2068,376L2060,391Z" fill="#dcdcdc" stroke="#dcdcdc" stroke-width="0.7"/><path d="M2139,496L2147,501L2149,501L2141,497Z" fill="#989898" stroke="#989898" stroke-width="0.7"/><path d="M1955,509L1963,508L1966,506L1958,507Z" fill="#808080" stroke="#808080" stroke-width="0.7"/><path d="M2039,413L2047,381L2049,397L2041,424Z" fill="#dcdcdc" stroke="#dcdcdc" stroke-width="0.7"/><path d="M2121,477L2129,488L2131,490L2123,481Z" fill="#b8b8b8" stroke="#b8b8b8" stroke-width="0.7"/><path d="M1936,513L1944,512L1947,510L1939,511Z" fill="#808080" stroke="#808080" stroke-width="0.7"/><path d="M2020,460L2028,435L2031,441L2023,463Z" fill="#d0d0d0" stroke="#d0d0d0" stroke-width="0.7"/><path d="M2102,434L2110,454L2113,463L2105,448Z" fill="#dcdcdc" stroke="#dcdcdc" stroke-width="0.7"/><path d="M2001,488L2009,476L2012,477L2004,488Z" fill="#b0b0b0" stroke="#b0b0b0" stroke-width="0.7"/><path d="M2084,379L2092,396L2094,416L2086,401Z" fill="#e8e8e8" stroke="#e8e8e8" stroke-width="0.7"/><path d="M2165,506L2173,508L2175,506L2167,505Z" fill="#848484" stroke="#848484" stroke-width="0.7"/><path d="M1982,501L1990,496L1993,495L1985,500Z" fill="#9c9c9c" stroke="#9c9c9c" stroke-width="0.7"/><path d="M2065,352L2073,347L2076,372L2068,376Z" fill="#d4d4d4" stroke="#d4d4d4" stroke-width="0.7"/><path d="M2147,501L2155,504L2157,504L2149,501ZM1963,508L1972,505L1974,504L1966,506Z" fill="#989898" stroke="#989898" stroke-width="0.7"/><path d="M2047,381L2055,350L2057,371L2049,397Z" fill="#d8d8d8" stroke="#d8d8d8" stroke-width="0.7"/><path d="M2129,488L2137,495L2139,496L2131,490Z" fill="#a0a0a0" stroke="#a0a0a0" stroke-width="0.7"/><path d="M1944,512L1952,511L1955,509L1947,510Z" fill="#808080" stroke="#808080" stroke-width="0.7"/><path d="M2028,435L2036,402L2039,413L2031,441Z" fill="#dcdcdc" stroke="#dcdcdc" stroke-width="0.7"/><path d="M2110,454L2118,471L2121,477L2113,463Z" fill="#c4c4c4" stroke="#c4c4c4" stroke-width="0.7"/><path d="M2009,476L2017,457L2020,460L2012,477Z" fill="#bcbcbc" stroke="#bcbcbc" stroke-width="0.7"/><path d="M2092,396L2100,420L2102,434L2094,416Z" fill="#ececec" stroke="#ececec" stroke-width="0.7"/><path d="M2173,508L2181,509L2183,508L2175,506Z" fill="#848484" stroke="#848484" stroke-width="0.7"/><path d="M1990,496L1999,488L2001,488L1993,495Z" fill="#9c9c9c" stroke="#9c9c9c" stroke-width="0.7"/><path d="M2073,347L2081,355L2084,379L2076,372Z" fill="#d8d8d8" stroke="#d8d8d8" stroke-width="0.7"/><path d="M2155,504L2163,507L2165,506L2157,504Z" fill="#848484" stroke="#848484" stroke-width="0.7"/><path d="M1972,505L1980,502L1982,501L1974,504Z" fill="#989898" stroke="#989898" stroke-width="0.7"/><path d="M2055,350L2063,328L2065,352L2057,371Z" fill="#c8c8c8" stroke="#c8c8c8" stroke-width="0.7"/><path d="M2137,495L2144,501L2147,501L2139,496Z" fill="#989898" stroke="#989898" stroke-width="0.7"/><path d="M1952,511L1961,509L1963,508L1955,509Z" fill="#808080" stroke="#808080" stroke-width="0.7"/><path d="M2036,402L2044,366L2047,381L2039,413Z" fill="#e0e0e0" stroke="#e0e0e0" stroke-width="0.7"/><path d="M2118,471L2126,485L2129,488L2121,477Z" fill="#b8b8b8" stroke="#b8b8b8" stroke-width="0.7"/><path d="M1933,514L1942,514L1944,512L1936,513Z" fill="#808080" stroke="#808080" stroke-width="0.7"/><path d="M2017,457L2025,430L2028,435L2020,460Z" fill="#cccccc" stroke="#cccccc" stroke-width="0.7"/><path d="M2100,420L2108,444L2110,454L2102,434Z" fill="#d8d8d8" stroke="#d8d8d8" stroke-width="0.7"/><path d="M1999,488L2007,476L2009,476L2001,488Z" fill="#acacac" stroke="#acacac" stroke-width="0.7"/><path d="M2081,355L2089,376L2092,396L2084,379Z" fill="#e4e4e4" stroke="#e4e4e4" stroke-width="0.7"/><path d="M2163,507L2171,509L2173,508L2165,506Z" fill="#848484" stroke="#848484" stroke-width="0.7"/><path d="M1980,502L1988,497L1990,496L1982,501Z" fill="#9c9c9c" stroke="#9c9c9c" stroke-width="0.7"/><path d="M2063,328L2071,321L2073,347L2065,352Z" fill="#c8c8c8" stroke="#c8c8c8" stroke-width="0.7"/><path d="M2144,501L2152,505L2155,504L2147,501ZM1961,509L1969,507L1972,505L1963,508Z" fill="#989898" stroke="#989898" stroke-width="0.7"/><path d="M2044,366L2052,331L2055,350L2047,381Z" fill="#d4d4d4" stroke="#d4d4d4" stroke-width="0.7"/><path d="M2126,485L2134,494L2137,495L2129,488Z" fill="#a0a0a0" stroke="#a0a0a0" stroke-width="0.7"/><path d="M1942,514L1950,512L1952,511L1944,512Z" fill="#808080" stroke="#808080" stroke-width="0.7"/><path d="M2025,430L2033,394L2036,402L2028,435Z" fill="#e0e0e0" stroke="#e0e0e0" stroke-width="0.7"/><path d="M2108,444L2116,465L2118,471L2110,454Z" fill="#cccccc" stroke="#cccccc" stroke-width="0.7"/><path d="M2007,476L2015,455L2017,457L2009,476Z" fill="#bcbcbc" stroke="#bcbcbc" stroke-width="0.7"/><path d="M2089,376L2097,404L2100,420L2092,396Z" fill="#ececec" stroke="#ececec" stroke-width="0.7"/><path d="M2171,509L2178,511L2181,509L2173,508Z" fill="#848484" stroke="#848484" stroke-width="0.7"/><path d="M1988,497L1996,489L1999,488L1990,496Z" fill="#9c9c9c" stroke="#9c9c9c" stroke-width="0.7"/><path d="M2071,321L2079,331L2081,355L2073,347Z" fill="#cccccc" stroke="#cccccc" stroke-width="0.7"/><path d="M2152,505L2160,508L2163,507L2155,504Z" fill="#848484" stroke="#848484" stroke-width="0.7"/><path d="M1969,507L1977,504L1980,502L1972,505Z" fill="#989898" stroke="#989898" stroke-width="0.7"/><path d="M2052,331L2060,306L2063,328L2055,350Z" fill="#b8b8b8" stroke="#b8b8b8" stroke-width="0.7"/><path d="M2134,494L2142,501L2144,501L2137,495Z" fill="#9c9c9c" stroke="#9c9c9c" stroke-width="0.7"/><path d="M1950,512L1958,511L1961,509L1952,511Z" fill="#808080" stroke="#808080" stroke-width="0.7"/><path d="M2033,394L2041,353L2044,366L2036,402Z" fill="#d4d4d4" stroke="#d4d4d4" stroke-width="0.7"/><path d="M2116,465L2124,481L2126,485L2118,471Z" fill="#b0b0b0" stroke="#b0b0b0" stroke-width="0.7"/><path d="M1931,516L1939,515L1942,514L1933,514Z" fill="#808080" stroke="#808080" stroke-width="0.7"/><path d="M2015,455L2023,426L2025,430L2017,457Z" fill="#c8c8c8" stroke="#c8c8c8" stroke-width="0.7"/><path d="M2097,404L2105,433L2108,444L2100,420Z" fill="#e8e8e8" stroke="#e8e8e8" stroke-width="0.7"/><path d="M1996,489L2004,476L2007,476L1999,488Z" fill="#acacac" stroke="#acacac" stroke-width="0.7"/><path d="M2079,331L2087,356L2089,376L2081,355Z" fill="#d4d4d4" stroke="#d4d4d4" stroke-width="0.7"/><path d="M2160,508L2168,510L2171,509L2163,507Z" fill="#848484" stroke="#848484" stroke-width="0.7"/><path d="M1977,504L1985,499L1988,497L1980,502Z" fill="#9c9c9c" stroke="#9c9c9c" stroke-width="0.7"/><path d="M2060,306L2068,298L2071,321L2063,328Z" fill="#a8a8a8" stroke="#a8a8a8" stroke-width="0.7"/><path d="M2142,501L2150,506L2152,505L2144,501ZM1958,511L1966,509L1969,507L1961,509Z" fill="#989898" stroke="#989898" stroke-width="0.7"/><path d="M2041,353L2050,314L2052,331L2044,366Z" fill="#c0c0c0" stroke="#c0c0c0" stroke-width="0.7"/><path d="M2124,481L2132,493L2134,494L2126,485Z" fill="#b8b8b8" stroke="#b8b8b8" stroke-width="0.7"/><path d="M1939,515L1947,514L1950,512L1942,514Z" fill="#808080" stroke="#808080" stroke-width="0.7"/><path d="M2023,426L2031,387L2033,394L2025,430Z" fill="#d8d8d8" stroke="#d8d8d8" stroke-width="0.7"/><path d="M2105,433L2113,458L2116,465L2108,444Z" fill="#dcdcdc" stroke="#dcdcdc" stroke-width="0.7"/><path d="M2004,476L2012,455L2015,455L2007,476Z" fill="#c0c0c0" stroke="#c0c0c0" stroke-width="0.7"/><path d="M2087,356L2095,388L2097,404L2089,376Z" fill="#ececec" stroke="#ececec" stroke-width="0.7"/><path d="M2168,510L2176,512L2178,511L2171,509Z" fill="#848484" stroke="#848484" stroke-width="0.7"/><path d="M1985,499L1993,491L1996,489L1988,497Z" fill="#9c9c9c" stroke="#9c9c9c" stroke-width="0.7"/><path d="M2068,298L2076,309L2079,331L2071,321Z" fill="#acacac" stroke="#acacac" stroke-width="0.7"/><path d="M2150,506L2158,509L2160,508L2152,505ZM1966,509L1974,505L1977,504L1969,507Z" fill="#989898" stroke="#989898" stroke-width="0.7"/><path d="M2050,314L2058,287L2060,306L2052,331Z" fill="#9c9c9c" stroke="#9c9c9c" stroke-width="0.7"/><path d="M2132,493L2140,501L2142,501L2134,494Z" fill="#a0a0a0" stroke="#a0a0a0" stroke-width="0.7"/><path d="M1947,514L1955,513L1958,511L1950,512Z" fill="#808080" stroke="#808080" stroke-width="0.7"/><path d="M2031,387L2039,344L2041,353L2033,394Z" fill="#cccccc" stroke="#cccccc" stroke-width="0.7"/><path d="M2113,458L2121,478L2124,481L2116,465Z" fill="#c4c4c4" stroke="#c4c4c4" stroke-width="0.7"/><path d="M1928,518L1936,517L1939,515L1931,516Z" fill="#808080" stroke="#808080" stroke-width="0.7"/><path d="M2012,455L2020,424L2023,426L2015,455Z" fill="#d4d4d4" stroke="#d4d4d4" stroke-width="0.7"/><path d="M2095,388L2103,422L2105,433L2097,404Z" fill="#ececec" stroke="#ececec" stroke-width="0.7"/><path d="M1993,491L2001,477L2004,476L1996,489Z" fill="#acacac" stroke="#acacac" stroke-width="0.7"/><path d="M2076,309L2084,337L2087,356L2079,331Z" fill="#bcbcbc" stroke="#bcbcbc" stroke-width="0.7"/><path d="M2158,509L2166,511L2168,510L2160,508Z" fill="#848484" stroke="#848484" stroke-width="0.7"/><path d="M1974,505L1982,500L1985,499L1977,504Z" fill="#9c9c9c" stroke="#9c9c9c" stroke-width="0.7"/><path d="M2058,287L2066,278L2068,298L2060,306Z" fill="#909090" stroke="#909090" stroke-width="0.7"/><path d="M2140,501L2148,506L2150,506L2142,501ZM1955,513L1963,510L1966,509L1958,511Z" fill="#989898" stroke="#989898" stroke-width="0.7"/><path d="M2039,344L2047,302L2050,314L2041,353Z" fill="#b4b4b4" stroke="#b4b4b4" stroke-width="0.7"/><path d="M2121,478L2129,492L2132,493L2124,481Z" fill="#b8b8b8" stroke="#b8b8b8" stroke-width="0.7"/><path d="M1936,517L1944,516L1947,514L1939,515Z" fill="#808080" stroke="#808080" stroke-width="0.7"/><path d="M2020,424L2028,384L2031,387L2023,426Z" fill="#d8d8d8" stroke="#d8d8d8" stroke-width="0.7"/><path d="M2103,422L2111,452L2113,458L2105,433Z" fill="#e4e4e4" stroke="#e4e4e4" stroke-width="0.7"/><path d="M2001,477L2009,456L2012,455L2004,476Z" fill="#c0c0c0" stroke="#c0c0c0" stroke-width="0.7"/><path d="M2084,337L2092,374L2095,388L2087,356Z" fill="#e4e4e4" stroke="#e4e4e4" stroke-width="0.7"/><path d="M2166,511L2174,513L2176,512L2168,510Z" fill="#848484" stroke="#848484" stroke-width="0.7"/><path d="M1982,500L1990,492L1993,491L1985,499Z" fill="#9c9c9c" stroke="#9c9c9c" stroke-width="0.7"/><path d="M2066,278L2074,290L2076,309L2068,298Z" fill="#949494" stroke="#949494" stroke-width="0.7"/><path d="M2148,506L2156,510L2158,509L2150,506ZM1963,510L1971,507L1974,505L1966,509Z" fill="#989898" stroke="#989898" stroke-width="0.7"/><path d="M2047,302L2055,272L2058,287L2050,314Z" fill="#8c8c8c" stroke="#8c8c8c" stroke-width="0.7"/><path d="M2129,492L2137,501L2140,501L2132,493Z" fill="#a0a0a0" stroke="#a0a0a0" stroke-width="0.7"/><path d="M1944,516L1952,514L1955,513L1947,514Z" fill="#808080" stroke="#808080" stroke-width="0.7"/><path d="M2028,384L2036,339L2039,344L2031,387Z" fill="#d0d0d0" stroke="#d0d0d0" stroke-width="0.7"/><path d="M2111,452L2119,475L2121,478L2113,458Z" fill="#cccccc" stroke="#cccccc" stroke-width="0.7"/><path d="M1925,520L1933,519L1936,517L1928,518Z" fill="#808080" stroke="#808080" stroke-width="0.7"/><path d="M2009,456L2017,425L2020,424L2012,455Z" fill="#d4d4d4" stroke="#d4d4d4" stroke-width="0.7"/><path d="M2092,374L2100,412L2103,422L2095,388Z" fill="#ececec" stroke="#ececec" stroke-width="0.7"/><path d="M2174,513L2182,515L2184,514L2176,512Z" fill="#848484" stroke="#848484" stroke-width="0.7"/><path d="M1990,492L1998,479L2001,477L1993,491Z" fill="#acacac" stroke="#acacac" stroke-width="0.7"/><path d="M2074,290L2082,321L2084,337L2076,309Z" fill="#a8a8a8" stroke="#a8a8a8" stroke-width="0.7"/><path d="M2156,510L2164,513L2166,511L2158,509Z" fill="#848484" stroke="#848484" stroke-width="0.7"/><path d="M1971,507L1979,502L1982,500L1974,505Z" fill="#9c9c9c" stroke="#9c9c9c" stroke-width="0.7"/><path d="M2055,272L2063,263L2066,278L2058,287Z" fill="#808080" stroke="#808080" stroke-width="0.7"/><path d="M2137,501L2145,507L2148,506L2140,501ZM1952,514L1960,512L1963,510L1955,513Z" fill="#989898" stroke="#989898" stroke-width="0.7"/><path d="M2036,339L2044,295L2047,302L2039,344Z" fill="#9c9c9c" stroke="#9c9c9c" stroke-width="0.7"/><path d="M2119,475L2127,490L2129,492L2121,478Z" fill="#b0b0b0" stroke="#b0b0b0" stroke-width="0.7"/><path d="M1933,519L1941,518L1944,516L1936,517Z" fill="#808080" stroke="#808080" stroke-width="0.7"/><path d="M2017,425L2025,385L2028,384L2020,424Z" fill="#d8d8d8" stroke="#d8d8d8" stroke-width="0.7"/><path d="M2100,412L2108,446L2111,452L2103,422Z" fill="#e8e8e8" stroke="#e8e8e8" stroke-width="0.7"/><path d="M1998,479L2007,459L2009,456L2001,477Z" fill="#c0c0c0" stroke="#c0c0c0" stroke-width="0.7"/><path d="M2082,321L2090,362L2092,374L2084,337Z" fill="#d4d4d4" stroke="#d4d4d4" stroke-width="0.7"/><path d="M2164,513L2171,515L2174,513L2166,511Z" fill="#848484" stroke="#848484" stroke-width="0.7"/><path d="M1979,502L1988,495L1990,492L1982,500Z" fill="#9c9c9c" stroke="#9c9c9c" stroke-width="0.7"/><path d="M2063,263L2071,276L2074,290L2066,278Z" fill="#848484" stroke="#848484" stroke-width="0.7"/><path d="M2145,507L2153,511L2156,510L2148,506ZM1960,512L1969,509L1971,507L1963,510Z" fill="#989898" stroke="#989898" stroke-width="0.7"/><path d="M2044,295L2052,264L2055,272L2047,302Z" fill="#7c7c7c" stroke="#7c7c7c" stroke-width="0.7"/><path d="M2127,490L2135,501L2137,501L2129,492Z" fill="#a0a0a0" stroke="#a0a0a0" stroke-width="0.7"/><path d="M1941,518L1949,516L1952,514L1944,516Z" fill="#808080" stroke="#808080" stroke-width="0.7"/><path d="M2025,385L2034,338L2036,339L2028,384Z" fill="#d0d0d0" stroke="#d0d0d0" stroke-width="0.7"/><path d="M2108,446L2116,472L2119,475L2111,452Z" fill="#cccccc" stroke="#cccccc" stroke-width="0.7"/><path d="M1922,521L1930,521L1933,519L1925,520Z" fill="#808080" stroke="#808080" stroke-width="0.7"/><path d="M2007,459L2015,428L2017,425L2009,456Z" fill="#d4d4d4" stroke="#d4d4d4" stroke-width="0.7"/><path d="M2090,362L2098,404L2100,412L2092,374Z" fill="#ececec" stroke="#ececec" stroke-width="0.7"/><path d="M2171,515L2179,517L2182,515L2174,513Z" fill="#848484" stroke="#848484" stroke-width="0.7"/><path d="M1988,495L1996,482L1998,479L1990,492Z" fill="#acacac" stroke="#acacac" stroke-width="0.7"/><path d="M2071,276L2079,309L2082,321L2074,290Z" fill="#989898" stroke="#989898" stroke-width="0.7"/><path d="M2153,511L2161,514L2164,513L2156,510Z" fill="#848484" stroke="#848484" stroke-width="0.7"/><path d="M1969,509L1977,505L1979,502L1971,507Z" fill="#9c9c9c" stroke="#9c9c9c" stroke-width="0.7"/><path d="M2052,264L2060,254L2063,263L2055,272Z" fill="#848484" stroke="#848484" stroke-width="0.7"/><path d="M2135,501L2143,507L2145,507L2137,501Z" fill="#9c9c9c" stroke="#9c9c9c" stroke-width="0.7"/><path d="M1949,516L1958,514L1960,512L1952,514ZM2034,338L2042,295L2044,295L2036,339Z" fill="#989898" stroke="#989898" stroke-width="0.7"/><path d="M2116,472L2124,489L2127,490L2119,475Z" fill="#b4b4b4" stroke="#b4b4b4" stroke-width="0.7"/><path d="M1930,521L1938,520L1941,518L1933,519Z" fill="#808080" stroke="#808080" stroke-width="0.7"/><path d="M2015,428L2023,388L2025,385L2017,425Z" fill="#d8d8d8" stroke="#d8d8d8" stroke-width="0.7"/><path d="M2098,404L2106,441L2108,446L2100,412Z" fill="#ececec" stroke="#ececec" stroke-width="0.7"/><path d="M1996,482L2004,462L2007,459L1998,479Z" fill="#c4c4c4" stroke="#c4c4c4" stroke-width="0.7"/><path d="M2079,309L2087,353L2090,362L2082,321Z" fill="#c0c0c0" stroke="#c0c0c0" stroke-width="0.7"/><path d="M2161,514L2169,516L2171,515L2164,513Z" fill="#848484" stroke="#848484" stroke-width="0.7"/><path d="M1977,505L1985,498L1988,495L1979,502Z" fill="#9c9c9c" stroke="#9c9c9c" stroke-width="0.7"/><path d="M2060,254L2069,268L2071,276L2063,263Z" fill="#8c8c8c" stroke="#8c8c8c" stroke-width="0.7"/><path d="M2143,507L2151,512L2153,511L2145,507ZM1958,514L1966,512L1969,509L1960,512Z" fill="#989898" stroke="#989898" stroke-width="0.7"/><path d="M2042,295L2050,264L2052,264L2044,295Z" fill="#7c7c7c" stroke="#7c7c7c" stroke-width="0.7"/><path d="M2124,489L2132,501L2135,501L2127,490Z" fill="#b8b8b8" stroke="#b8b8b8" stroke-width="0.7"/><path d="M1938,520L1947,518L1949,516L1941,518Z" fill="#808080" stroke="#808080" stroke-width="0.7"/><path d="M2023,388L2031,343L2034,338L2025,385Z" fill="#d0d0d0" stroke="#d0d0d0" stroke-width="0.7"/><path d="M2106,441L2114,469L2116,472L2108,446Z" fill="#dcdcdc" stroke="#dcdcdc" stroke-width="0.7"/><path d="M1919,523L1927,523L1930,521L1922,521Z" fill="#808080" stroke="#808080" stroke-width="0.7"/><path d="M2004,462L2012,434L2015,428L2007,459Z" fill="#d4d4d4" stroke="#d4d4d4" stroke-width="0.7"/><path d="M2087,353L2095,398L2098,404L2090,362Z" fill="#ececec" stroke="#ececec" stroke-width="0.7"/><path d="M2169,516L2177,518L2179,517L2171,515Z" fill="#848484" stroke="#848484" stroke-width="0.7"/><path d="M1985,498L1993,486L1996,482L1988,495Z" fill="#acacac" stroke="#acacac" stroke-width="0.7"/><path d="M2069,268L2077,302L2079,309L2071,276Z" fill="#909090" stroke="#909090" stroke-width="0.7"/><path d="M2151,512L2159,515L2161,514L2153,511Z" fill="#848484" stroke="#848484" stroke-width="0.7"/><path d="M1966,512L1974,507L1977,505L1969,509Z" fill="#9c9c9c" stroke="#9c9c9c" stroke-width="0.7"/><path d="M2050,264L2058,253L2060,254L2052,264Z" fill="#848484" stroke="#848484" stroke-width="0.7"/><path d="M2132,501L2140,508L2143,507L2135,501Z" fill="#a0a0a0" stroke="#a0a0a0" stroke-width="0.7"/><path d="M1947,518L1955,517L1958,514L1949,516ZM2031,343L2039,301L2042,295L2034,338Z" fill="#989898" stroke="#989898" stroke-width="0.7"/><path d="M2114,469L2122,489L2124,489L2116,472Z" fill="#c4c4c4" stroke="#c4c4c4" stroke-width="0.7"/><path d="M1927,523L1936,522L1938,520L1930,521Z" fill="#808080" stroke="#808080" stroke-width="0.7"/><path d="M2012,434L2020,396L2023,388L2015,428Z" fill="#d8d8d8" stroke="#d8d8d8" stroke-width="0.7"/><path d="M2095,398L2103,438L2106,441L2098,404Z" fill="#ececec" stroke="#ececec" stroke-width="0.7"/><path d="M1993,486L2001,467L2004,462L1996,482Z" fill="#bcbcbc" stroke="#bcbcbc" stroke-width="0.7"/><path d="M2077,302L2085,348L2087,353L2079,309Z" fill="#b4b4b4" stroke="#b4b4b4" stroke-width="0.7"/><path d="M2159,515L2167,518L2169,516L2161,514Z" fill="#848484" stroke="#848484" stroke-width="0.7"/><path d="M1974,507L1982,501L1985,498L1977,505Z" fill="#9c9c9c" stroke="#9c9c9c" stroke-width="0.7"/><path d="M2058,253L2066,267L2069,268L2060,254Z" fill="#8c8c8c" stroke="#8c8c8c" stroke-width="0.7"/><path d="M2140,508L2148,513L2151,512L2143,507ZM1955,517L1963,514L1966,512L1958,514Z" fill="#989898" stroke="#989898" stroke-width="0.7"/><path d="M2039,301L2047,270L2050,264L2042,295Z" fill="#7c7c7c" stroke="#7c7c7c" stroke-width="0.7"/><path d="M2122,489L2130,501L2132,501L2124,489Z" fill="#b8b8b8" stroke="#b8b8b8" stroke-width="0.7"/><path d="M1936,522L1944,521L1947,518L1938,520Z" fill="#808080" stroke="#808080" stroke-width="0.7"/><path d="M2020,396L2028,353L2031,343L2023,388Z" fill="#d0d0d0" stroke="#d0d0d0" stroke-width="0.7"/><path d="M2103,438L2111,468L2114,469L2106,441Z" fill="#d8d8d8" stroke="#d8d8d8" stroke-width="0.7"/><path d="M1916,525L1924,525L1927,523L1919,523Z" fill="#808080" stroke="#808080" stroke-width="0.7"/><path d="M2001,467L2009,441L2012,434L2004,462Z" fill="#c8c8c8" stroke="#c8c8c8" stroke-width="0.7"/><path d="M2085,348L2093,395L2095,398L2087,353Z" fill="#e0e0e0" stroke="#e0e0e0" stroke-width="0.7"/><path d="M2167,518L2175,520L2177,518L2169,516Z" fill="#848484" stroke="#848484" stroke-width="0.7"/><path d="M1982,501L1990,490L1993,486L1985,498Z" fill="#b0b0b0" stroke="#b0b0b0" stroke-width="0.7"/><path d="M2066,267L2074,302L2077,302L2069,268Z" fill="#8c8c8c" stroke="#8c8c8c" stroke-width="0.7"/><path d="M2148,513L2156,516L2159,515L2151,512ZM1963,514L1971,510L1974,507L1966,512Z" fill="#989898" stroke="#989898" stroke-width="0.7"/><path d="M2047,270L2055,260L2058,253L2050,264Z" fill="#848484" stroke="#848484" stroke-width="0.7"/><path d="M2130,501L2138,509L2140,508L2132,501Z" fill="#a0a0a0" stroke="#a0a0a0" stroke-width="0.7"/><path d="M1944,521L1952,519L1955,517L1947,518Z" fill="#989898" stroke="#989898" stroke-width="0.7"/><path d="M2028,353L2036,312L2039,301L2031,343Z" fill="#9c9c9c" stroke="#9c9c9c" stroke-width="0.7"/><path d="M2111,468L2120,488L2122,489L2114,469Z" fill="#c8c8c8" stroke="#c8c8c8" stroke-width="0.7"/><path d="M1924,525L1933,524L1936,522L1927,523Z" fill="#808080" stroke="#808080" stroke-width="0.7"/><path d="M2009,441L2018,406L2020,396L2012,434Z" fill="#d8d8d8" stroke="#d8d8d8" stroke-width="0.7"/><path d="M2093,395L2101,436L2103,438L2095,398Z" fill="#ececec" stroke="#ececec" stroke-width="0.7"/><path d="M1990,490L1998,474L2001,467L1993,486Z" fill="#bcbcbc" stroke="#bcbcbc" stroke-width="0.7"/><path d="M2074,302L2082,348L2085,348L2077,302Z" fill="#b4b4b4" stroke="#b4b4b4" stroke-width="0.7"/><path d="M2156,516L2165,519L2167,518L2159,515Z" fill="#848484" stroke="#848484" stroke-width="0.7"/><path d="M1971,510L1979,504L1982,501L1974,507Z" fill="#9c9c9c" stroke="#9c9c9c" stroke-width="0.7"/><path d="M2055,260L2063,274L2066,267L2058,253Z" fill="#8c8c8c" stroke="#8c8c8c" stroke-width="0.7"/><path d="M2138,509L2146,514L2148,513L2140,508ZM1952,519L1960,516L1963,514L1955,517Z" fill="#989898" stroke="#989898" stroke-width="0.7"/><path d="M2036,312L2045,283L2047,270L2039,301Z" fill="#808080" stroke="#808080" stroke-width="0.7"/><path d="M2120,488L2128,502L2130,501L2122,489Z" fill="#b8b8b8" stroke="#b8b8b8" stroke-width="0.7"/><path d="M1933,524L1941,523L1944,521L1936,522Z" fill="#808080" stroke="#808080" stroke-width="0.7"/><path d="M2018,406L2026,366L2028,353L2020,396Z" fill="#cccccc" stroke="#cccccc" stroke-width="0.7"/><path d="M2101,436L2109,468L2111,468L2103,438Z" fill="#d8d8d8" stroke="#d8d8d8" stroke-width="0.7"/><path d="M1998,474L2007,450L2009,441L2001,467Z" fill="#cccccc" stroke="#cccccc" stroke-width="0.7"/><path d="M2082,348L2090,396L2093,395L2085,348Z" fill="#e8e8e8" stroke="#e8e8e8" stroke-width="0.7"/><path d="M2165,519L2173,521L2175,520L2167,518Z" fill="#848484" stroke="#848484" stroke-width="0.7"/><path d="M1979,504L1988,495L1990,490L1982,501Z" fill="#b0b0b0" stroke="#b0b0b0" stroke-width="0.7"/><path d="M2063,274L2072,308L2074,302L2066,267Z" fill="#8c8c8c" stroke="#8c8c8c" stroke-width="0.7"/><path d="M2146,514L2154,518L2156,516L2148,513ZM1960,516L1968,513L1971,510L1963,514Z" fill="#989898" stroke="#989898" stroke-width="0.7"/><path d="M2045,283L2053,274L2055,260L2047,270Z" fill="#848484" stroke="#848484" stroke-width="0.7"/><path d="M2128,502L2136,510L2138,509L2130,501Z" fill="#a0a0a0" stroke="#a0a0a0" stroke-width="0.7"/><path d="M1941,523L1949,521L1952,519L1944,521Z" fill="#808080" stroke="#808080" stroke-width="0.7"/><path d="M2026,366L2034,329L2036,312L2028,353Z" fill="#b4b4b4" stroke="#b4b4b4" stroke-width="0.7"/><path d="M2109,468L2117,489L2120,488L2111,468Z" fill="#c8c8c8" stroke="#c8c8c8" stroke-width="0.7"/><path d="M1922,526L1930,526L1933,524L1924,525Z" fill="#808080" stroke="#808080" stroke-width="0.7"/><path d="M2007,450L2015,418L2018,406L2009,441Z" fill="#e0e0e0" stroke="#e0e0e0" stroke-width="0.7"/><path d="M2090,396L2098,437L2101,436L2093,395Z" fill="#ececec" stroke="#ececec" stroke-width="0.7"/><path d="M2173,521L2181,523L2183,521L2175,520Z" fill="#848484" stroke="#848484" stroke-width="0.7"/><path d="M1988,495L1996,480L1998,474L1990,490Z" fill="#bcbcbc" stroke="#bcbcbc" stroke-width="0.7"/><path d="M2072,308L2080,353L2082,348L2074,302Z" fill="#b4b4b4" stroke="#b4b4b4" stroke-width="0.7"/><path d="M2154,518L2162,521L2165,519L2156,516Z" fill="#848484" stroke="#848484" stroke-width="0.7"/><path d="M1968,513L1977,508L1979,504L1971,510Z" fill="#9c9c9c" stroke="#9c9c9c" stroke-width="0.7"/><path d="M2053,274L2061,287L2063,274L2055,260Z" fill="#848484" stroke="#848484" stroke-width="0.7"/><path d="M2136,510L2144,516L2146,514L2138,509ZM1949,521L1957,519L1960,516L1952,519Z" fill="#989898" stroke="#989898" stroke-width="0.7"/><path d="M2034,329L2042,303L2045,283L2036,312Z" fill="#8c8c8c" stroke="#8c8c8c" stroke-width="0.7"/><path d="M2117,489L2125,503L2128,502L2120,488Z" fill="#b8b8b8" stroke="#b8b8b8" stroke-width="0.7"/><path d="M1930,526L1938,525L1941,523L1933,524Z" fill="#808080" stroke="#808080" stroke-width="0.7"/><path d="M2015,418L2023,383L2026,366L2018,406Z" fill="#dcdcdc" stroke="#dcdcdc" stroke-width="0.7"/><path d="M2098,437L2107,469L2109,468L2101,436Z" fill="#d8d8d8" stroke="#d8d8d8" stroke-width="0.7"/><path d="M1996,480L2004,459L2007,450L1998,474Z" fill="#d0d0d0" stroke="#d0d0d0" stroke-width="0.7"/><path d="M2080,353L2088,400L2090,396L2082,348Z" fill="#e8e8e8" stroke="#e8e8e8" stroke-width="0.7"/><path d="M2162,521L2170,523L2173,521L2165,519Z" fill="#848484" stroke="#848484" stroke-width="0.7"/><path d="M1977,508L1985,500L1988,495L1979,504Z" fill="#b0b0b0" stroke="#b0b0b0" stroke-width="0.7"/><path d="M2061,287L2069,319L2072,308L2063,274Z" fill="#909090" stroke="#909090" stroke-width="0.7"/><path d="M2144,516L2152,519L2154,518L2146,514ZM1957,519L1966,516L1968,513L1960,516Z" fill="#989898" stroke="#989898" stroke-width="0.7"/><path d="M2042,303L2050,294L2053,274L2045,283Z" fill="#808080" stroke="#808080" stroke-width="0.7"/><path d="M2125,503L2133,511L2136,510L2128,502Z" fill="#a0a0a0" stroke="#a0a0a0" stroke-width="0.7"/><path d="M1938,525L1946,524L1949,521L1941,523Z" fill="#808080" stroke="#808080" stroke-width="0.7"/><path d="M2023,383L2031,350L2034,329L2026,366Z" fill="#c0c0c0" stroke="#c0c0c0" stroke-width="0.7"/><path d="M2107,469L2115,490L2117,489L2109,468Z" fill="#c8c8c8" stroke="#c8c8c8" stroke-width="0.7"/><path d="M1919,528L1927,528L1930,526L1922,526Z" fill="#808080" stroke="#808080" stroke-width="0.7"/><path d="M2004,459L2012,432L2015,418L2007,450Z" fill="#dcdcdc" stroke="#dcdcdc" stroke-width="0.7"/><path d="M2088,400L2096,440L2098,437L2090,396Z" fill="#ececec" stroke="#ececec" stroke-width="0.7"/><path d="M2170,523L2178,525L2181,523L2173,521Z" fill="#848484" stroke="#848484" stroke-width="0.7"/><path d="M1985,500L1993,487L1996,480L1988,495Z" fill="#acacac" stroke="#acacac" stroke-width="0.7"/><path d="M2069,319L2077,362L2080,353L2072,308Z" fill="#c8c8c8" stroke="#c8c8c8" stroke-width="0.7"/><path d="M2152,519L2160,522L2162,521L2154,518Z" fill="#848484" stroke="#848484" stroke-width="0.7"/><path d="M1966,516L1974,512L1977,508L1968,513Z" fill="#9c9c9c" stroke="#9c9c9c" stroke-width="0.7"/><path d="M2050,294L2058,306L2061,287L2053,274Z" fill="#848484" stroke="#848484" stroke-width="0.7"/><path d="M2133,511L2141,517L2144,516L2136,510ZM1946,524L1955,522L1957,519L1949,521Z" fill="#989898" stroke="#989898" stroke-width="0.7"/><path d="M2031,350L2039,326L2042,303L2034,329Z" fill="#a0a0a0" stroke="#a0a0a0" stroke-width="0.7"/><path d="M2115,490L2123,504L2125,503L2117,489Z" fill="#b8b8b8" stroke="#b8b8b8" stroke-width="0.7"/><path d="M1927,528L1935,527L1938,525L1930,526Z" fill="#808080" stroke="#808080" stroke-width="0.7"/><path d="M2012,432L2020,402L2023,383L2015,418Z" fill="#e0e0e0" stroke="#e0e0e0" stroke-width="0.7"/><path d="M2096,440L2104,471L2107,469L2098,437Z" fill="#d8d8d8" stroke="#d8d8d8" stroke-width="0.7"/><path d="M1993,487L2001,470L2004,459L1996,480Z" fill="#c4c4c4" stroke="#c4c4c4" stroke-width="0.7"/><path d="M2077,362L2085,407L2088,400L2080,353Z" fill="#e0e0e0" stroke="#e0e0e0" stroke-width="0.7"/><path d="M2160,522L2168,524L2170,523L2162,521Z" fill="#848484" stroke="#848484" stroke-width="0.7"/><path d="M1974,512L1982,505L1985,500L1977,508Z" fill="#b4b4b4" stroke="#b4b4b4" stroke-width="0.7"/><path d="M2058,306L2067,336L2069,319L2061,287Z" fill="#949494" stroke="#949494" stroke-width="0.7"/><path d="M2141,517L2149,521L2152,519L2144,516ZM1955,522L1963,519L1966,516L1957,519Z" fill="#989898" stroke="#989898" stroke-width="0.7"/><path d="M2039,326L2048,319L2050,294L2042,303Z" fill="#888888" stroke="#888888" stroke-width="0.7"/><path d="M2123,504L2131,513L2133,511L2125,503Z" fill="#a0a0a0" stroke="#a0a0a0" stroke-width="0.7"/><path d="M1935,527L1944,526L1946,524L1938,525Z" fill="#808080" stroke="#808080" stroke-width="0.7"/><path d="M2020,402L2029,373L2031,350L2023,383Z" fill="#d4d4d4" stroke="#d4d4d4" stroke-width="0.7"/><path d="M2104,471L2112,493L2115,490L2107,469Z" fill="#c8c8c8" stroke="#c8c8c8" stroke-width="0.7"/><path d="M1916,530L1924,530L1927,528L1919,528Z" fill="#808080" stroke="#808080" stroke-width="0.7"/><path d="M2001,470L2010,447L2012,432L2004,459Z" fill="#d4d4d4" stroke="#d4d4d4" stroke-width="0.7"/><path d="M2085,407L2094,445L2096,440L2088,400Z" fill="#ececec" stroke="#ececec" stroke-width="0.7"/><path d="M2168,524L2176,526L2178,525L2170,523Z" fill="#848484" stroke="#848484" stroke-width="0.7"/><path d="M1982,505L1990,494L1993,487L1985,500Z" fill="#acacac" stroke="#acacac" stroke-width="0.7"/><path d="M2067,336L2075,375L2077,362L2069,319Z" fill="#c0c0c0" stroke="#c0c0c0" stroke-width="0.7"/><path d="M2149,521L2158,524L2160,522L2152,519Z" fill="#848484" stroke="#848484" stroke-width="0.7"/><path d="M1963,519L1971,515L1974,512L1966,516Z" fill="#9c9c9c" stroke="#9c9c9c" stroke-width="0.7"/><path d="M2048,319L2056,330L2058,306L2050,294Z" fill="#909090" stroke="#909090" stroke-width="0.7"/><path d="M2131,513L2139,519L2141,517L2133,511ZM1944,526L1952,524L1955,522L1946,524Z" fill="#989898" stroke="#989898" stroke-width="0.7"/><path d="M2029,373L2037,352L2039,326L2031,350Z" fill="#b0b0b0" stroke="#b0b0b0" stroke-width="0.7"/><path d="M2112,493L2120,506L2123,504L2115,490Z" fill="#b8b8b8" stroke="#b8b8b8" stroke-width="0.7"/><path d="M1924,530L1932,529L1935,527L1927,528Z" fill="#808080" stroke="#808080" stroke-width="0.7"/><path d="M2010,447L2018,421L2020,402L2012,432Z" fill="#dcdcdc" stroke="#dcdcdc" stroke-width="0.7"/><path d="M2094,445L2102,475L2104,471L2096,440Z" fill="#d8d8d8" stroke="#d8d8d8" stroke-width="0.7"/><path d="M1990,494L1999,480L2001,470L1993,487Z" fill="#bcbcbc" stroke="#bcbcbc" stroke-width="0.7"/><path d="M2075,375L2083,417L2085,407L2077,362Z" fill="#ececec" stroke="#ececec" stroke-width="0.7"/><path d="M2158,524L2166,526L2168,524L2160,522Z" fill="#848484" stroke="#848484" stroke-width="0.7"/><path d="M1971,515L1979,510L1982,505L1974,512Z" fill="#9c9c9c" stroke="#9c9c9c" stroke-width="0.7"/><path d="M2056,330L2064,356L2067,336L2058,306Z" fill="#b0b0b0" stroke="#b0b0b0" stroke-width="0.7"/><path d="M2139,519L2147,523L2149,521L2141,517ZM1952,524L1960,522L1963,519L1955,522Z" fill="#989898" stroke="#989898" stroke-width="0.7"/><path d="M2037,352L2045,346L2048,319L2039,326Z" fill="#a8a8a8" stroke="#a8a8a8" stroke-width="0.7"/><path d="M2120,506L2129,515L2131,513L2123,504Z" fill="#a0a0a0" stroke="#a0a0a0" stroke-width="0.7"/><path d="M1932,529L1941,528L1944,526L1935,527Z" fill="#808080" stroke="#808080" stroke-width="0.7"/><path d="M2018,421L2026,397L2029,373L2020,402Z" fill="#e0e0e0" stroke="#e0e0e0" stroke-width="0.7"/><path d="M2102,475L2110,495L2112,493L2104,471Z" fill="#c8c8c8" stroke="#c8c8c8" stroke-width="0.7"/><path d="M1913,532L1921,532L1924,530L1916,530Z" fill="#808080" stroke="#808080" stroke-width="0.7"/><path d="M1999,480L2007,461L2010,447L2001,470Z" fill="#cccccc" stroke="#cccccc" stroke-width="0.7"/><path d="M2083,417L2091,452L2094,445L2085,407Z" fill="#ececec" stroke="#ececec" stroke-width="0.7"/><path d="M2166,526L2174,528L2176,526L2168,524Z" fill="#848484" stroke="#848484" stroke-width="0.7"/><path d="M1979,510L1988,501L1990,494L1982,505Z" fill="#b0b0b0" stroke="#b0b0b0" stroke-width="0.7"/><path d="M2064,356L2072,392L2075,375L2067,336Z" fill="#d8d8d8" stroke="#d8d8d8" stroke-width="0.7"/><path d="M2147,523L2155,526L2158,524L2149,521Z" fill="#848484" stroke="#848484" stroke-width="0.7"/><path d="M1960,522L1968,519L1971,515L1963,519Z" fill="#989898" stroke="#989898" stroke-width="0.7"/><path d="M2045,346L2053,356L2056,330L2048,319Z" fill="#acacac" stroke="#acacac" stroke-width="0.7"/><path d="M2129,515L2137,520L2139,519L2131,513Z" fill="#989898" stroke="#989898" stroke-width="0.7"/><path d="M1941,528L1949,527L1952,524L1944,526Z" fill="#808080" stroke="#808080" stroke-width="0.7"/><path d="M2026,397L2034,380L2037,352L2029,373Z" fill="#d8d8d8" stroke="#d8d8d8" stroke-width="0.7"/><path d="M2110,495L2118,509L2120,506L2112,493Z" fill="#b8b8b8" stroke="#b8b8b8" stroke-width="0.7"/><path d="M1921,532L1930,532L1932,529L1924,530Z" fill="#808080" stroke="#808080" stroke-width="0.7"/><path d="M2007,461L2015,440L2018,421L2010,447Z" fill="#dcdcdc" stroke="#dcdcdc" stroke-width="0.7"/><path d="M2091,452L2099,480L2102,475L2094,445Z" fill="#d8d8d8" stroke="#d8d8d8" stroke-width="0.7"/><path d="M1988,501L1996,489L1999,480L1990,494Z" fill="#bcbcbc" stroke="#bcbcbc" stroke-width="0.7"/><path d="M2072,392L2080,429L2083,417L2075,375Z" fill="#ececec" stroke="#ececec" stroke-width="0.7"/><path d="M2155,526L2163,528L2166,526L2158,524Z" fill="#848484" stroke="#848484" stroke-width="0.7"/><path d="M1968,519L1977,514L1979,510L1971,515Z" fill="#9c9c9c" stroke="#9c9c9c" stroke-width="0.7"/><path d="M2053,356L2061,379L2064,356L2056,330Z" fill="#bcbcbc" stroke="#bcbcbc" stroke-width="0.7"/><path d="M2137,520L2145,524L2147,523L2139,519ZM1949,527L1957,525L1960,522L1952,524Z" fill="#989898" stroke="#989898" stroke-width="0.7"/><path d="M2034,380L2043,375L2045,346L2037,352Z" fill="#c8c8c8" stroke="#c8c8c8" stroke-width="0.7"/><path d="M2118,509L2126,517L2129,515L2120,506Z" fill="#a0a0a0" stroke="#a0a0a0" stroke-width="0.7"/><path d="M1930,532L1938,531L1941,528L1932,529Z" fill="#808080" stroke="#808080" stroke-width="0.7"/><path d="M2015,440L2023,420L2026,397L2018,421Z" fill="#e0e0e0" stroke="#e0e0e0" stroke-width="0.7"/><path d="M2099,480L2107,499L2110,495L2102,475Z" fill="#c8c8c8" stroke="#c8c8c8" stroke-width="0.7"/><path d="M1996,489L2004,475L2007,461L1999,480Z" fill="#c4c4c4" stroke="#c4c4c4" stroke-width="0.7"/><path d="M2080,429L2089,461L2091,452L2083,417Z" fill="#ececec" stroke="#ececec" stroke-width="0.7"/><path d="M2163,528L2171,530L2174,528L2166,526Z" fill="#848484" stroke="#848484" stroke-width="0.7"/><path d="M1977,514L1985,508L1988,501L1979,510Z" fill="#b4b4b4" stroke="#b4b4b4" stroke-width="0.7"/><path d="M2061,379L2070,410L2072,392L2064,356Z" fill="#e0e0e0" stroke="#e0e0e0" stroke-width="0.7"/><path d="M2145,524L2153,527L2155,526L2147,523Z" fill="#848484" stroke="#848484" stroke-width="0.7"/><path d="M1957,525L1966,523L1968,519L1960,522Z" fill="#989898" stroke="#989898" stroke-width="0.7"/><path d="M2043,375L2051,383L2053,356L2045,346Z" fill="#cccccc" stroke="#cccccc" stroke-width="0.7"/><path d="M2126,517L2134,522L2137,520L2129,515Z" fill="#989898" stroke="#989898" stroke-width="0.7"/><path d="M1938,531L1946,530L1949,527L1941,528Z" fill="#808080" stroke="#808080" stroke-width="0.7"/><path d="M2023,420L2032,407L2034,380L2026,397Z" fill="#e0e0e0" stroke="#e0e0e0" stroke-width="0.7"/><path d="M2107,499L2116,511L2118,509L2110,495Z" fill="#b8b8b8" stroke="#b8b8b8" stroke-width="0.7"/><path d="M1918,534L1927,534L1930,532L1921,532Z" fill="#808080" stroke="#808080" stroke-width="0.7"/><path d="M2004,475L2013,458L2015,440L2007,461Z" fill="#d8d8d8" stroke="#d8d8d8" stroke-width="0.7"/><path d="M2089,461L2097,486L2099,480L2091,452Z" fill="#dcdcdc" stroke="#dcdcdc" stroke-width="0.7"/><path d="M1985,508L1993,499L1996,489L1988,501Z" fill="#acacac" stroke="#acacac" stroke-width="0.7"/><path d="M2070,410L2078,442L2080,429L2072,392Z" fill="#ececec" stroke="#ececec" stroke-width="0.7"/><path d="M2153,527L2161,530L2163,528L2155,526Z" fill="#848484" stroke="#848484" stroke-width="0.7"/><path d="M1966,523L1974,519L1977,514L1968,519Z" fill="#9c9c9c" stroke="#9c9c9c" stroke-width="0.7"/><path d="M2051,383L2059,402L2061,379L2053,356Z" fill="#e0e0e0" stroke="#e0e0e0" stroke-width="0.7"/><path d="M2134,522L2142,526L2145,524L2137,520ZM1946,530L1955,528L1957,525L1949,527Z" fill="#989898" stroke="#989898" stroke-width="0.7"/><path d="M2032,407L2040,402L2043,375L2034,380Z" fill="#d4d4d4" stroke="#d4d4d4" stroke-width="0.7"/><path d="M2116,511L2124,519L2126,517L2118,509Z" fill="#a0a0a0" stroke="#a0a0a0" stroke-width="0.7"/><path d="M1927,534L1935,533L1938,531L1930,532Z" fill="#808080" stroke="#808080" stroke-width="0.7"/><path d="M2013,458L2021,442L2023,420L2015,440Z" fill="#e4e4e4" stroke="#e4e4e4" stroke-width="0.7"/><path d="M2097,486L2105,503L2107,499L2099,480Z" fill="#c4c4c4" stroke="#c4c4c4" stroke-width="0.7"/><path d="M1993,499L2002,487L2004,475L1996,489Z" fill="#bcbcbc" stroke="#bcbcbc" stroke-width="0.7"/><path d="M2078,442L2086,470L2089,461L2080,429Z" fill="#e4e4e4" stroke="#e4e4e4" stroke-width="0.7"/><path d="M2161,530L2169,532L2171,530L2163,528Z" fill="#848484" stroke="#848484" stroke-width="0.7"/><path d="M1974,519L1982,514L1985,508L1977,514Z" fill="#9c9c9c" stroke="#9c9c9c" stroke-width="0.7"/><path d="M2059,402L2067,429L2070,410L2061,379Z" fill="#ececec" stroke="#ececec" stroke-width="0.7"/><path d="M2142,526L2151,529L2153,527L2145,524Z" fill="#848484" stroke="#848484" stroke-width="0.7"/><path d="M1955,528L1963,526L1966,523L1957,525Z" fill="#989898" stroke="#989898" stroke-width="0.7"/><path d="M2040,402L2048,409L2051,383L2043,375Z" fill="#e0e0e0" stroke="#e0e0e0" stroke-width="0.7"/><path d="M2124,519L2132,525L2134,522L2126,517Z" fill="#989898" stroke="#989898" stroke-width="0.7"/><path d="M1935,533L1944,532L1946,530L1938,531Z" fill="#808080" stroke="#808080" stroke-width="0.7"/><path d="M2021,442L2029,432L2032,407L2023,420Z" fill="#e0e0e0" stroke="#e0e0e0" stroke-width="0.7"/><path d="M2105,503L2113,514L2116,511L2107,499Z" fill="#b8b8b8" stroke="#b8b8b8" stroke-width="0.7"/><path d="M1916,536L1924,536L1927,534L1918,534Z" fill="#808080" stroke="#808080" stroke-width="0.7"/><path d="M2002,487L2010,474L2013,458L2004,475Z" fill="#d4d4d4" stroke="#d4d4d4" stroke-width="0.7"/><path d="M2086,470L2094,492L2097,486L2089,461Z" fill="#cccccc" stroke="#cccccc" stroke-width="0.7"/><path d="M1982,514L1991,507L1993,499L1985,508Z" fill="#b0b0b0" stroke="#b0b0b0" stroke-width="0.7"/><path d="M2067,429L2075,456L2078,442L2070,410Z" fill="#e8e8e8" stroke="#e8e8e8" stroke-width="0.7"/><path d="M2151,529L2159,532L2161,530L2153,527Z" fill="#848484" stroke="#848484" stroke-width="0.7"/><path d="M1963,526L1971,523L1974,519L1966,523Z" fill="#989898" stroke="#989898" stroke-width="0.7"/><path d="M2048,409L2056,426L2059,402L2051,383Z" fill="#e8e8e8" stroke="#e8e8e8" stroke-width="0.7"/><path d="M2132,525L2140,528L2142,526L2134,522Z" fill="#989898" stroke="#989898" stroke-width="0.7"/><path d="M1944,532L1952,531L1955,528L1946,530Z" fill="#808080" stroke="#808080" stroke-width="0.7"/><path d="M2029,432L2037,429L2040,402L2032,407Z" fill="#e8e8e8" stroke="#e8e8e8" stroke-width="0.7"/><path d="M2113,514L2121,522L2124,519L2116,511Z" fill="#a0a0a0" stroke="#a0a0a0" stroke-width="0.7"/><path d="M1924,536L1932,536L1935,533L1927,534Z" fill="#808080" stroke="#808080" stroke-width="0.7"/><path d="M2010,474L2018,462L2021,442L2013,458Z" fill="#d8d8d8" stroke="#d8d8d8" stroke-width="0.7"/><path d="M2094,492L2103,508L2105,503L2097,486Z" fill="#b4b4b4" stroke="#b4b4b4" stroke-width="0.7"/><path d="M1991,507L1999,498L2002,487L1993,499Z" fill="#acacac" stroke="#acacac" stroke-width="0.7"/><path d="M2075,456L2084,480L2086,470L2078,442Z" fill="#d8d8d8" stroke="#d8d8d8" stroke-width="0.7"/><path d="M2159,532L2167,533L2169,532L2161,530Z" fill="#848484" stroke="#848484" stroke-width="0.7"/><path d="M1971,523L1980,519L1982,514L1974,519Z" fill="#9c9c9c" stroke="#9c9c9c" stroke-width="0.7"/><path d="M2056,426L2065,447L2067,429L2059,402Z" fill="#e8e8e8" stroke="#e8e8e8" stroke-width="0.7"/><path d="M2140,528L2148,531L2151,529L2142,526Z" fill="#848484" stroke="#848484" stroke-width="0.7"/><path d="M1952,531L1960,530L1963,526L1955,528Z" fill="#989898" stroke="#989898" stroke-width="0.7"/><path d="M2037,429L2046,434L2048,409L2040,402Z" fill="#ececec" stroke="#ececec" stroke-width="0.7"/><path d="M2121,522L2130,527L2132,525L2124,519Z" fill="#989898" stroke="#989898" stroke-width="0.7"/><path d="M1932,536L1941,535L1944,532L1935,533Z" fill="#808080" stroke="#808080" stroke-width="0.7"/><path d="M2018,462L2027,454L2029,432L2021,442Z" fill="#e0e0e0" stroke="#e0e0e0" stroke-width="0.7"/><path d="M2103,508L2111,518L2113,514L2105,503Z" fill="#b8b8b8" stroke="#b8b8b8" stroke-width="0.7"/><path d="M1999,498L2007,489L2010,474L2002,487Z" fill="#c4c4c4" stroke="#c4c4c4" stroke-width="0.7"/><path d="M2084,480L2092,499L2094,492L2086,470Z" fill="#cccccc" stroke="#cccccc" stroke-width="0.7"/><path d="M1980,519L1988,514L1991,507L1982,514Z" fill="#b4b4b4" stroke="#b4b4b4" stroke-width="0.7"/><path d="M2065,447L2073,470L2075,456L2067,429Z" fill="#e8e8e8" stroke="#e8e8e8" stroke-width="0.7"/><path d="M2148,531L2156,533L2159,532L2151,529Z" fill="#848484" stroke="#848484" stroke-width="0.7"/><path d="M1960,530L1969,527L1971,523L1963,526Z" fill="#989898" stroke="#989898" stroke-width="0.7"/><path d="M2046,434L2054,447L2056,426L2048,409Z" fill="#e8e8e8" stroke="#e8e8e8" stroke-width="0.7"/><path d="M2130,527L2138,530L2140,528L2132,525Z" fill="#989898" stroke="#989898" stroke-width="0.7"/><path d="M1941,535L1949,534L1952,531L1944,532Z" fill="#808080" stroke="#808080" stroke-width="0.7"/><path d="M2027,454L2035,452L2037,429L2029,432Z" fill="#e8e8e8" stroke="#e8e8e8" stroke-width="0.7"/><path d="M2111,518L2119,524L2121,522L2113,514Z" fill="#a0a0a0" stroke="#a0a0a0" stroke-width="0.7"/><path d="M1921,538L1930,538L1932,536L1924,536Z" fill="#808080" stroke="#808080" stroke-width="0.7"/><path d="M2007,489L2016,480L2018,462L2010,474Z" fill="#d4d4d4" stroke="#d4d4d4" stroke-width="0.7"/><path d="M2092,499L2100,512L2103,508L2094,492Z" fill="#b0b0b0" stroke="#b0b0b0" stroke-width="0.7"/><path d="M1988,514L1996,508L1999,498L1991,507Z" fill="#b4b4b4" stroke="#b4b4b4" stroke-width="0.7"/><path d="M2073,470L2081,490L2084,480L2075,456Z" fill="#dcdcdc" stroke="#dcdcdc" stroke-width="0.7"/><path d="M2156,533L2165,535L2167,533L2159,532Z" fill="#848484" stroke="#848484" stroke-width="0.7"/><path d="M1969,527L1977,524L1980,519L1971,523Z" fill="#9c9c9c" stroke="#9c9c9c" stroke-width="0.7"/><path d="M2054,447L2062,465L2065,447L2056,426Z" fill="#e8e8e8" stroke="#e8e8e8" stroke-width="0.7"/><path d="M2138,530L2146,533L2148,531L2140,528Z" fill="#848484" stroke="#848484" stroke-width="0.7"/><path d="M1949,534L1958,533L1960,530L1952,531Z" fill="#989898" stroke="#989898" stroke-width="0.7"/><path d="M2035,452L2043,457L2046,434L2037,429Z" fill="#e8e8e8" stroke="#e8e8e8" stroke-width="0.7"/><path d="M2119,524L2127,529L2130,527L2121,522Z" fill="#989898" stroke="#989898" stroke-width="0.7"/><path d="M1930,538L1938,537L1941,535L1932,536Z" fill="#808080" stroke="#808080" stroke-width="0.7"/><path d="M2016,480L2024,474L2027,454L2018,462Z" fill="#d0d0d0" stroke="#d0d0d0" stroke-width="0.7"/><path d="M2100,512L2108,521L2111,518L2103,508Z" fill="#a0a0a0" stroke="#a0a0a0" stroke-width="0.7"/><path d="M1996,508L2005,501L2007,489L1999,498Z" fill="#acacac" stroke="#acacac" stroke-width="0.7"/><path d="M2081,490L2089,506L2092,499L2084,480Z" fill="#c4c4c4" stroke="#c4c4c4" stroke-width="0.7"/><path d="M1977,524L1985,521L1988,514L1980,519Z" fill="#9c9c9c" stroke="#9c9c9c" stroke-width="0.7"/><path d="M2062,465L2070,483L2073,470L2065,447Z" fill="#d4d4d4" stroke="#d4d4d4" stroke-width="0.7"/><path d="M2146,533L2154,535L2156,533L2148,531Z" fill="#848484" stroke="#848484" stroke-width="0.7"/><path d="M1958,533L1966,531L1969,527L1960,530Z" fill="#989898" stroke="#989898" stroke-width="0.7"/><path d="M2043,457L2051,467L2054,447L2046,434Z" fill="#e4e4e4" stroke="#e4e4e4" stroke-width="0.7"/><path d="M2127,529L2135,533L2138,530L2130,527Z" fill="#989898" stroke="#989898" stroke-width="0.7"/><path d="M1938,537L1946,537L1949,534L1941,535Z" fill="#808080" stroke="#808080" stroke-width="0.7"/><path d="M2024,474L2032,472L2035,452L2027,454Z" fill="#dcdcdc" stroke="#dcdcdc" stroke-width="0.7"/><path d="M2108,521L2117,527L2119,524L2111,518Z" fill="#a0a0a0" stroke="#a0a0a0" stroke-width="0.7"/><path d="M1918,540L1927,540L1930,538L1921,538Z" fill="#808080" stroke="#808080" stroke-width="0.7"/><path d="M2005,501L2013,495L2016,480L2007,489Z" fill="#c0c0c0" stroke="#c0c0c0" stroke-width="0.7"/><path d="M2089,506L2098,517L2100,512L2092,499Z" fill="#b8b8b8" stroke="#b8b8b8" stroke-width="0.7"/><path d="M1985,521L1994,516L1996,508L1988,514Z" fill="#b4b4b4" stroke="#b4b4b4" stroke-width="0.7"/><path d="M2070,483L2079,499L2081,490L2073,470Z" fill="#cccccc" stroke="#cccccc" stroke-width="0.7"/><path d="M2154,535L2162,537L2165,535L2156,533Z" fill="#848484" stroke="#848484" stroke-width="0.7"/><path d="M1966,531L1974,529L1977,524L1969,527Z" fill="#989898" stroke="#989898" stroke-width="0.7"/><path d="M2051,467L2060,481L2062,465L2054,447Z" fill="#d4d4d4" stroke="#d4d4d4" stroke-width="0.7"/><path d="M2135,533L2144,535L2146,533L2138,530Z" fill="#848484" stroke="#848484" stroke-width="0.7"/><path d="M1946,537L1955,536L1958,533L1949,534Z" fill="#808080" stroke="#808080" stroke-width="0.7"/><path d="M2032,472L2041,476L2043,457L2035,452Z" fill="#dcdcdc" stroke="#dcdcdc" stroke-width="0.7"/><path d="M2117,527L2125,532L2127,529L2119,524Z" fill="#989898" stroke="#989898" stroke-width="0.7"/><path d="M1927,540L1935,540L1938,537L1930,538Z" fill="#808080" stroke="#808080" stroke-width="0.7"/><path d="M2013,495L2021,491L2024,474L2016,480Z" fill="#c4c4c4" stroke="#c4c4c4" stroke-width="0.7"/><path d="M2098,517L2106,525L2108,521L2100,512Z" fill="#a0a0a0" stroke="#a0a0a0" stroke-width="0.7"/><path d="M1994,516L2002,511L2005,501L1996,508Z" fill="#b4b4b4" stroke="#b4b4b4" stroke-width="0.7"/><path d="M2079,499L2087,512L2089,506L2081,490Z" fill="#b0b0b0" stroke="#b0b0b0" stroke-width="0.7"/><path d="M1974,529L1983,526L1985,521L1977,524Z" fill="#9c9c9c" stroke="#9c9c9c" stroke-width="0.7"/><path d="M2060,481L2068,495L2070,483L2062,465Z" fill="#dcdcdc" stroke="#dcdcdc" stroke-width="0.7"/><path d="M2144,535L2152,537L2154,535L2146,533Z" fill="#848484" stroke="#848484" stroke-width="0.7"/><path d="M1955,536L1963,535L1966,531L1958,533Z" fill="#989898" stroke="#989898" stroke-width="0.7"/><path d="M2041,476L2049,484L2051,467L2043,457Z" fill="#d4d4d4" stroke="#d4d4d4" stroke-width="0.7"/><path d="M2125,532L2133,535L2135,533L2127,529Z" fill="#989898" stroke="#989898" stroke-width="0.7"/><path d="M1935,540L1944,539L1946,537L1938,537Z" fill="#808080" stroke="#808080" stroke-width="0.7"/><path d="M2021,491L2030,490L2032,472L2024,474Z" fill="#d8d8d8" stroke="#d8d8d8" stroke-width="0.7"/><path d="M2106,525L2114,530L2117,527L2108,521Z" fill="#989898" stroke="#989898" stroke-width="0.7"/><path d="M2002,511L2010,507L2013,495L2005,501Z" fill="#acacac" stroke="#acacac" stroke-width="0.7"/><path d="M2087,512L2095,522L2098,517L2089,506Z" fill="#b8b8b8" stroke="#b8b8b8" stroke-width="0.7"/><path d="M1983,526L1991,523L1994,516L1985,521Z" fill="#9c9c9c" stroke="#9c9c9c" stroke-width="0.7"/><path d="M2068,495L2076,508L2079,499L2070,483Z" fill="#c4c4c4" stroke="#c4c4c4" stroke-width="0.7"/><path d="M2152,537L2160,539L2162,537L2154,535Z" fill="#848484" stroke="#848484" stroke-width="0.7"/><path d="M1963,535L1972,533L1974,529L1966,531Z" fill="#989898" stroke="#989898" stroke-width="0.7"/><path d="M2049,484L2057,495L2060,481L2051,467Z" fill="#d8d8d8" stroke="#d8d8d8" stroke-width="0.7"/><path d="M2133,535L2141,537L2144,535L2135,533Z" fill="#848484" stroke="#848484" stroke-width="0.7"/><path d="M1944,539L1952,539L1955,536L1946,537Z" fill="#808080" stroke="#808080" stroke-width="0.7"/><path d="M2030,490L2038,493L2041,476L2032,472Z" fill="#d8d8d8" stroke="#d8d8d8" stroke-width="0.7"/><path d="M2114,530L2122,534L2125,532L2117,527Z" fill="#989898" stroke="#989898" stroke-width="0.7"/><path d="M1924,542L1932,542L1935,540L1927,540Z" fill="#808080" stroke="#808080" stroke-width="0.7"/><path d="M2010,507L2019,504L2021,491L2013,495Z" fill="#c0c0c0" stroke="#c0c0c0" stroke-width="0.7"/><path d="M2095,522L2104,528L2106,525L2098,517Z" fill="#a0a0a0" stroke="#a0a0a0" stroke-width="0.7"/><path d="M1991,523L1999,520L2002,511L1994,516Z" fill="#b4b4b4" stroke="#b4b4b4" stroke-width="0.7"/><path d="M2076,508L2085,518L2087,512L2079,499Z" fill="#b8b8b8" stroke="#b8b8b8" stroke-width="0.7"/><path d="M1972,533L1980,531L1983,526L1974,529Z" fill="#989898" stroke="#989898" stroke-width="0.7"/><path d="M2057,495L2065,506L2068,495L2060,481Z" fill="#c4c4c4" stroke="#c4c4c4" stroke-width="0.7"/><path d="M2141,537L2150,539L2152,537L2144,535Z" fill="#848484" stroke="#848484" stroke-width="0.7"/><path d="M1952,539L1960,538L1963,535L1955,536Z" fill="#808080" stroke="#808080" stroke-width="0.7"/><path d="M2038,493L2046,499L2049,484L2041,476Z" fill="#c8c8c8" stroke="#c8c8c8" stroke-width="0.7"/><path d="M2122,534L2131,537L2133,535L2125,532Z" fill="#848484" stroke="#848484" stroke-width="0.7"/><path d="M1932,542L1941,542L1944,539L1935,540Z" fill="#808080" stroke="#808080" stroke-width="0.7"/><path d="M2019,504L2027,504L2030,490L2021,491Z" fill="#c0c0c0" stroke="#c0c0c0" stroke-width="0.7"/><path d="M2104,528L2112,533L2114,530L2106,525Z" fill="#989898" stroke="#989898" stroke-width="0.7"/><path d="M1999,520L2008,517L2010,507L2002,511Z" fill="#b4b4b4" stroke="#b4b4b4" stroke-width="0.7"/><path d="M2085,518L2093,526L2095,522L2087,512Z" fill="#a0a0a0" stroke="#a0a0a0" stroke-width="0.7"/><path d="M1980,531L1988,529L1991,523L1983,526Z" fill="#9c9c9c" stroke="#9c9c9c" stroke-width="0.7"/><path d="M2065,506L2074,516L2076,508L2068,495Z" fill="#b0b0b0" stroke="#b0b0b0" stroke-width="0.7"/><path d="M2150,539L2158,541L2160,539L2152,537Z" fill="#848484" stroke="#848484" stroke-width="0.7"/><path d="M1960,538L1969,537L1972,533L1963,535Z" fill="#989898" stroke="#989898" stroke-width="0.7"/><path d="M2046,499L2055,507L2057,495L2049,484Z" fill="#c4c4c4" stroke="#c4c4c4" stroke-width="0.7"/><path d="M2131,537L2139,539L2141,537L2133,535Z" fill="#848484" stroke="#848484" stroke-width="0.7"/><path d="M1941,542L1949,542L1952,539L1944,539Z" fill="#808080" stroke="#808080" stroke-width="0.7"/><path d="M2027,504L2035,506L2038,493L2030,490Z" fill="#c0c0c0" stroke="#c0c0c0" stroke-width="0.7"/><path d="M2112,533L2120,537L2122,534L2114,530Z" fill="#989898" stroke="#989898" stroke-width="0.7"/><path d="M2008,517L2016,515L2019,504L2010,507Z" fill="#acacac" stroke="#acacac" stroke-width="0.7"/><path d="M2093,526L2101,532L2104,528L2095,522Z" fill="#a0a0a0" stroke="#a0a0a0" stroke-width="0.7"/><path d="M1988,529L1997,527L1999,520L1991,523Z" fill="#9c9c9c" stroke="#9c9c9c" stroke-width="0.7"/><path d="M2074,516L2082,524L2085,518L2076,508Z" fill="#b8b8b8" stroke="#b8b8b8" stroke-width="0.7"/><path d="M1969,537L1977,536L1980,531L1972,533Z" fill="#989898" stroke="#989898" stroke-width="0.7"/><path d="M2055,507L2063,515L2065,506L2057,495Z" fill="#b0b0b0" stroke="#b0b0b0" stroke-width="0.7"/><path d="M2139,539L2147,541L2150,539L2141,537Z" fill="#848484" stroke="#848484" stroke-width="0.7"/><path d="M1949,542L1958,541L1960,538L1952,539Z" fill="#808080" stroke="#808080" stroke-width="0.7"/><path d="M2035,506L2044,511L2046,499L2038,493Z" fill="#c4c4c4" stroke="#c4c4c4" stroke-width="0.7"/><path d="M2120,537L2128,539L2131,537L2122,534Z" fill="#848484" stroke="#848484" stroke-width="0.7"/><path d="M1930,544L1938,544L1941,542L1932,542Z" fill="#808080" stroke="#808080" stroke-width="0.7"/><path d="M2016,515L2025,515L2027,504L2019,504Z" fill="#acacac" stroke="#acacac" stroke-width="0.7"/><path d="M2101,532L2109,536L2112,533L2104,528Z" fill="#989898" stroke="#989898" stroke-width="0.7"/><path d="M1997,527L2005,525L2008,517L1999,520Z" fill="#9c9c9c" stroke="#9c9c9c" stroke-width="0.7"/><path d="M2082,524L2090,531L2093,526L2085,518Z" fill="#a0a0a0" stroke="#a0a0a0" stroke-width="0.7"/><path d="M1977,536L1986,534L1988,529L1980,531Z" fill="#989898" stroke="#989898" stroke-width="0.7"/><path d="M2063,515L2071,523L2074,516L2065,506Z" fill="#b8b8b8" stroke="#b8b8b8" stroke-width="0.7"/><path d="M2147,541L2155,543L2158,541L2150,539Z" fill="#848484" stroke="#848484" stroke-width="0.7"/><path d="M1958,541L1966,540L1969,537L1960,538Z" fill="#808080" stroke="#808080" stroke-width="0.7"/><path d="M2044,511L2052,517L2055,507L2046,499Z" fill="#b0b0b0" stroke="#b0b0b0" stroke-width="0.7"/><path d="M2128,539L2137,542L2139,539L2131,537Z" fill="#848484" stroke="#848484" stroke-width="0.7"/><path d="M1938,544L1947,544L1949,542L1941,542Z" fill="#808080" stroke="#808080" stroke-width="0.7"/><path d="M2025,515L2033,517L2035,506L2027,504Z" fill="#b0b0b0" stroke="#b0b0b0" stroke-width="0.7"/><path d="M2109,536L2118,539L2120,537L2112,533Z" fill="#989898" stroke="#989898" stroke-width="0.7"/><path d="M2005,525L2014,524L2016,515L2008,517Z" fill="#b4b4b4" stroke="#b4b4b4" stroke-width="0.7"/><path d="M2090,531L2099,535L2101,532L2093,526ZM1986,534L1994,533L1997,527L1988,529Z" fill="#989898" stroke="#989898" stroke-width="0.7"/><path d="M2071,523L2080,530L2082,524L2074,516Z" fill="#a0a0a0" stroke="#a0a0a0" stroke-width="0.7"/><path d="M1966,540L1975,540L1977,536L1969,537Z" fill="#989898" stroke="#989898" stroke-width="0.7"/><path d="M2052,517L2061,523L2063,515L2055,507Z" fill="#b4b4b4" stroke="#b4b4b4" stroke-width="0.7"/><path d="M2137,542L2145,544L2147,541L2139,539Z" fill="#848484" stroke="#848484" stroke-width="0.7"/><path d="M1947,544L1955,544L1958,541L1949,542Z" fill="#808080" stroke="#808080" stroke-width="0.7"/><path d="M2033,517L2041,521L2044,511L2035,506Z" fill="#b4b4b4" stroke="#b4b4b4" stroke-width="0.7"/><path d="M2118,539L2126,542L2128,539L2120,537Z" fill="#848484" stroke="#848484" stroke-width="0.7"/><path d="M2014,524L2022,525L2025,515L2016,515Z" fill="#b4b4b4" stroke="#b4b4b4" stroke-width="0.7"/><path d="M2099,535L2107,539L2109,536L2101,532Z" fill="#989898" stroke="#989898" stroke-width="0.7"/><path d="M1994,533L2003,532L2005,525L1997,527ZM2080,530L2088,535L2090,531L2082,524Z" fill="#a0a0a0" stroke="#a0a0a0" stroke-width="0.7"/><path d="M1975,540L1983,539L1986,534L1977,536Z" fill="#989898" stroke="#989898" stroke-width="0.7"/><path d="M2061,523L2069,529L2071,523L2063,515Z" fill="#a0a0a0" stroke="#a0a0a0" stroke-width="0.7"/><path d="M1955,544L1964,544L1966,540L1958,541Z" fill="#808080" stroke="#808080" stroke-width="0.7"/><path d="M2041,521L2050,525L2052,517L2044,511Z" fill="#b4b4b4" stroke="#b4b4b4" stroke-width="0.7"/><path d="M2126,542L2134,544L2137,542L2128,539Z" fill="#848484" stroke="#848484" stroke-width="0.7"/><path d="M1935,547L1944,547L1947,544L1938,544Z" fill="#808080" stroke="#808080" stroke-width="0.7"/><path d="M2022,525L2030,526L2033,517L2025,515Z" fill="#b4b4b4" stroke="#b4b4b4" stroke-width="0.7"/><path d="M2107,539L2115,542L2118,539L2109,536Z" fill="#989898" stroke="#989898" stroke-width="0.7"/><path d="M2003,532L2011,532L2014,524L2005,525Z" fill="#a0a0a0" stroke="#a0a0a0" stroke-width="0.7"/><path d="M2088,535L2096,539L2099,535L2090,531ZM1983,539L1992,538L1994,533L1986,534Z" fill="#989898" stroke="#989898" stroke-width="0.7"/><path d="M2069,529L2077,534L2080,530L2071,523Z" fill="#a0a0a0" stroke="#a0a0a0" stroke-width="0.7"/><path d="M1964,544L1972,543L1975,540L1966,540Z" fill="#808080" stroke="#808080" stroke-width="0.7"/><path d="M2050,525L2058,530L2061,523L2052,517Z" fill="#a0a0a0" stroke="#a0a0a0" stroke-width="0.7"/><path d="M2134,544L2143,546L2145,544L2137,542Z" fill="#848484" stroke="#848484" stroke-width="0.7"/><path d="M1944,547L1952,547L1955,544L1947,544Z" fill="#808080" stroke="#808080" stroke-width="0.7"/><path d="M2030,526L2039,529L2041,521L2033,517Z" fill="#b4b4b4" stroke="#b4b4b4" stroke-width="0.7"/><path d="M2115,542L2124,544L2126,542L2118,539Z" fill="#848484" stroke="#848484" stroke-width="0.7"/><path d="M2011,532L2019,532L2022,525L2014,524Z" fill="#a0a0a0" stroke="#a0a0a0" stroke-width="0.7"/><path d="M2096,539L2105,542L2107,539L2099,535ZM1992,538L2000,538L2003,532L1994,533ZM2077,534L2086,538L2088,535L2080,530ZM1972,543L1980,543L1983,539L1975,540Z" fill="#989898" stroke="#989898" stroke-width="0.7"/><path d="M2058,530L2066,535L2069,529L2061,523Z" fill="#a0a0a0" stroke="#a0a0a0" stroke-width="0.7"/><path d="M1952,547L1961,547L1964,544L1955,544Z" fill="#808080" stroke="#808080" stroke-width="0.7"/><path d="M2039,529L2047,532L2050,525L2041,521Z" fill="#a0a0a0" stroke="#a0a0a0" stroke-width="0.7"/><path d="M2124,544L2132,546L2134,544L2126,542Z" fill="#848484" stroke="#848484" stroke-width="0.7"/><path d="M2019,532L2028,533L2030,526L2022,525Z" fill="#a0a0a0" stroke="#a0a0a0" stroke-width="0.7"/><path d="M2105,542L2113,544L2115,542L2107,539Z" fill="#848484" stroke="#848484" stroke-width="0.7"/><path d="M2000,538L2008,538L2011,532L2003,532ZM2086,538L2094,542L2096,539L2088,535ZM1980,543L1989,543L1992,538L1983,539ZM2066,535L2075,539L2077,534L2069,529Z" fill="#989898" stroke="#989898" stroke-width="0.7"/><path d="M1961,547L1969,546L1972,543L1964,544Z" fill="#808080" stroke="#808080" stroke-width="0.7"/><path d="M2047,532L2056,536L2058,530L2050,525Z" fill="#a0a0a0" stroke="#a0a0a0" stroke-width="0.7"/><path d="M2132,546L2140,548L2143,546L2134,544Z" fill="#848484" stroke="#848484" stroke-width="0.7"/><path d="M1941,549L1950,549L1952,547L1944,547Z" fill="#808080" stroke="#808080" stroke-width="0.7"/><path d="M2028,533L2036,535L2039,529L2030,526Z" fill="#a0a0a0" stroke="#a0a0a0" stroke-width="0.7"/><path d="M2113,544L2121,546L2124,544L2115,542Z" fill="#848484" stroke="#848484" stroke-width="0.7"/><path d="M2008,538L2017,538L2019,532L2011,532ZM2094,542L2102,545L2105,542L2096,539ZM1989,543L1997,542L2000,538L1992,538ZM2075,539L2083,542L2086,538L2077,534Z" fill="#989898" stroke="#989898" stroke-width="0.7"/><path d="M1969,546L1978,546L1980,543L1972,543Z" fill="#808080" stroke="#808080" stroke-width="0.7"/><path d="M2056,536L2064,539L2066,535L2058,530Z" fill="#989898" stroke="#989898" stroke-width="0.7"/><path d="M1950,549L1958,549L1961,547L1952,547Z" fill="#808080" stroke="#808080" stroke-width="0.7"/><path d="M2036,535L2045,538L2047,532L2039,529Z" fill="#a0a0a0" stroke="#a0a0a0" stroke-width="0.7"/><path d="M2121,546L2130,548L2132,546L2124,544Z" fill="#848484" stroke="#848484" stroke-width="0.7"/><path d="M2017,538L2025,539L2028,533L2019,532Z" fill="#989898" stroke="#989898" stroke-width="0.7"/><path d="M2102,545L2111,547L2113,544L2105,542Z" fill="#848484" stroke="#848484" stroke-width="0.7"/><path d="M1997,542L2006,543L2008,538L2000,538ZM2083,542L2092,545L2094,542L2086,538Z" fill="#989898" stroke="#989898" stroke-width="0.7"/><path d="M1978,546L1986,546L1989,543L1980,543Z" fill="#808080" stroke="#808080" stroke-width="0.7"/><path d="M2064,539L2072,543L2075,539L2066,535Z" fill="#989898" stroke="#989898" stroke-width="0.7"/><path d="M1958,549L1967,549L1969,546L1961,547Z" fill="#808080" stroke="#808080" stroke-width="0.7"/><path d="M2045,538L2053,541L2056,536L2047,532ZM2025,539L2034,541L2036,535L2028,533Z" fill="#989898" stroke="#989898" stroke-width="0.7"/><path d="M2111,547L2119,549L2121,546L2113,544Z" fill="#848484" stroke="#848484" stroke-width="0.7"/><path d="M2006,543L2014,543L2017,538L2008,538Z" fill="#989898" stroke="#989898" stroke-width="0.7"/><path d="M2092,545L2100,547L2102,545L2094,542Z" fill="#848484" stroke="#848484" stroke-width="0.7"/><path d="M1986,546L1995,546L1997,542L1989,543ZM2072,543L2081,545L2083,542L2075,539Z" fill="#989898" stroke="#989898" stroke-width="0.7"/><path d="M1967,549L1975,549L1978,546L1969,546Z" fill="#808080" stroke="#808080" stroke-width="0.7"/><path d="M2053,541L2061,544L2064,539L2056,536Z" fill="#989898" stroke="#989898" stroke-width="0.7"/><path d="M1947,552L1955,552L1958,549L1950,549Z" fill="#808080" stroke="#808080" stroke-width="0.7"/><path d="M2034,541L2042,543L2045,538L2036,535Z" fill="#989898" stroke="#989898" stroke-width="0.7"/><path d="M2119,549L2127,550L2130,548L2121,546Z" fill="#848484" stroke="#848484" stroke-width="0.7"/><path d="M2014,543L2023,544L2025,539L2017,538Z" fill="#989898" stroke="#989898" stroke-width="0.7"/><path d="M2100,547L2108,549L2111,547L2102,545Z" fill="#848484" stroke="#848484" stroke-width="0.7"/><path d="M1995,546L2003,547L2006,543L1997,542Z" fill="#989898" stroke="#989898" stroke-width="0.7"/><path d="M2081,545L2089,548L2092,545L2083,542Z" fill="#848484" stroke="#848484" stroke-width="0.7"/><path d="M1975,549L1984,550L1986,546L1978,546Z" fill="#808080" stroke="#808080" stroke-width="0.7"/><path d="M2061,544L2070,546L2072,543L2064,539Z" fill="#989898" stroke="#989898" stroke-width="0.7"/><path d="M1955,552L1964,552L1967,549L1958,549Z" fill="#808080" stroke="#808080" stroke-width="0.7"/><path d="M2042,543L2051,545L2053,541L2045,538ZM2023,544L2031,546L2034,541L2025,539Z" fill="#989898" stroke="#989898" stroke-width="0.7"/><path d="M2108,549L2117,551L2119,549L2111,547Z" fill="#848484" stroke="#848484" stroke-width="0.7"/><path d="M2003,547L2012,547L2014,543L2006,543Z" fill="#989898" stroke="#989898" stroke-width="0.7"/><path d="M2089,548L2098,550L2100,547L2092,545Z" fill="#848484" stroke="#848484" stroke-width="0.7"/><path d="M1984,550L1992,550L1995,546L1986,546Z" fill="#808080" stroke="#808080" stroke-width="0.7"/><path d="M2070,546L2078,549L2081,545L2072,543Z" fill="#989898" stroke="#989898" stroke-width="0.7"/><path d="M1964,552L1972,552L1975,549L1967,549Z" fill="#808080" stroke="#808080" stroke-width="0.7"/><path d="M2051,545L2059,547L2061,544L2053,541ZM2031,546L2040,547L2042,543L2034,541Z" fill="#989898" stroke="#989898" stroke-width="0.7"/><path d="M2117,551L2125,553L2127,550L2119,549Z" fill="#848484" stroke="#848484" stroke-width="0.7"/><path d="M2012,547L2020,548L2023,544L2014,543Z" fill="#989898" stroke="#989898" stroke-width="0.7"/><path d="M2098,550L2106,552L2108,549L2100,547Z" fill="#848484" stroke="#848484" stroke-width="0.7"/><path d="M1992,550L2001,550L2003,547L1995,546Z" fill="#808080" stroke="#808080" stroke-width="0.7"/><path d="M2078,549L2087,551L2089,548L2081,545Z" fill="#848484" stroke="#848484" stroke-width="0.7"/><path d="M1972,552L1981,553L1984,550L1975,549Z" fill="#808080" stroke="#808080" stroke-width="0.7"/><path d="M2059,547L2067,550L2070,546L2061,544Z" fill="#989898" stroke="#989898" stroke-width="0.7"/><path d="M1953,554L1961,555L1964,552L1955,552Z" fill="#808080" stroke="#808080" stroke-width="0.7"/><path d="M2040,547L2048,549L2051,545L2042,543ZM2020,548L2029,549L2031,546L2023,544Z" fill="#989898" stroke="#989898" stroke-width="0.7"/><path d="M2106,552L2114,553L2117,551L2108,549Z" fill="#848484" stroke="#848484" stroke-width="0.7"/><path d="M2001,550L2009,551L2012,547L2003,547Z" fill="#808080" stroke="#808080" stroke-width="0.7"/><path d="M2087,551L2095,552L2098,550L2089,548Z" fill="#848484" stroke="#848484" stroke-width="0.7"/><path d="M1981,553L1990,553L1992,550L1984,550Z" fill="#808080" stroke="#808080" stroke-width="0.7"/><path d="M2067,550L2076,552L2078,549L2070,546Z" fill="#848484" stroke="#848484" stroke-width="0.7"/><path d="M1961,555L1970,555L1972,552L1964,552Z" fill="#808080" stroke="#808080" stroke-width="0.7"/><path d="M2048,549L2057,551L2059,547L2051,545Z" fill="#848484" stroke="#848484" stroke-width="0.7"/><path d="M2029,549L2037,551L2040,547L2031,546Z" fill="#989898" stroke="#989898" stroke-width="0.7"/><path d="M2009,551L2018,552L2020,548L2012,547ZM2095,552L2104,554L2106,552L2098,550Z" fill="#848484" stroke="#848484" stroke-width="0.7"/><path d="M1990,553L1998,554L2001,550L1992,550Z" fill="#808080" stroke="#808080" stroke-width="0.7"/><path d="M2076,552L2084,553L2087,551L2078,549Z" fill="#848484" stroke="#848484" stroke-width="0.7"/><path d="M1970,555L1978,555L1981,553L1972,552Z" fill="#808080" stroke="#808080" stroke-width="0.7"/><path d="M2057,551L2065,553L2067,550L2059,547ZM2037,551L2046,552L2048,549L2040,547ZM2018,552L2026,553L2029,549L2020,548ZM2104,554L2112,556L2114,553L2106,552Z" fill="#848484" stroke="#848484" stroke-width="0.7"/><path d="M1998,554L2007,554L2009,551L2001,550Z" fill="#808080" stroke="#808080" stroke-width="0.7"/><path d="M2084,553L2093,555L2095,552L2087,551Z" fill="#848484" stroke="#848484" stroke-width="0.7"/><path d="M1978,555L1987,556L1990,553L1981,553Z" fill="#808080" stroke="#808080" stroke-width="0.7"/><path d="M2065,553L2073,554L2076,552L2067,550ZM2046,552L2054,554L2057,551L2048,549ZM2026,553L2035,554L2037,551L2029,549ZM2007,554L2015,555L2018,552L2009,551ZM2093,555L2101,556L2104,554L2095,552Z" fill="#848484" stroke="#848484" stroke-width="0.7"/><path d="M1987,556L1995,556L1998,554L1990,553Z" fill="#808080" stroke="#808080" stroke-width="0.7"/><path d="M2073,554L2082,556L2084,553L2076,552ZM2054,554L2063,555L2065,553L2057,551ZM2035,554L2043,555L2046,552L2037,551ZM2015,555L2024,556L2026,553L2018,552Z" fill="#848484" stroke="#848484" stroke-width="0.7"/><path d="M1995,556L2004,557L2007,554L1998,554Z" fill="#808080" stroke="#808080" stroke-width="0.7"/><path d="M2082,556L2090,557L2093,555L2084,553Z" fill="#848484" stroke="#848484" stroke-width="0.7"/><path d="M1976,558L1984,558L1987,556L1978,555Z" fill="#808080" stroke="#808080" stroke-width="0.7"/><path d="M2063,555L2071,557L2073,554L2065,553ZM2043,555L2052,557L2054,554L2046,552ZM2024,556L2032,557L2035,554L2026,553ZM2004,557L2013,558L2015,555L2007,554Z" fill="#848484" stroke="#848484" stroke-width="0.7"/><path d="M1984,558L1993,559L1995,556L1987,556Z" fill="#808080" stroke="#808080" stroke-width="0.7"/><path d="M2071,557L2080,558L2082,556L2073,554ZM2052,557L2060,558L2063,555L2054,554ZM2032,557L2041,558L2043,555L2035,554ZM2013,558L2021,559L2024,556L2015,555Z" fill="#848484" stroke="#848484" stroke-width="0.7"/><path d="M1993,559L2001,560L2004,557L1995,556Z" fill="#808080" stroke="#808080" stroke-width="0.7"/><path d="M2060,558L2069,559L2071,557L2063,555ZM2041,558L2049,559L2052,557L2043,555ZM2021,559L2030,560L2032,557L2024,556ZM2001,560L2010,561L2013,558L2004,557ZM2049,559L2058,561L2060,558L2052,557ZM2030,560L2038,561L2041,558L2032,557ZM2010,561L2019,561L2021,559L2013,558ZM2038,561L2047,562L2049,559L2041,558Z" fill="#848484" stroke="#848484" stroke-width="0.7"/><circle cx="2057.8" cy="254" r="10" fill="#e8141c" stroke="#fff" stroke-width="1.5"/><circle cx="2095.8" cy="394" r="10" fill="#e8141c" stroke="#fff" stroke-width="1.5"/><path d="M2063,272 L2084,372" stroke="#000" stroke-width="1.6"/><path d="M2085.5,377 L2079,364 L2088,362 Z" fill="#000"/>
<!-- parta --><text x="0.0" y="61.0" font-family="Liberation Serif" font-size="79" text-anchor="start" fill="#000" style="white-space:pre" >(</text><text x="26.3" y="61.0" font-family="Liberation Serif" font-size="76" font-weight="bold" text-anchor="start" fill="#000" style="white-space:pre" >a</text><text x="64.3" y="61.0" font-family="Liberation Serif" font-size="79" text-anchor="start" fill="#000" style="white-space:pre" >)</text><text x="139.5" y="60.2" font-family="Liberation Sans" font-size="61" text-anchor="start" fill="#000" style="white-space:pre" >Conventional 3D imaging + FEM</text><text x="147.0" y="647.2" font-family="Liberation Sans" font-size="34" text-anchor="start" fill="#000" style="white-space:pre" >Digital imaging</text><text x="763.4" y="649.1" font-family="Liberation Sans" font-size="34" text-anchor="start" fill="#000" style="white-space:pre" >Simulation</text><text x="1414.5" y="649.6" font-family="Liberation Sans" font-size="34" text-anchor="start" fill="#000" style="white-space:pre" >Full fields data</text><rect x="1817.3" y="621.8" width="341.3" height="48.4" rx="3" fill="#c2c2c2"/><text x="1891.0" y="655.5" font-family="Liberation Sans" font-size="34" text-anchor="start" fill="#000" style="white-space:pre" >Optimization</text><rect x="1007.9" y="709.8" width="341.3" height="47.8" rx="3" fill="#c4c4c4"/><rect x="969.1" y="763.9" width="412.8" height="48.9" rx="3" fill="#c4c4c4"/><text x="1046.9" y="746.2" font-family="Liberation Sans" font-size="33.6" text-anchor="start" fill="#000" style="white-space:pre" >Iterative time cost</text><text x="1029.0" y="799.3" font-family="Liberation Sans" font-size="33.6" text-anchor="start" fill="#000" style="white-space:pre" >&amp; Extensive dataset</text><path d="M246.3,700 V766 H350.8" fill="none" stroke="#000" stroke-width="2.6"/><path d="M246.3,694 L253.3,708 L246.3,704 L239.3,708 Z" fill="#000"/><path d="M707.4,766 H836 V691" fill="none" stroke="#000" stroke-width="2.6"/><path d="M1473.3,700 V766.7 H1547.5" fill="none" stroke="#000" stroke-width="2.6"/><path d="M1473.3,694 L1480.3,708 L1473.3,704 L1466.3,708 Z" fill="#000"/><path d="M1997,766.7 H2063.4 V692" fill="none" stroke="#000" stroke-width="2.6"/><text x="340.3" y="740.2" font-family="Liberation Sans" font-size="31" text-anchor="start" fill="#000" style="white-space:pre" >Fit</text><g transform="translate(386.5,0) scale(1.2667,1)"><text x="0.0" y="740.2" font-family="Liberation Serif" font-size="31" font-style="italic" font-weight="bold" text-anchor="start" fill="#000" style="white-space:pre" >θ</text></g><g transform="translate(406.8,0) scale(1.2000,1)"><text x="0.0" y="747.4" font-family="Liberation Serif" font-size="22" font-style="italic" font-weight="bold" text-anchor="start" fill="#000" style="white-space:pre" >w</text></g><text x="439.0" y="740.2" font-family="Liberation Sans" font-size="31" text-anchor="start" fill="#000" style="white-space:pre" >from</text><g transform="translate(515.0,0) scale(1.1000,1)"><text x="0.0" y="740.2" font-family="Liberation Serif" font-size="29" font-style="italic" text-anchor="start" fill="#000" style="white-space:pre" >ε</text></g><g transform="translate(531.0,0) scale(1.0259,1)"><text x="0.0" y="747.4" font-family="Liberation Serif" font-size="22" font-style="italic" text-anchor="start" fill="#000" style="white-space:pre" >DVC</text></g><g transform="translate(588.0,0) scale(1.0000,1)"><text x="0.0" y="740.2" font-family="Liberation Serif" font-size="29" font-style="italic" text-anchor="start" fill="#000" style="white-space:pre" >ε</text></g><g transform="translate(604.0,0) scale(1.0318,1)"><text x="0.0" y="747.4" font-family="Liberation Serif" font-size="22" font-style="italic" text-anchor="start" fill="#000" style="white-space:pre" >FEM</text></g><g transform="translate(656.9,0) scale(1.0667,1)"><text x="0.0" y="740.2" font-family="Liberation Serif" font-size="31" text-anchor="start" fill="#000" style="white-space:pre" >(</text></g><g transform="translate(669.2,0) scale(1.2000,1)"><text x="0.0" y="740.2" font-family="Liberation Serif" font-size="31" font-style="italic" font-weight="bold" text-anchor="start" fill="#000" style="white-space:pre" >θ</text></g><g transform="translate(690.3,0) scale(1.3933,1)"><text x="0.0" y="747.4" font-family="Liberation Serif" font-size="22" font-style="italic" font-weight="bold" text-anchor="start" fill="#000" style="white-space:pre" >w</text></g><g transform="translate(713.0,0) scale(0.9500,1)"><text x="0.0" y="740.2" font-family="Liberation Serif" font-size="31" text-anchor="start" fill="#000" style="white-space:pre" >)</text></g><g transform="translate(463.5,0) scale(1.0693,1)"><text x="0.0" y="781.5" font-family="Liberation Sans" font-size="31" font-style="italic" text-anchor="start" fill="#000" style="white-space:pre" >(Iterative)</text></g><text x="1673.6" y="742.9" font-family="Liberation Sans" font-size="31.5" text-anchor="start" fill="#000" style="white-space:pre" >Update</text><g transform="translate(1791.5,0) scale(1.1933,1)"><text x="0.0" y="742.9" font-family="Liberation Serif" font-size="31" font-style="italic" font-weight="bold" text-anchor="start" fill="#000" style="white-space:pre" >θ</text></g><g transform="translate(1811.8,0) scale(1.3733,1)"><text x="0.0" y="748.8" font-family="Liberation Serif" font-size="22" font-style="italic" font-weight="bold" text-anchor="start" fill="#000" style="white-space:pre" >w</text></g><text x="1632.0" y="782.5" font-family="Liberation Sans" font-size="33.3" text-anchor="start" fill="#000" style="white-space:pre" >to satisfy physics</text><path d="M528,830 C730,910 969,891 1170,821" fill="none" stroke="#7f7f7f" stroke-width="3" stroke-dasharray="12 9"/><path d="M1182,822 C1358,909 1587,894 1773,832" fill="none" stroke="#7f7f7f" stroke-width="3" stroke-dasharray="12 9"/><path d="M1175.5,813 L1191,833 L1175.5,826 L1160,833 Z" fill="#7f7f7f"/><text x="1457.8" y="144.3" font-family="Liberation Sans" font-size="27.8" text-anchor="start" fill="#000" style="white-space:pre" >Full data loss</text><g transform="translate(1429.5,0) scale(1.2125,1)"><text x="0.0" y="175.1" font-family="Liberation Serif" font-size="32" font-style="italic" font-weight="bold" text-anchor="start" fill="#000" style="white-space:pre" >u</text></g><g transform="translate(1452.0,0) scale(0.9601,1)"><text x="0.0" y="181.6" font-family="Liberation Serif" font-size="22" font-style="italic" font-weight="bold" text-anchor="start" fill="#000" style="white-space:pre" >FEM</text></g><path d="M1513.3,165.5 H1531.9" stroke="#000" stroke-width="2"/><g transform="translate(1542.0,0) scale(1.2125,1)"><text x="0.0" y="175.1" font-family="Liberation Serif" font-size="32" font-style="italic" font-weight="bold" text-anchor="start" fill="#000" style="white-space:pre" >u</text></g><g transform="translate(1563.4,0) scale(1.2896,1)"><text x="0.0" y="181.6" font-family="Liberation Serif" font-size="22" font-style="italic" font-weight="bold" text-anchor="start" fill="#000" style="white-space:pre" >measure</text></g><text x="1922.0" y="133.2" font-family="Liberation Sans" font-size="27.6" text-anchor="start" fill="#000" style="white-space:pre" >Governing equation</text><path d="M1926.6,151.5 C1925.1,148.0 1921.2,148.5 1920.9,156.5 L1918.0,191.5 C1917.7,199.5 1913.8,200.0 1912.3,196.5" fill="none" stroke="#000" stroke-width="1.8" stroke-linecap="round"/><g transform="translate(1935.2,0) scale(0.6316,1)"><text x="0.0" y="181.2" font-family="Liberation Serif" font-size="26" text-anchor="start" fill="#000" style="white-space:pre" >∇</text></g><g transform="translate(1949.0,0) scale(0.9593,1)"><text x="0.0" y="181.2" font-family="Liberation Serif" font-size="26" font-style="italic" text-anchor="start" fill="#000" style="white-space:pre" >σdV</text></g><path d="M2005.6,174 H2020.8" stroke="#000" stroke-width="1.8"/><path d="M2043.9,151.5 C2042.4,148.0 2038.5,148.5 2038.2,156.5 L2035.3,191.5 C2035.0,199.5 2031.1,200.0 2029.6,196.5" fill="none" stroke="#000" stroke-width="1.8" stroke-linecap="round"/><g transform="translate(2052.0,0) scale(1.2485,1)"><text x="0.0" y="181.2" font-family="Liberation Serif" font-size="26" font-style="italic" font-weight="bold" text-anchor="start" fill="#000" style="white-space:pre" >t̄v</text></g><g transform="translate(2077.4,0) scale(0.9462,1)"><text x="0.0" y="181.2" font-family="Liberation Serif" font-size="26" font-style="italic" text-anchor="start" fill="#000" style="white-space:pre" >dS</text></g><g transform="translate(2110.6,0) scale(1.0549,1)"><text x="0.0" y="181.2" font-family="Liberation Serif" font-size="28" text-anchor="start" fill="#000" style="white-space:pre" >= 0</text></g><text x="634.0" y="187.3" font-family="Liberation Sans" font-size="24.65" text-anchor="start" fill="#000" style="white-space:pre" >Discretization</text><text x="792.5" y="187.3" font-family="Liberation Sans" font-size="24.65" text-anchor="start" fill="#000" style="white-space:pre" >FEM</text><text x="852.0" y="187.3" font-family="Liberation Sans" font-size="24.65" text-anchor="start" fill="#000" style="white-space:pre" >(Displacement,</text><text x="1019.0" y="187.3" font-family="Liberation Serif" font-size="26" font-style="italic" text-anchor="start" fill="#000" style="white-space:pre" >u</text><text x="1037.0" y="187.3" font-family="Liberation Sans" font-size="24.65" text-anchor="start" fill="#000" style="white-space:pre" >)</text><path d="M832.8,232 V203.5 M824.3,216 L832.8,203.5 L841.3,216" fill="none" stroke="#111" stroke-width="1.7"/><path d="M875.3,232 V203.5 M866.8,216 L875.3,203.5 L883.8,216" fill="none" stroke="#111" stroke-width="1.7"/><path d="M915.7,232 V203.5 M907.2,216 L915.7,203.5 L924.2,216" fill="none" stroke="#111" stroke-width="1.7"/><path d="M957.2,232 V203.5 M948.7,216 L957.2,203.5 L965.7,216" fill="none" stroke="#111" stroke-width="1.7"/><path d="M995.5,232 V203.5 M987.0,216 L995.5,203.5 L1004.0,216" fill="none" stroke="#111" stroke-width="1.7"/><defs><linearGradient id="g_cb" x1="0" y1="0" x2="0" y2="1"><stop offset="0" stop-color="#e8262a"/><stop offset="0.25" stop-color="#f08a7a"/><stop offset="0.5" stop-color="#f7f0cf"/><stop offset="0.75" stop-color="#a9c8e2"/><stop offset="1" stop-color="#5a9bd8"/></linearGradient></defs><rect x="1045.5" y="269.5" width="12.5" height="92" fill="url(#g_cb)" stroke="#222" stroke-width="1.6"/><text x="1044.5" y="255.0" font-family="Liberation Serif" font-size="22" font-style="italic" text-anchor="start" fill="#000" style="white-space:pre" >u</text><text x="737.0" y="420.8" font-family="Liberation Serif" font-size="28" font-style="italic" font-weight="bold" text-anchor="start" fill="#000" style="white-space:pre" >θ</text><text x="751.5" y="426.8" font-family="Liberation Serif" font-size="20" font-style="italic" font-weight="bold" text-anchor="start" fill="#000" style="white-space:pre" >w</text><text x="764.9" y="420.8" font-family="Liberation Sans" font-size="27.6" text-anchor="start" fill="#000" style="white-space:pre" >:</text><text x="785.6" y="420.8" font-family="Liberation Sans" font-size="27.6" text-anchor="start" fill="#000" style="white-space:pre" >constitutive parameters</text><rect x="1565.4" y="226" width="139.6" height="39.7" fill="#bdbdbd" opacity="0.85"/><text x="1581.8" y="254.9" font-family="Liberation Sans" font-size="30.3" text-anchor="start" fill="none" style="white-space:pre" stroke="#fff" stroke-width="5" stroke-linejoin="round" opacity="0.9">Requiring</text><text x="1581.8" y="254.9" font-family="Liberation Sans" font-size="30.3" text-anchor="start" fill="#000" style="white-space:pre" >Requiring</text><text x="1591.9" y="291.0" font-family="Liberation Sans" font-size="30.3" text-anchor="start" fill="none" style="white-space:pre" stroke="#fff" stroke-width="5" stroke-linejoin="round" opacity="0.9">full fields</text><text x="1591.9" y="291.0" font-family="Liberation Sans" font-size="30.3" text-anchor="start" fill="#000" style="white-space:pre" >full fields</text><text x="1537.0" y="327.0" font-family="Liberation Sans" font-size="30.3" text-anchor="start" fill="none" style="white-space:pre" stroke="#fff" stroke-width="5" stroke-linejoin="round" opacity="0.9">for discovery</text><text x="1537.0" y="327.0" font-family="Liberation Sans" font-size="30.3" text-anchor="start" fill="#000" style="white-space:pre" >for discovery</text><defs><linearGradient id="g_cb2" x1="0" y1="0" x2="0" y2="1"><stop offset="0" stop-color="#e8151f"/><stop offset="0.3" stop-color="#f39a85"/><stop offset="0.5" stop-color="#f8f1cf"/><stop offset="0.75" stop-color="#b2cfe6"/><stop offset="1" stop-color="#5f9fdc"/></linearGradient></defs><rect x="1677.5" y="410" width="24" height="159" fill="url(#g_cb2)" stroke="#fff" stroke-width="1.6"/><text x="1681.0" y="377.0" font-family="Liberation Serif" font-size="30" font-style="italic" text-anchor="start" fill="#fff" style="white-space:pre" >u</text><text x="2086.5" y="297.0" font-family="Liberation Serif" font-size="28" text-anchor="start" fill="#000" style="white-space:pre" >∂</text><path d="M2080,306 H2106 M2145,306 H2172" stroke="#222" stroke-width="1.5"/><text x="2080.0" y="333.0" font-family="Liberation Serif" font-size="28" text-anchor="start" fill="#000" style="white-space:pre" >∂</text><text x="2093.8" y="333.0" font-family="Liberation Serif" font-size="28" font-style="italic" text-anchor="start" fill="#000" style="white-space:pre" >x</text><text x="2118.0" y="322.0" font-family="Liberation Serif" font-size="26" text-anchor="start" fill="#000" style="white-space:pre" >,</text><text x="2151.5" y="297.0" font-family="Liberation Serif" font-size="28" text-anchor="start" fill="#000" style="white-space:pre" >∂</text><text x="2145.0" y="333.0" font-family="Liberation Serif" font-size="28" text-anchor="start" fill="#000" style="white-space:pre" >∂</text><text x="2158.8" y="333.0" font-family="Liberation Serif" font-size="28" font-style="italic" text-anchor="start" fill="#000" style="white-space:pre" >y</text><text x="2076.8" y="445.8" font-family="Liberation Sans" font-size="30.5" text-anchor="start" fill="#000" style="white-space:pre" >Finding </text><text x="2185.3" y="445.8" font-family="Liberation Serif" font-size="31" font-style="italic" font-weight="bold" text-anchor="start" fill="#000" style="white-space:pre" >θ</text><text x="2201.4" y="452.8" font-family="Liberation Serif" font-size="22" font-style="italic" font-weight="bold" text-anchor="start" fill="#000" style="white-space:pre" >w</text>
<!-- partb --><text x="0.0" y="1016.5" font-family="Liberation Serif" font-size="79" text-anchor="start" fill="#000" style="white-space:pre" >(</text><text x="26.3" y="1016.5" font-family="Liberation Serif" font-size="76" font-weight="bold" text-anchor="start" fill="#000" style="white-space:pre" >b</text><text x="68.6" y="1016.5" font-family="Liberation Serif" font-size="79" text-anchor="start" fill="#000" style="white-space:pre" >)</text><text x="138.5" y="1016.8" font-family="Liberation Sans" font-size="61" text-anchor="start" fill="#000" style="white-space:pre" >Discovery with  two-stage PINN</text><path d="M72.6,1133 V1082.5 M63.599999999999994,1097 L72.6,1082.5 L81.6,1097" fill="none" stroke="#111" stroke-width="1.5"/><path d="M168.9,1133 V1082.5 M159.9,1097 L168.9,1082.5 L177.9,1097" fill="none" stroke="#111" stroke-width="1.5"/><path d="M264.3,1133 V1082.5 M255.3,1097 L264.3,1082.5 L273.3,1097" fill="none" stroke="#111" stroke-width="1.5"/><path d="M357.7,1133 V1082.5 M348.7,1097 L357.7,1082.5 L366.7,1097" fill="none" stroke="#111" stroke-width="1.5"/><path d="M449.4,1133 V1082.5 M440.4,1097 L449.4,1082.5 L458.4,1097" fill="none" stroke="#111" stroke-width="1.5"/><circle cx="74.6" cy="1255.5" r="8.3" fill="#8c8c8c" stroke="#1a1a1a" stroke-width="2.4"/><circle cx="165.4" cy="1266.4" r="8.3" fill="#8c8c8c" stroke="#1a1a1a" stroke-width="2.4"/><circle cx="250.3" cy="1314.7" r="8.3" fill="#8c8c8c" stroke="#1a1a1a" stroke-width="2.4"/><circle cx="305.3" cy="1390.8" r="8.3" fill="#8c8c8c" stroke="#1a1a1a" stroke-width="2.4"/><circle cx="327.9" cy="1503.5" r="8.3" fill="#8c8c8c" stroke="#1a1a1a" stroke-width="2.4"/><circle cx="328.5" cy="1503.5" r="24.5" fill="none" stroke="#fff" stroke-width="6"/><circle cx="328.5" cy="1503.5" r="24.5" fill="none" stroke="#3c7fc1" stroke-width="2.8" stroke-dasharray="7 5"/><text x="38.5" y="1404.0" font-family="Liberation Sans" font-size="31" text-anchor="start" fill="#000" style="white-space:pre" >Only sparse</text><text x="38.5" y="1439.0" font-family="Liberation Sans" font-size="30.4" text-anchor="start" fill="#000" style="white-space:pre" >observations</text><g transform="translate(220.0,0) scale(1.0226,1)"><text x="0.0" y="1439.0" font-family="Liberation Sans" font-size="26" text-anchor="start" fill="#000" style="white-space:pre" >(5)</text></g><text x="38.5" y="1474.0" font-family="Liberation Sans" font-size="31" text-anchor="start" fill="#000" style="white-space:pre" >(efficient extraction)</text><circle cx="855.8" cy="1253.9" r="8" fill="#2f70b4" stroke="#111" stroke-width="2.4"/><circle cx="945.6" cy="1265" r="8" fill="#5597d2" stroke="#111" stroke-width="2.4"/><circle cx="1031" cy="1313" r="8" fill="#f6d8bd" stroke="#111" stroke-width="2.4"/><circle cx="1087" cy="1389" r="8" fill="#e9917a" stroke="#111" stroke-width="2.4"/><circle cx="1109" cy="1501" r="8" fill="#c3202f" stroke="#111" stroke-width="2.4"/><circle cx="1109" cy="1501" r="24.5" fill="none" stroke="#fff" stroke-width="6"/><path d="M1084.5,1501 A24.5,24.5 0 0 1 1133.5,1501" fill="none" stroke="#c0404a" stroke-width="2.8" stroke-dasharray="7 5"/><path d="M1133.5,1501 A24.5,24.5 0 0 1 1084.5,1501" fill="none" stroke="#4a7fb8" stroke-width="2.8" stroke-dasharray="7 5"/><rect x="1077" y="1154" width="139" height="38.4" fill="#bcd5ee"/><text x="1089.3" y="1185.0" font-family="Liberation Sans" font-size="30.3" text-anchor="start" fill="none" style="white-space:pre" stroke="#fff" stroke-width="5" stroke-linejoin="round" opacity="0.9">Not used</text><text x="1089.3" y="1185.0" font-family="Liberation Sans" font-size="30.3" text-anchor="start" fill="#000" style="white-space:pre" >Not used</text><text x="1091.0" y="1222.0" font-family="Liberation Sans" font-size="30.3" text-anchor="start" fill="none" style="white-space:pre" stroke="#fff" stroke-width="5" stroke-linejoin="round" opacity="0.9">full fields</text><text x="1091.0" y="1222.0" font-family="Liberation Sans" font-size="30.3" text-anchor="start" fill="#000" style="white-space:pre" >full fields</text><text x="1067.4" y="1258.8" font-family="Liberation Sans" font-size="30.3" text-anchor="start" fill="none" style="white-space:pre" stroke="#fff" stroke-width="5" stroke-linejoin="round" opacity="0.9">for training</text><text x="1067.4" y="1258.8" font-family="Liberation Sans" font-size="30.3" text-anchor="start" fill="#000" style="white-space:pre" >for training</text><rect x="864.4" y="1391.6" width="188.1" height="33.2" fill="#bcd5ee"/><rect x="864.4" y="1428.4" width="225" height="33.2" fill="#bcd5ee"/><rect x="864.4" y="1465.3" width="154.9" height="33.2" fill="#bcd5ee"/><text x="872.0" y="1417.4" font-family="Liberation Sans" font-size="31" text-anchor="start" fill="#000" style="white-space:pre" >Only sparse</text><text x="872.0" y="1453.0" font-family="Liberation Sans" font-size="30.3" text-anchor="start" fill="#000" style="white-space:pre" >observations</text><g transform="translate(1051.6,0) scale(0.9396,1)"><text x="0.0" y="1453.0" font-family="Liberation Sans" font-size="26" text-anchor="start" fill="#000" style="white-space:pre" >(5)</text></g><text x="873.0" y="1490.0" font-family="Liberation Sans" font-size="31" text-anchor="start" fill="#000" style="white-space:pre" >for training</text><defs><linearGradient id="g_pinn" x1="0" y1="0" x2="1" y2="0.2">
<stop offset="0" stop-color="#8fabde"/><stop offset="0.45" stop-color="#819fd3"/><stop offset="1" stop-color="#6e8bbd"/></linearGradient>
<radialGradient id="g_glow"><stop offset="0.5" stop-color="#fff" stop-opacity="0.75"/><stop offset="1" stop-color="#fff" stop-opacity="0"/></radialGradient></defs><rect x="494.8" y="1205.4" width="379" height="285.9" rx="128" ry="143" fill="url(#g_pinn)"/><circle cx="598.5" cy="1311.8" r="38" fill="url(#g_glow)"/><circle cx="599.5" cy="1398.4" r="38" fill="url(#g_glow)"/><circle cx="683.9" cy="1252.3" r="38" fill="url(#g_glow)"/><circle cx="683.9" cy="1347.9" r="38" fill="url(#g_glow)"/><circle cx="683.9" cy="1443.5" r="38" fill="url(#g_glow)"/><circle cx="774.7" cy="1347.9" r="38" fill="url(#g_glow)"/><path d="M619.5,1311.8L662.9,1252.3M619.5,1311.8L662.9,1347.9M619.5,1311.8L662.9,1443.5M620.5,1398.4L662.9,1252.3M620.5,1398.4L662.9,1347.9M620.5,1398.4L662.9,1443.5M704.9,1252.3L753.7,1347.9M704.9,1347.9L753.7,1347.9M704.9,1443.5L753.7,1347.9" stroke="#1d2f50" stroke-width="1.4" fill="none" opacity="0.85"/><circle cx="598.5" cy="1311.8" r="21.6" fill="#9fc3e7" stroke="#f0f6ff" stroke-width="1.6"/><circle cx="599.5" cy="1398.4" r="21.6" fill="#9fc3e7" stroke="#f0f6ff" stroke-width="1.6"/><circle cx="683.9" cy="1252.3" r="21.6" fill="#2d74b9" stroke="#f0f6ff" stroke-width="1.6"/><circle cx="683.9" cy="1347.9" r="21.6" fill="#2d74b9" stroke="#f0f6ff" stroke-width="1.6"/><circle cx="683.9" cy="1443.5" r="21.6" fill="#2d74b9" stroke="#f0f6ff" stroke-width="1.6"/><circle cx="774.7" cy="1347.9" r="21.6" fill="#1f4f80" stroke="#f0f6ff" stroke-width="1.6"/><text x="733.3" y="1269.4" font-family="Liberation Sans" font-size="33.8" text-anchor="start" fill="#fff" style="white-space:pre" >PINN</text><rect x="208.7" y="1574.1" width="66.5" height="65.2" rx="9" fill="#bdd7ee" stroke="#7a7a7a" stroke-width="2.2"/><rect x="292" y="1574.1" width="66.5" height="65.2" rx="9" fill="#bdd7ee" stroke="#7a7a7a" stroke-width="2.2"/><rect x="371.1" y="1574.1" width="66.5" height="65.2" rx="9" fill="#bdd7ee" stroke="#7a7a7a" stroke-width="2.2"/><text x="229.9" y="1617.0" font-family="Liberation Sans" font-size="49" text-anchor="start" fill="#000" style="white-space:pre" >x</text><text x="312.7" y="1617.0" font-family="Liberation Sans" font-size="49" text-anchor="start" fill="#000" style="white-space:pre" >y</text><text x="397.4" y="1620.0" font-family="Liberation Sans" font-size="49" text-anchor="start" fill="#000" style="white-space:pre" >t</text><rect x="68.6" y="1654.4" width="374.7" height="53.5" rx="3" fill="#bdd7ee"/><text x="112.0" y="1690.5" font-family="Liberation Sans" font-size="33.7" text-anchor="start" fill="#000" style="white-space:pre" >Sparse observation</text><text x="79.6" y="1752.0" font-family="Liberation Sans" font-size="34" text-anchor="start" fill="#000" style="white-space:pre" >(Coordinate, Time step)</text><path d="M447,1603 C495,1590 525,1545 533,1452" fill="none" stroke="#3c6fc0" stroke-width="2.6"/><path d="M534.5,1441 L543,1462 L534,1456 L525,1461 Z" fill="#3c6fc0"/><path d="M723.6,1491.7 C728,1560 790,1601.7 870,1601.7 L1025,1601.7" fill="none" stroke="#3c6fc0" stroke-width="2.6"/><path d="M1035.5,1601.7 L1014,1592 L1019,1601.7 L1014,1611.4 Z" fill="#3c6fc0"/><defs><linearGradient id="g_u" x1="0" y1="0" x2="1" y2="0.25">
<stop offset="0" stop-color="#3e7fc0"/><stop offset="0.3" stop-color="#a8cce4"/><stop offset="0.5" stop-color="#f7f1e1"/><stop offset="0.68" stop-color="#f2bba2"/><stop offset="1" stop-color="#b72a3d"/></linearGradient></defs><rect x="1055.4" y="1571.2" width="64.5" height="64.2" rx="9" fill="url(#g_u)"/><text x="1075.0" y="1614.0" font-family="Liberation Serif" font-size="42" font-style="italic" font-weight="bold" text-anchor="start" fill="#000" style="white-space:pre" >u</text><path d="M1134,1597 H1253.6 M1253.6,1392.6 V1601.7 M1253.6,1392.6 H1362 M1253.6,1601.7 H1362" fill="none" stroke="#3c6fc0" stroke-width="2.6"/><path d="M1374,1392.6 L1352,1383 L1357,1392.6 L1352,1402.2 Z M1374,1601.7 L1352,1592 L1357,1601.7 L1352,1611.4 Z" fill="#3c6fc0"/><text x="1147.0" y="1584.4" font-family="Liberation Sans" font-size="31" text-anchor="start" fill="#000" style="white-space:pre" >Sparse</text><text x="1150.0" y="1620.6" font-family="Liberation Sans" font-size="31" text-anchor="start" fill="#000" style="white-space:pre" >points</text><text x="1297.6" y="1571.9" font-family="Liberation Sans" font-size="31" text-anchor="start" fill="#000" style="white-space:pre" transform="rotate(-90 1297.6 1571.9)">Collocation</text><text x="1338.5" y="1538.8" font-family="Liberation Sans" font-size="31" text-anchor="start" fill="#000" style="white-space:pre" transform="rotate(-90 1338.5 1538.8)">points</text><rect x="913.9" y="1652" width="398.8" height="53.5" rx="3" fill="#bdd7ee"/><text x="947.5" y="1689.8" font-family="Liberation Sans" font-size="33.8" text-anchor="start" fill="#000" style="white-space:pre" >Sparse displacements</text><text x="1042.4" y="1748.0" font-family="Liberation Sans" font-size="34" text-anchor="start" fill="#000" style="white-space:pre" >(5 points)</text>
<!-- right --><path d="M1697,1441 C1770,1432 1822,1330 1847.5,1240 L1847.5,1605 C1822,1530 1770,1478 1697,1470 Z" fill="#c5d4ee"/><rect x="1846.6" y="1183.4" width="387.9" height="440.6" rx="23" fill="#c5d4ee"/><text x="1442.0" y="1171.3" font-family="Liberation Sans" font-size="27.3" text-anchor="start" fill="#000" style="white-space:pre" >Weak-form loss</text><text x="1407.0" y="1278.3" font-family="Liberation Sans" font-size="27.55" text-anchor="start" fill="#000" style="white-space:pre" >Strain energy density</text><text x="1406.0" y="1381.3" font-family="Liberation Sans" font-size="27.8" text-anchor="start" fill="#000" style="white-space:pre" >Deformation gradient</text><text x="1413.3" y="1483.7" font-family="Liberation Sans" font-size="27.6" text-anchor="start" fill="#000" style="white-space:pre" >Candidate functions</text><text x="1435.0" y="1586.2" font-family="Liberation Sans" font-size="27.5" text-anchor="start" fill="#000" style="white-space:pre" >Sparse data loss</text><path d="M1422.7,1189.0 C1421.2,1185.5 1417.1,1186.0 1416.8,1194.0 L1413.9,1230.6 C1413.6,1238.6 1409.5,1239.1 1408.0,1235.6" fill="none" stroke="#000" stroke-width="1.8" stroke-linecap="round"/><g transform="translate(1432.4,0) scale(1.0000,1)"><text x="0.0" y="1218.4" font-family="Liberation Serif" font-size="26" font-style="italic" font-weight="bold" text-anchor="start" fill="#000" style="white-space:pre" >P</text></g><g transform="translate(1449.0,0) scale(0.9904,1)"><text x="0.0" y="1218.4" font-family="Liberation Serif" font-size="26" text-anchor="start" fill="#000" style="white-space:pre" >:∇</text></g><g transform="translate(1474.2,0) scale(1.2222,1)"><text x="0.0" y="1225.0" font-family="Liberation Serif" font-size="18" font-style="italic" text-anchor="start" fill="#000" style="white-space:pre" >x</text></g><g transform="translate(1485.0,0) scale(1.1667,1)"><text x="0.0" y="1218.4" font-family="Liberation Serif" font-size="26" font-style="italic" font-weight="bold" text-anchor="start" fill="#000" style="white-space:pre" >v</text></g><g transform="translate(1500.0,0) scale(0.9062,1)"><text x="0.0" y="1218.4" font-family="Liberation Serif" font-size="26" font-style="italic" text-anchor="start" fill="#000" style="white-space:pre" >dV</text></g><path d="M1544.6,1210 H1557" stroke="#000" stroke-width="1.6"/><path d="M1579.5,1189.0 C1578.0,1185.5 1573.9,1186.0 1573.6,1194.0 L1570.7,1230.6 C1570.4,1238.6 1566.3,1239.1 1564.8,1235.6" fill="none" stroke="#000" stroke-width="1.8" stroke-linecap="round"/><g transform="translate(1588.0,0) scale(1.2120,1)"><text x="0.0" y="1218.4" font-family="Liberation Serif" font-size="26" font-style="italic" font-weight="bold" text-anchor="start" fill="#000" style="white-space:pre" >t̄v</text></g><g transform="translate(1613.0,0) scale(1.0115,1)"><text x="0.0" y="1218.4" font-family="Liberation Serif" font-size="26" font-style="italic" text-anchor="start" fill="#000" style="white-space:pre" >dS</text></g><g transform="translate(1645.9,0) scale(1.1157,1)"><text x="0.0" y="1218.4" font-family="Liberation Serif" font-size="26" text-anchor="start" fill="#000" style="white-space:pre" >= 0</text></g><g transform="translate(1442.2,0) scale(1.1568,1)"><text x="0.0" y="1319.3" font-family="Liberation Serif" font-size="32" font-style="italic" text-anchor="start" fill="#000" style="white-space:pre" >P</text><text x="19.5" y="1319.3" font-family="Liberation Serif" font-size="32" text-anchor="start" fill="#000" style="white-space:pre" > = </text><text x="53.6" y="1319.3" font-family="Liberation Serif" font-size="32" font-style="italic" text-anchor="start" fill="#000" style="white-space:pre" >∂W</text><text x="96.1" y="1319.3" font-family="Liberation Serif" font-size="32" text-anchor="start" fill="#000" style="white-space:pre" >/</text><text x="105.0" y="1319.3" font-family="Liberation Serif" font-size="32" font-style="italic" text-anchor="start" fill="#000" style="white-space:pre" >∂F</text></g><g transform="translate(1442.2,0) scale(1.1512,1)"><text x="0.0" y="1421.7" font-family="Liberation Serif" font-size="32" font-style="italic" text-anchor="start" fill="#000" style="white-space:pre" >F</text><text x="19.5" y="1421.7" font-family="Liberation Serif" font-size="32" text-anchor="start" fill="#000" style="white-space:pre" > = </text><text x="53.6" y="1421.7" font-family="Liberation Serif" font-size="32" font-style="italic" text-anchor="start" fill="#000" style="white-space:pre" >I</text><text x="64.2" y="1421.7" font-family="Liberation Serif" font-size="32" text-anchor="start" fill="#000" style="white-space:pre" > + ∇</text><text x="119.3" y="1428.7" font-family="Liberation Serif" font-size="22" font-style="italic" text-anchor="start" fill="#000" style="white-space:pre" >x</text><text x="129.1" y="1421.7" font-family="Liberation Serif" font-size="32" font-style="italic" text-anchor="start" fill="#000" style="white-space:pre" >u</text></g><g transform="translate(1441.6,0) scale(1.2153,1)"><text x="0.0" y="1524.0" font-family="Liberation Serif" font-size="32" font-style="italic" text-anchor="start" fill="#000" style="white-space:pre" >W</text><text x="26.7" y="1524.0" font-family="Liberation Serif" font-size="32" text-anchor="start" fill="#000" style="white-space:pre" > = </text><text x="60.7" y="1524.0" font-family="Liberation Serif" font-size="32" font-style="italic" text-anchor="start" fill="#000" style="white-space:pre" >Q</text><text x="83.8" y="1511.0" font-family="Liberation Serif" font-size="20" font-style="italic" text-anchor="start" fill="#000" style="white-space:pre" >T</text><text x="97.9" y="1524.0" font-family="Liberation Serif" font-size="32" font-style="italic" font-weight="bold" text-anchor="start" fill="#000" style="white-space:pre" >θ</text><text x="114.5" y="1531.0" font-family="Liberation Serif" font-size="22" font-style="italic" font-weight="bold" text-anchor="start" fill="#000" style="white-space:pre" >w</text></g><g transform="translate(1453.8,0) scale(1.1888,1)"><text x="0.0" y="1626.5" font-family="Liberation Serif" font-size="32" font-style="italic" font-weight="bold" text-anchor="start" fill="#000" style="white-space:pre" >u</text><text x="17.8" y="1626.5" font-family="Liberation Serif" font-size="32" text-anchor="start" fill="#000" style="white-space:pre" >(</text><text x="28.5" y="1626.5" font-family="Liberation Serif" font-size="32" font-style="italic" font-weight="bold" text-anchor="start" fill="#000" style="white-space:pre" >X</text><text x="49.8" y="1633.5" font-family="Liberation Serif" font-size="22" font-style="italic" font-weight="bold" text-anchor="start" fill="#000" style="white-space:pre" >s</text><text x="58.4" y="1626.5" font-family="Liberation Serif" font-size="32" text-anchor="start" fill="#000" style="white-space:pre" >)</text><text x="69.0" y="1626.5" font-family="Liberation Serif" font-size="32" text-anchor="start" fill="#000" style="white-space:pre" > − </text><text x="103.1" y="1626.5" font-family="Liberation Serif" font-size="32" font-style="italic" font-weight="bold" text-anchor="start" fill="#000" style="white-space:pre" >u</text><text x="120.9" y="1633.5" font-family="Liberation Serif" font-size="22" font-style="italic" font-weight="bold" text-anchor="start" fill="#000" style="white-space:pre" >s</text></g><path d="M1699,1293 C1765,1282 1762,1200 1712,1189" fill="none" stroke="#1f3d73" stroke-width="2.6"/><path d="M1703,1186 L1722,1180 L1717,1190 L1720,1200 Z" fill="#1f3d73"/><path d="M1700,1392.7 C1750,1384 1748,1312 1713,1297" fill="none" stroke="#1f3d73" stroke-width="2.6"/><path d="M1699,1496.6 C1795,1480 1790,1322 1713,1297" fill="none" stroke="#7fa6d6" stroke-width="2.2"/><path d="M1704,1294 L1722,1288 L1718,1297 L1722,1307 Z" fill="#1f3d73"/><text x="1919.0" y="1224.4" font-family="Liberation Serif" font-size="30" font-style="italic" text-anchor="start" fill="#000" style="white-space:pre" >Q</text><text x="1940.7" y="1210.4" font-family="Liberation Serif" font-size="20" font-style="italic" text-anchor="start" fill="#000" style="white-space:pre" >T</text><text x="1953.8" y="1224.4" font-family="Liberation Sans" font-size="28" text-anchor="start" fill="#000" style="white-space:pre" > :</text><text x="1974.4" y="1224.4" font-family="Liberation Sans" font-size="27.9" text-anchor="start" fill="#000" style="white-space:pre" >candidate functions</text><path d="M1871.5,1268 Q1872,1258 1882,1258 L1972,1258 Q1981,1258 1982,1248 Q1983,1258 1992,1258 L2083,1258 Q2093,1258 2094,1268" fill="none" stroke="#222" stroke-width="1.6"/><text x="1883" y="1297" font-family="Liberation Serif" font-style="italic" font-size="21" text-anchor="middle" transform="rotate(32 1883 1297)" fill="#111" stroke="#e9eff9" stroke-width="4" stroke-opacity="0.8" paint-order="stroke" style="white-space:pre">(I₁−3)</text><text x="1934.4" y="1296" font-family="Liberation Serif" font-style="italic" font-size="21" text-anchor="middle" transform="rotate(32 1934.4 1296)" fill="#111" stroke="#e9eff9" stroke-width="4" stroke-opacity="0.8" paint-order="stroke" style="white-space:pre">(I₂−3)</text><text x="1993" y="1296" font-family="Liberation Serif" font-style="italic" font-size="21" text-anchor="middle" transform="rotate(32 1993 1296)" fill="#111" stroke="#e9eff9" stroke-width="4" stroke-opacity="0.8" paint-order="stroke" style="white-space:pre">(J − 1)</text><text x="2091" y="1291" font-family="Liberation Serif" font-style="italic" font-size="21" text-anchor="middle" transform="rotate(32 2091 1291)" fill="#111" stroke="#e9eff9" stroke-width="4" stroke-opacity="0.8" paint-order="stroke" style="white-space:pre">ln(J)⁴</text><rect x="1870" y="1315" width="23.5" height="278.3" rx="11.7" fill="#dce6f5" stroke="#111" stroke-width="3"/><rect x="1921.3" y="1315" width="23.5" height="278.3" rx="11.7" fill="#dce6f5" stroke="#111" stroke-width="3"/><rect x="1974" y="1315" width="23.5" height="278.3" rx="11.7" fill="#dce6f5" stroke="#111" stroke-width="3"/><rect x="2077.9" y="1315" width="23.5" height="278.3" rx="11.7" fill="#dce6f5" stroke="#111" stroke-width="3"/><rect x="2168.6" y="1315" width="23.4" height="284" rx="11.7" fill="#b9d5b9" stroke="#111" stroke-width="3"/><circle cx="2180.3" cy="1325.4" r="3" fill="none" stroke="#7a9ab8" stroke-width="1.3"/><circle cx="2180.3" cy="1350.3" r="3" fill="none" stroke="#7a9ab8" stroke-width="1.3"/><circle cx="2180.3" cy="1378" r="3" fill="none" stroke="#7a9ab8" stroke-width="1.3"/><circle cx="2180.3" cy="1479" r="3" fill="none" stroke="#7a9ab8" stroke-width="1.3"/><circle cx="2180.3" cy="1549.4" r="3" fill="none" stroke="#7a9ab8" stroke-width="1.3"/><path d="M1851,1316 H1846.5 V1595 H1851 M2124,1316 H2128.5 V1595 H2124 M2150,1316 H2145.5 V1595 H2150 M2210,1316 H2214.5 V1595 H2210" fill="none" stroke="#222" stroke-width="1.6"/><circle cx="2024" cy="1460" r="1.6" fill="#222"/><circle cx="2033" cy="1460" r="1.6" fill="#222"/><circle cx="2042" cy="1460" r="1.6" fill="#222"/><text x="2162.0" y="1286.0" font-family="Liberation Serif" font-size="32" font-style="italic" font-weight="bold" text-anchor="start" fill="#000" style="white-space:pre" >θ</text><text x="2178.6" y="1293.0" font-family="Liberation Serif" font-size="22" font-style="italic" font-weight="bold" text-anchor="start" fill="#000" style="white-space:pre" >w</text><rect x="1707.2" y="1655.2" width="453.1" height="52.6" rx="3" fill="#bdd7ee"/><text x="1748.0" y="1693.5" font-family="Liberation Sans" font-size="33.7" text-anchor="start" fill="#000" style="white-space:pre" >Discovering unseen</text><g transform="translate(2051.7,0) scale(1.3438,1)"><text x="0.0" y="1693.5" font-family="Liberation Serif" font-size="32" font-style="italic" font-weight="bold" text-anchor="start" fill="#000" style="white-space:pre" >θ</text></g><g transform="translate(2074.5,0) scale(1.1467,1)"><text x="0.0" y="1701.0" font-family="Liberation Serif" font-size="22" font-style="italic" font-weight="bold" text-anchor="start" fill="#000" style="white-space:pre" >w</text></g><g transform="translate(2076.0,0) scale(1.2759,1)"><text x="0.0" y="1676.0" font-family="Liberation Serif" font-size="22" font-style="italic" font-weight="bold" text-anchor="start" fill="#000" style="white-space:pre" >opt</text></g><rect x="1848.7" y="1723" width="378.8" height="50" rx="3" fill="#bdd7ee"/><text x="1654.3" y="1755.8" font-family="Liberation Sans" font-size="33.6" text-anchor="start" fill="#000" style="white-space:pre" >satisfied with physics and sparse data</text>
</svg>
</body></html>
